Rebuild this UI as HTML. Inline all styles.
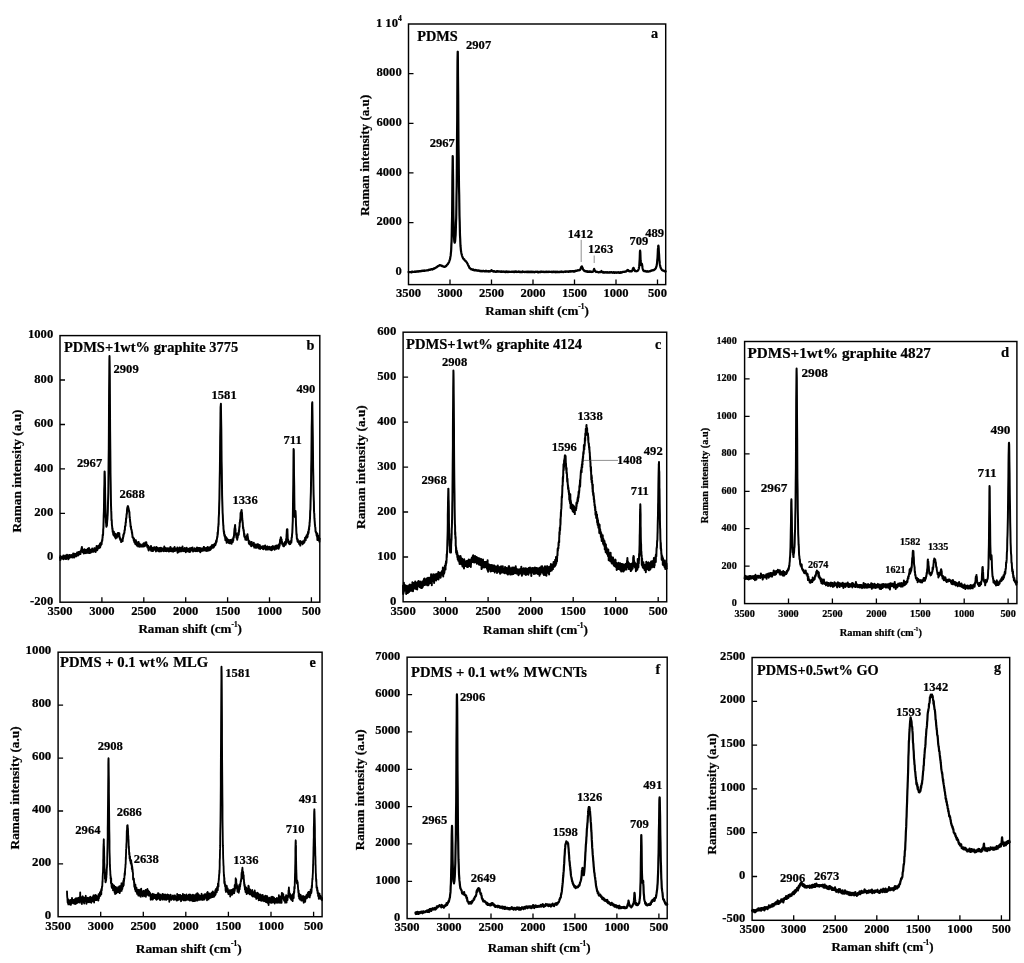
<!DOCTYPE html>
<html lang="en"><head><meta charset="utf-8"><title>Raman spectra of PDMS composites</title>
<style>html,body{margin:0;padding:0;background:#fff}body{width:1024px;height:963px;overflow:hidden}svg{display:block}text{font-family:"Liberation Serif", "DejaVu Serif", serif;font-weight:bold;fill:#000;stroke:#000;stroke-width:0.22;paint-order:stroke}.fr{fill:none;stroke:#000;stroke-width:1.45}.tk{stroke:#000;stroke-width:1.3;fill:none}.cv{fill:none;stroke:#000;stroke-linejoin:round;stroke-linecap:round}.th{stroke:#444;stroke-width:0.6}</style></head><body>
<svg width="1024" height="963" viewBox="0 0 1024 963">
<rect width="1024" height="963" fill="#fff"/>
<g id="panel-a">
<polyline class="cv" stroke-width="2.2" points="408.5,272 408.6,272 408.7,272.1 408.9,272.1 409,272.1 409.1,272 409.2,272 409.4,272.1 409.5,272 409.6,272 409.7,272 409.9,272.1 410,272.1 410.1,272.2 410.2,272.1 410.4,272 410.5,272 410.6,272.1 410.7,272.1 410.9,272.1 411,272.1 411.1,271.9 411.2,271.8 411.4,272 411.5,272.3 411.6,272.4 411.7,272.2 411.9,272 412,271.9 412.1,271.7 412.2,271.8 412.4,271.9 412.5,271.9 412.6,271.7 412.7,271.6 412.9,271.8 413,272 413.1,272 413.2,272 413.4,271.9 413.5,272 413.6,272 413.7,272 413.9,271.9 414,271.9 414.1,271.8 414.2,271.8 414.4,271.8 414.5,271.7 414.6,271.6 414.7,271.7 414.8,271.7 415,271.8 415.1,271.6 415.2,271.7 415.3,271.6 415.5,271.7 415.6,271.7 415.7,271.8 415.8,271.8 416,271.6 416.1,271.7 416.2,271.8 416.3,271.7 416.5,271.7 416.6,271.6 416.7,271.5 416.8,271.6 417,271.6 417.1,271.5 417.2,271.4 417.3,271.5 417.5,271.5 417.6,271.4 417.7,271.3 417.8,271.4 418,271.5 418.1,271.6 418.2,271.6 418.3,271.4 418.5,271.3 418.6,271.4 418.7,271.6 418.8,271.5 419,271.3 419.1,271.2 419.2,271.3 419.3,271.3 419.5,271.2 419.6,271.1 419.7,271.1 419.8,271.1 420,271.2 420.1,271.1 420.2,271.3 420.3,271.3 420.4,271.3 420.6,271.2 420.7,271.2 420.8,271.2 420.9,271 421.1,271 421.2,270.9 421.3,270.9 421.4,270.8 421.6,270.9 421.7,271.2 421.8,271 421.9,270.9 422.1,270.8 422.2,271 422.3,271 422.4,270.8 422.6,270.8 422.7,270.8 422.8,270.9 422.9,270.8 423.1,270.9 423.2,270.8 423.3,270.7 423.4,270.7 423.6,271 423.7,271 423.8,270.6 423.9,270.5 424.1,270.6 424.2,270.8 424.3,270.8 424.4,270.7 424.6,270.8 424.7,270.6 424.8,270.6 424.9,270.5 425.1,270.6 425.2,270.6 425.3,270.6 425.4,270.7 425.6,270.6 425.7,270.6 425.8,270.6 425.9,270.5 426.1,270.4 426.2,270.3 426.3,270.3 426.4,270.3 426.5,270.3 426.7,270.3 426.8,270.3 426.9,270.3 427,270.3 427.2,270.3 427.3,270.3 427.4,270.4 427.5,270.4 427.7,270.1 427.8,270.1 427.9,270.1 428,270.4 428.2,270.2 428.3,270.2 428.4,270 428.5,270 428.7,270 428.8,269.9 428.9,269.8 429,269.6 429.2,269.7 429.3,269.7 429.4,269.9 429.5,269.9 429.7,269.8 429.8,269.8 429.9,269.7 430,269.9 430.2,269.8 430.3,269.8 430.4,269.7 430.5,269.7 430.7,269.5 430.8,269.4 430.9,269.4 431,269.5 431.2,269.3 431.3,269.2 431.4,269.2 431.5,269.5 431.7,269.5 431.8,269.5 431.9,269.4 432,269.4 432.2,269.2 432.3,269.1 432.4,269.2 432.5,269.3 432.6,269.5 432.8,269.1 432.9,269.1 433,268.9 433.1,269 433.3,268.8 433.4,268.7 433.5,268.6 433.6,268.7 433.8,268.9 433.9,268.7 434,268.8 434.1,268.6 434.3,268.6 434.4,268.4 434.5,268.5 434.6,268.4 434.8,268.3 434.9,268.3 435,268.2 435.1,268.2 435.3,268.1 435.4,268 435.5,267.9 435.6,267.8 435.8,267.7 435.9,267.5 436,267.4 436.1,267.3 436.3,267.4 436.4,267.3 436.5,267.3 436.6,267.1 436.8,267.1 436.9,267 437,266.9 437.1,266.7 437.3,266.5 437.4,266.7 437.5,266.6 437.6,266.4 437.8,266.3 437.9,266.2 438,266.2 438.1,266.1 438.2,266.1 438.4,266 438.5,265.8 438.6,265.9 438.7,265.7 438.9,265.7 439,265.6 439.1,265.7 439.2,265.6 439.4,265.4 439.5,265.5 439.6,265.4 439.7,265.4 439.9,265.4 440,265.3 440.1,265.4 440.2,265.4 440.4,265.5 440.5,265.4 440.6,265.4 440.7,265.5 440.9,265.5 441,265.6 441.1,265.7 441.2,265.8 441.4,265.8 441.5,265.7 441.6,265.8 441.7,265.7 441.9,265.8 442,265.9 442.1,266 442.2,266.2 442.4,265.9 442.5,266.1 442.6,266 442.7,266.2 442.9,266.2 443,266.4 443.1,266.4 443.2,266.4 443.4,266.3 443.5,266.5 443.6,266.5 443.7,266.6 443.9,266.6 444,266.6 444.1,266.6 444.2,266.8 444.3,266.9 444.5,266.9 444.6,266.7 444.7,266.6 444.8,266.5 445,266.5 445.1,266.5 445.2,266.6 445.3,266.5 445.5,266.3 445.6,266.1 445.7,266.2 445.8,266.3 446,266.2 446.1,266.1 446.2,266 446.3,265.8 446.5,265.5 446.6,265.4 446.7,265.2 446.8,265.1 447,265 447.1,264.7 447.2,264.7 447.3,264.6 447.5,264.6 447.6,264.4 447.7,264.3 447.8,264.1 448,264 448.1,263.6 448.2,263.4 448.3,263.1 448.5,263.1 448.6,262.9 448.7,262.6 448.8,262.4 449,262.2 449.1,261.9 449.2,261.6 449.3,261.2 449.5,260.7 449.6,260.3 449.7,260 449.8,259.8 450,259.3 450.1,258.8 450.2,258.1 450.3,257.4 450.4,256.8 450.6,256 450.7,255.3 450.8,254 450.9,252.8 451.1,251.2 451.2,249.4 451.3,247 451.4,244.3 451.6,241 451.7,236.9 451.8,231.5 451.9,224.6 452.1,216 452.2,205 452.3,191.7 452.4,176.8 452.6,163.7 452.7,156 452.8,157.5 452.9,166.8 453.1,180.5 453.2,194.1 453.3,206 453.4,215.6 453.6,223.1 453.7,228.8 453.8,232.9 453.9,236 454.1,238.4 454.2,240.2 454.3,241.4 454.4,241.9 454.6,242.5 454.7,242.7 454.8,242.6 454.9,242.1 455.1,241.4 455.2,240.5 455.3,239 455.4,237.4 455.6,235.4 455.7,233.1 455.8,230.1 455.9,226.8 456,222.6 456.2,218 456.3,212.1 456.4,205.1 456.5,196.3 456.7,185.8 456.8,173.3 456.9,158.2 457,140.5 457.2,120.3 457.3,98.9 457.4,78.1 457.5,61.3 457.7,51.8 457.8,51.7 457.9,60.8 458,76.2 458.2,94.6 458.3,113 458.4,130 458.5,144.5 458.7,157.4 458.8,168.4 458.9,178.2 459,186.8 459.2,194.7 459.3,202.3 459.4,209.5 459.5,215.9 459.7,221.7 459.8,226.8 459.9,231.6 460,235.4 460.2,238.7 460.3,241.6 460.4,244 460.5,246 460.7,247.6 460.8,249.1 460.9,250.2 461,251.1 461.2,251.9 461.3,252.7 461.4,253.3 461.5,253.9 461.7,254.4 461.8,254.9 461.9,255.2 462,255.6 462.1,255.9 462.3,256.3 462.4,256.6 462.5,257.1 462.6,257.3 462.8,257.5 462.9,257.8 463,258.2 463.1,258.4 463.3,258.6 463.4,258.6 463.5,258.6 463.6,258.6 463.8,258.9 463.9,259.2 464,259.4 464.1,259.5 464.3,259.4 464.4,259.5 464.5,259.8 464.6,260.1 464.8,260.3 464.9,260.5 465,260.7 465.1,260.8 465.3,260.7 465.4,260.8 465.5,260.8 465.6,261 465.8,261.1 465.9,261.2 466,261.4 466.1,261.6 466.3,261.8 466.4,262 466.5,262.1 466.6,262.3 466.8,262.4 466.9,262.5 467,262.8 467.1,263 467.3,263.4 467.4,263.5 467.5,263.7 467.6,263.8 467.8,264.1 467.9,264.4 468,264.8 468.1,265.1 468.2,265.4 468.4,265.5 468.5,265.8 468.6,265.9 468.7,266.2 468.9,266.4 469,266.8 469.1,267 469.2,267.4 469.4,267.8 469.5,268 469.6,268 469.7,268 469.9,268.1 470,268.3 470.1,268.3 470.2,268.6 470.4,268.6 470.5,268.8 470.6,268.8 470.7,268.7 470.9,268.9 471,268.9 471.1,269.3 471.2,269.1 471.4,269.2 471.5,269.1 471.6,269.2 471.7,269.1 471.9,269.4 472,269.5 472.1,269.4 472.2,269.5 472.4,269.6 472.5,269.8 472.6,269.6 472.7,269.6 472.9,269.5 473,269.8 473.1,269.7 473.2,269.8 473.4,269.9 473.5,269.9 473.6,269.7 473.7,269.7 473.8,269.9 474,270 474.1,270.1 474.2,270.3 474.3,270.5 474.5,270.5 474.6,270.4 474.7,270.2 474.8,270.2 475,270.2 475.1,270.3 475.2,270.1 475.3,270 475.5,269.9 475.6,270.1 475.7,270.1 475.8,270.3 476,270.3 476.1,270.4 476.2,270.2 476.3,270.3 476.5,270.4 476.6,270.5 476.7,270.4 476.8,270.4 477,270.5 477.1,270.7 477.2,270.8 477.3,270.6 477.5,270.5 477.6,270.3 477.7,270.4 477.8,270.5 478,270.6 478.1,270.7 478.2,270.6 478.3,270.5 478.5,270.4 478.6,270.5 478.7,270.6 478.8,270.8 479,270.6 479.1,270.6 479.2,270.7 479.3,270.9 479.5,270.7 479.6,270.5 479.7,270.5 479.8,270.7 479.9,270.9 480.1,271.1 480.2,271.3 480.3,271.1 480.4,270.9 480.6,270.8 480.7,270.8 480.8,270.8 480.9,270.9 481.1,270.9 481.2,270.9 481.3,271 481.4,271.2 481.6,271.3 481.7,271.3 481.8,271.3 481.9,271.3 482.1,271.3 482.2,271.2 482.3,271.3 482.4,271.3 482.6,271.2 482.7,271 482.8,270.9 482.9,271 483.1,271.2 483.2,271.2 483.3,270.9 483.4,270.8 483.6,270.9 483.7,270.9 483.8,270.9 483.9,271 484.1,271.3 484.2,271.3 484.3,271.1 484.4,271.1 484.6,271.1 484.7,271.4 484.8,271.3 484.9,271.2 485.1,271.1 485.2,271 485.3,271.1 485.4,271 485.6,270.9 485.7,270.9 485.8,271 485.9,271.2 486,271.4 486.2,271.3 486.3,271.3 486.4,271 486.5,270.9 486.7,270.9 486.8,271.1 486.9,271.1 487,271.3 487.2,271.3 487.3,271.4 487.4,271.3 487.5,271.3 487.7,271.4 487.8,271.3 487.9,271.2 488,271.2 488.2,271.2 488.3,271.2 488.4,271.1 488.5,271.2 488.7,271.4 488.8,271.6 488.9,271.7 489,271.6 489.2,271.4 489.3,271.2 489.4,271.2 489.5,271.4 489.7,271.5 489.8,271.5 489.9,271.4 490,271.5 490.2,271.4 490.3,271.2 490.4,271.2 490.5,271 490.7,271.2 490.8,270.9 490.9,270.8 491,270.7 491.2,270.7 491.3,270.4 491.4,270.1 491.5,270.1 491.6,270.2 491.8,270.5 491.9,270.6 492,270.7 492.1,270.8 492.3,270.9 492.4,270.9 492.5,270.9 492.6,271 492.8,271.2 492.9,271.2 493,271.4 493.1,271.3 493.3,271.5 493.4,271.3 493.5,271.3 493.6,271.1 493.8,271.3 493.9,271.3 494,271.4 494.1,271.6 494.3,271.6 494.4,271.6 494.5,271.3 494.6,271.2 494.8,271.3 494.9,271.3 495,271.4 495.1,271.5 495.3,271.7 495.4,271.7 495.5,271.7 495.6,271.6 495.8,271.8 495.9,272 496,272 496.1,271.6 496.3,271.5 496.4,271.5 496.5,271.8 496.6,271.6 496.8,271.6 496.9,271.2 497,271.3 497.1,271.2 497.3,271.4 497.4,271.5 497.5,271.6 497.6,271.6 497.7,271.6 497.9,271.4 498,271.4 498.1,271.2 498.2,271.3 498.4,271.3 498.5,271.5 498.6,271.6 498.7,271.7 498.9,271.7 499,271.6 499.1,271.5 499.2,271.3 499.4,271.4 499.5,271.4 499.6,271.6 499.7,271.7 499.9,271.7 500,271.6 500.1,271.6 500.2,271.6 500.4,271.8 500.5,271.7 500.6,271.8 500.7,271.7 500.9,271.8 501,271.6 501.1,271.6 501.2,271.4 501.4,271.4 501.5,271.6 501.6,271.7 501.7,271.9 501.9,271.7 502,271.6 502.1,271.4 502.2,271.5 502.4,271.7 502.5,271.7 502.6,271.8 502.7,271.7 502.9,271.7 503,271.7 503.1,271.7 503.2,271.7 503.4,271.7 503.5,271.8 503.6,271.7 503.7,271.6 503.8,271.4 504,271.6 504.1,271.8 504.2,271.8 504.3,271.7 504.5,271.6 504.6,271.8 504.7,271.9 504.8,272 505,271.9 505.1,272.1 505.2,271.9 505.3,272.1 505.5,271.9 505.6,271.8 505.7,271.6 505.8,271.5 506,271.7 506.1,271.8 506.2,272 506.3,271.8 506.5,271.8 506.6,271.5 506.7,271.7 506.8,271.7 507,271.8 507.1,271.6 507.2,271.5 507.3,271.5 507.5,271.7 507.6,272 507.7,271.9 507.8,271.8 508,271.7 508.1,271.8 508.2,272 508.3,272.1 508.5,272 508.6,271.8 508.7,271.6 508.8,271.8 509,271.8 509.1,271.7 509.2,271.7 509.3,271.7 509.4,271.9 509.6,271.8 509.7,271.8 509.8,271.8 509.9,271.9 510.1,271.9 510.2,271.9 510.3,271.9 510.4,271.9 510.6,271.8 510.7,271.8 510.8,271.8 510.9,271.8 511.1,271.8 511.2,271.8 511.3,271.8 511.4,271.7 511.6,271.7 511.7,271.8 511.8,271.9 511.9,271.9 512.1,271.8 512.2,271.6 512.3,271.8 512.4,271.9 512.6,272 512.7,271.9 512.8,271.9 512.9,271.9 513.1,271.8 513.2,271.8 513.3,271.6 513.4,271.7 513.6,271.6 513.7,271.6 513.8,271.7 513.9,271.9 514.1,272.1 514.2,272.1 514.3,272 514.4,271.7 514.6,271.6 514.7,271.7 514.8,271.7 514.9,271.8 515.1,271.7 515.2,271.6 515.3,271.6 515.4,271.4 515.5,271.6 515.7,271.6 515.8,271.8 515.9,271.8 516,271.7 516.2,271.8 516.3,271.7 516.4,271.8 516.5,271.6 516.7,271.6 516.8,271.7 516.9,271.9 517,272.1 517.2,272 517.3,271.9 517.4,271.8 517.5,271.9 517.7,271.9 517.8,271.8 517.9,271.8 518,271.9 518.2,272 518.3,271.9 518.4,271.9 518.5,271.7 518.7,271.6 518.8,271.5 518.9,271.8 519,271.7 519.2,271.7 519.3,271.7 519.4,271.9 519.5,272 519.7,271.8 519.8,271.7 519.9,271.7 520,272 520.2,272 520.3,272.1 520.4,272 520.5,272 520.7,272 520.8,271.8 520.9,271.8 521,271.9 521.2,272 521.3,272.2 521.4,272 521.5,271.9 521.6,271.9 521.8,271.8 521.9,271.9 522,271.9 522.1,272 522.3,271.9 522.4,272 522.5,271.9 522.6,272.1 522.8,271.9 522.9,271.9 523,271.8 523.1,271.8 523.3,272 523.4,272 523.5,271.9 523.6,271.8 523.8,271.6 523.9,271.8 524,271.8 524.1,272 524.3,272 524.4,271.9 524.5,272 524.6,272.1 524.8,272.2 524.9,272.1 525,272 525.1,271.8 525.3,272 525.4,271.9 525.5,272 525.6,272 525.8,272 525.9,271.9 526,271.8 526.1,271.7 526.3,271.7 526.4,271.7 526.5,271.8 526.6,272 526.8,272.2 526.9,272.1 527,272 527.1,271.9 527.2,271.8 527.4,271.8 527.5,271.7 527.6,271.8 527.7,271.8 527.9,272 528,271.9 528.1,272 528.2,272 528.4,271.8 528.5,272 528.6,271.9 528.7,272.1 528.9,272 529,272 529.1,272.1 529.2,272 529.4,272.1 529.5,272 529.6,272 529.7,271.8 529.9,271.7 530,271.7 530.1,271.6 530.2,271.8 530.4,271.9 530.5,272.2 530.6,272 530.7,271.9 530.9,271.7 531,271.7 531.1,271.8 531.2,271.9 531.4,272.1 531.5,271.9 531.6,271.7 531.7,271.6 531.9,271.8 532,271.9 532.1,272 532.2,272 532.4,272.2 532.5,272.2 532.6,272.2 532.7,271.9 532.9,271.9 533,271.8 533.1,271.8 533.2,271.8 533.3,272.1 533.5,272.2 533.6,272.1 533.7,272 533.8,271.9 534,272 534.1,272 534.2,271.9 534.3,272.1 534.5,272.1 534.6,272.3 534.7,272.3 534.8,272.2 535,272.1 535.1,271.9 535.2,272 535.3,271.8 535.5,271.8 535.6,271.7 535.7,271.9 535.8,271.9 536,272 536.1,272 536.2,271.9 536.3,271.8 536.5,271.7 536.6,271.8 536.7,271.9 536.8,271.9 537,271.8 537.1,271.7 537.2,271.8 537.3,271.7 537.5,271.8 537.6,272 537.7,272.1 537.8,272 538,272.2 538.1,272.2 538.2,272.4 538.3,272.1 538.5,272.1 538.6,271.8 538.7,271.9 538.8,271.9 539,272 539.1,272 539.2,272.2 539.3,272.2 539.4,272.1 539.6,271.9 539.7,272 539.8,272.1 539.9,272.1 540.1,271.9 540.2,271.8 540.3,272 540.4,271.9 540.6,272.1 540.7,271.9 540.8,271.9 540.9,271.6 541.1,271.6 541.2,271.6 541.3,271.8 541.4,271.9 541.6,271.9 541.7,271.9 541.8,271.8 541.9,272 542.1,272 542.2,272 542.3,271.9 542.4,272 542.6,271.9 542.7,271.8 542.8,271.8 542.9,272 543.1,272.1 543.2,272.1 543.3,271.9 543.4,271.9 543.6,271.7 543.7,271.9 543.8,271.9 543.9,272 544.1,271.9 544.2,271.9 544.3,272 544.4,272 544.6,272 544.7,272 544.8,272.1 544.9,272 545,271.9 545.2,271.9 545.3,271.9 545.4,272 545.5,271.9 545.7,271.9 545.8,271.7 545.9,271.9 546,271.8 546.2,272 546.3,271.9 546.4,272 546.5,271.7 546.7,271.6 546.8,271.7 546.9,271.8 547,271.9 547.2,271.9 547.3,272 547.4,271.9 547.5,271.8 547.7,271.9 547.8,271.8 547.9,271.9 548,271.8 548.2,271.8 548.3,272 548.4,271.9 548.5,271.9 548.7,271.8 548.8,271.9 548.9,271.9 549,272 549.2,272 549.3,271.9 549.4,271.8 549.5,271.8 549.7,271.8 549.8,271.7 549.9,271.8 550,272 550.2,272 550.3,272 550.4,272 550.5,272 550.7,271.9 550.8,271.8 550.9,271.9 551,271.9 551.1,271.9 551.3,271.7 551.4,271.8 551.5,271.8 551.6,271.9 551.8,272 551.9,272.2 552,272 552.1,272 552.3,271.8 552.4,272.1 552.5,272 552.6,272.2 552.8,272.2 552.9,272.1 553,272 553.1,271.9 553.3,272 553.4,271.7 553.5,271.8 553.6,271.7 553.8,271.8 553.9,271.8 554,272 554.1,272 554.3,272 554.4,271.9 554.5,272 554.6,271.8 554.8,271.8 554.9,271.9 555,272 555.1,271.8 555.3,271.6 555.4,271.8 555.5,271.8 555.6,272.2 555.8,272.1 555.9,272.3 556,271.8 556.1,271.8 556.3,271.8 556.4,272 556.5,272.1 556.6,272 556.8,272 556.9,271.9 557,271.7 557.1,271.7 557.2,271.8 557.4,272.1 557.5,272.2 557.6,272 557.7,271.9 557.9,271.9 558,272 558.1,272.1 558.2,272.1 558.4,272.1 558.5,272 558.6,271.9 558.7,271.9 558.9,272 559,272 559.1,272.1 559.2,272 559.4,271.9 559.5,272 559.6,272 559.7,272 559.9,271.7 560,271.8 560.1,271.8 560.2,272 560.4,271.8 560.5,271.8 560.6,271.7 560.7,271.7 560.9,271.8 561,271.9 561.1,271.9 561.2,271.9 561.4,271.6 561.5,271.5 561.6,271.6 561.7,271.8 561.9,272.1 562,272.1 562.1,272.1 562.2,271.9 562.4,271.8 562.5,271.8 562.6,271.9 562.7,271.9 562.9,272 563,271.9 563.1,271.8 563.2,271.8 563.3,271.8 563.5,271.8 563.6,271.8 563.7,272 563.8,272.1 564,272 564.1,271.9 564.2,271.8 564.3,271.7 564.5,271.7 564.6,271.7 564.7,271.6 564.8,271.5 565,271.4 565.1,271.4 565.2,271.4 565.3,271.6 565.5,271.8 565.6,271.9 565.7,271.9 565.8,271.8 566,271.7 566.1,271.6 566.2,271.7 566.3,271.6 566.5,271.7 566.6,271.6 566.7,271.7 566.8,271.7 567,271.5 567.1,271.6 567.2,271.6 567.3,271.7 567.5,271.5 567.6,271.5 567.7,271.5 567.8,271.6 568,271.7 568.1,271.8 568.2,271.8 568.3,271.9 568.5,271.9 568.6,271.7 568.7,271.4 568.8,271.5 568.9,271.6 569.1,271.7 569.2,271.5 569.3,271.4 569.4,271.3 569.6,271.6 569.7,271.6 569.8,271.5 569.9,271.2 570.1,271.2 570.2,271.4 570.3,271.5 570.4,271.5 570.6,271.4 570.7,271.4 570.8,271.5 570.9,271.3 571.1,271.5 571.2,271.4 571.3,271.6 571.4,271.4 571.6,271.3 571.7,271.1 571.8,271.1 571.9,271.4 572.1,271.3 572.2,271.3 572.3,271.2 572.4,271.3 572.6,271.4 572.7,271.3 572.8,271.3 572.9,271.3 573.1,271.6 573.2,271.6 573.3,271.5 573.4,271.2 573.6,271.2 573.7,271.2 573.8,271.1 573.9,271.2 574.1,271.1 574.2,271.3 574.3,271.4 574.4,271.6 574.6,271.6 574.7,271.6 574.8,271.4 574.9,271 575,270.9 575.2,270.8 575.3,270.9 575.4,270.9 575.5,271 575.7,271 575.8,270.9 575.9,271 576,270.9 576.2,270.9 576.3,270.7 576.4,270.9 576.5,270.8 576.7,270.9 576.8,270.6 576.9,270.7 577,270.5 577.2,270.5 577.3,270.4 577.4,270.5 577.5,270.5 577.7,270.3 577.8,270.2 577.9,270.1 578,270.2 578.2,270.4 578.3,270.4 578.4,270.3 578.5,270.4 578.7,270.4 578.8,270.4 578.9,270.1 579,270.2 579.2,270.1 579.3,270.3 579.4,270 579.5,269.9 579.7,269.8 579.8,269.8 579.9,269.9 580,270 580.2,269.7 580.3,269.4 580.4,269.1 580.5,269 580.7,268.9 580.8,268.5 580.9,268.1 581,267.5 581.1,267.3 581.3,266.9 581.4,266.7 581.5,266.5 581.6,266.5 581.8,266.5 581.9,266.4 582,266.6 582.1,267 582.3,267.4 582.4,267.5 582.5,267.8 582.6,268.2 582.8,268.7 582.9,268.7 583,269.2 583.1,269.3 583.3,269.9 583.4,269.9 583.5,270.2 583.6,270 583.8,270.1 583.9,270.4 584,270.6 584.1,270.7 584.3,270.7 584.4,270.9 584.5,270.8 584.6,270.9 584.8,270.9 584.9,270.9 585,270.9 585.1,271 585.3,271.2 585.4,271.4 585.5,271.3 585.6,271.3 585.8,271.2 585.9,271.2 586,271.1 586.1,271.1 586.3,271.1 586.4,271.4 586.5,271.5 586.6,271.6 586.7,271.7 586.9,271.5 587,271.6 587.1,271.5 587.2,271.8 587.4,271.8 587.5,271.9 587.6,271.7 587.7,271.8 587.9,271.7 588,271.6 588.1,271.4 588.2,271.5 588.4,271.7 588.5,271.8 588.6,271.7 588.7,271.6 588.9,271.5 589,271.7 589.1,271.8 589.2,271.7 589.4,271.8 589.5,271.8 589.6,271.7 589.7,271.4 589.9,271.4 590,271.6 590.1,271.5 590.2,271.7 590.4,271.8 590.5,271.9 590.6,271.8 590.7,271.7 590.9,271.9 591,271.8 591.1,271.8 591.2,271.6 591.4,271.7 591.5,271.6 591.6,271.7 591.7,271.8 591.9,272 592,271.9 592.1,271.9 592.2,271.8 592.4,271.8 592.5,271.8 592.6,271.9 592.7,271.7 592.8,271.5 593,271.4 593.1,271.4 593.2,271.2 593.3,271 593.5,270.7 593.6,270.4 593.7,270.1 593.8,269.8 594,269.4 594.1,268.9 594.2,268.9 594.3,269.4 594.5,270.1 594.6,270.6 594.7,270.8 594.8,271.1 595,271.2 595.1,271.3 595.2,271.3 595.3,271.2 595.5,271.1 595.6,271.2 595.7,271.5 595.8,271.8 596,272 596.1,271.7 596.2,271.6 596.3,271.6 596.5,271.8 596.6,271.8 596.7,271.9 596.8,271.9 597,271.9 597.1,271.9 597.2,271.9 597.3,271.9 597.5,271.8 597.6,271.8 597.7,271.9 597.8,272.1 598,272.2 598.1,272.2 598.2,272.2 598.3,272.2 598.5,272.2 598.6,272.4 598.7,272.4 598.8,272.3 598.9,272.3 599.1,272.3 599.2,272.2 599.3,272 599.4,272 599.6,272.1 599.7,272.2 599.8,272 599.9,272.1 600.1,272.1 600.2,272.1 600.3,272.1 600.4,272 600.6,272.2 600.7,272 600.8,272.1 600.9,272 601.1,271.9 601.2,271.6 601.3,271.3 601.4,271 601.6,271.2 601.7,271.4 601.8,271.6 601.9,271.9 602.1,272 602.2,272 602.3,272 602.4,272.1 602.6,272.1 602.7,272.1 602.8,272.3 602.9,272.5 603.1,272.2 603.2,272 603.3,272.1 603.4,272.4 603.6,272.5 603.7,272.4 603.8,272.4 603.9,272.6 604.1,272.5 604.2,272.4 604.3,272.2 604.4,272.3 604.5,272.3 604.7,272.4 604.8,272.5 604.9,272.7 605,272.6 605.2,272.4 605.3,272.3 605.4,272.3 605.5,272.2 605.7,272.2 605.8,272.3 605.9,272.4 606,272.3 606.2,272.4 606.3,272.4 606.4,272.5 606.5,272.4 606.7,272.5 606.8,272.6 606.9,272.4 607,272.2 607.2,272.1 607.3,272.4 607.4,272.4 607.5,272.4 607.7,272.3 607.8,272.4 607.9,272.4 608,272.5 608.2,272.5 608.3,272.7 608.4,272.7 608.5,272.6 608.7,272.3 608.8,272.4 608.9,272.4 609,272.5 609.2,272.5 609.3,272.7 609.4,272.7 609.5,272.7 609.7,272.4 609.8,272.2 609.9,272.2 610,272.4 610.2,272.5 610.3,272.4 610.4,272.5 610.5,272.4 610.6,272.3 610.8,272.2 610.9,272.3 611,272.4 611.1,272.3 611.3,272.4 611.4,272.3 611.5,272.4 611.6,272.3 611.8,272.5 611.9,272.4 612,272.4 612.1,272.4 612.3,272.6 612.4,272.7 612.5,272.8 612.6,272.7 612.8,272.6 612.9,272.5 613,272.4 613.1,272.4 613.3,272.4 613.4,272.6 613.5,272.4 613.6,272.2 613.8,272.1 613.9,272.1 614,272.3 614.1,272.5 614.3,272.8 614.4,272.9 614.5,272.8 614.6,272.7 614.8,272.5 614.9,272.3 615,272.3 615.1,272.4 615.3,272.5 615.4,272.6 615.5,272.5 615.6,272.4 615.8,272.4 615.9,272.4 616,272.6 616.1,272.8 616.3,272.8 616.4,272.5 616.5,272.4 616.6,272.3 616.7,272.3 616.9,272.3 617,272.4 617.1,272.5 617.2,272.6 617.4,272.6 617.5,272.5 617.6,272.3 617.7,272.3 617.9,272.3 618,272.2 618.1,272.3 618.2,272.4 618.4,272.5 618.5,272.3 618.6,272.5 618.7,272.6 618.9,272.8 619,272.6 619.1,272.5 619.2,272.5 619.4,272.4 619.5,272.6 619.6,272.8 619.7,272.8 619.9,272.6 620,272.6 620.1,272.7 620.2,272.9 620.4,272.8 620.5,272.5 620.6,272.1 620.7,272.1 620.9,272.2 621,272.2 621.1,272.1 621.2,272.1 621.4,272.4 621.5,272.5 621.6,272.6 621.7,272.5 621.9,272.3 622,272.3 622.1,272.3 622.2,272.3 622.3,272 622.5,271.9 622.6,271.8 622.7,272 622.8,272.1 623,272 623.1,272 623.2,271.9 623.3,271.9 623.5,271.8 623.6,271.9 623.7,272 623.8,272 624,271.9 624.1,271.7 624.2,271.6 624.3,271.7 624.5,271.8 624.6,271.9 624.7,271.9 624.8,271.8 625,271.8 625.1,271.6 625.2,271.7 625.3,271.7 625.5,271.6 625.6,271.6 625.7,271.5 625.8,271.7 626,271.6 626.1,271.5 626.2,271.4 626.3,271.3 626.5,271.2 626.6,271.1 626.7,270.8 626.8,270.6 627,270.6 627.1,270.5 627.2,270.4 627.3,270.2 627.5,270.3 627.6,270.2 627.7,270.2 627.8,270 628,270.1 628.1,270.3 628.2,270.7 628.3,270.8 628.4,270.9 628.6,270.8 628.7,271 628.8,270.9 628.9,271 629.1,270.9 629.2,271 629.3,271.1 629.4,271.3 629.6,271.3 629.7,271.3 629.8,271.3 629.9,271.4 630.1,271.2 630.2,271.1 630.3,271.1 630.4,271.3 630.6,271.2 630.7,271.3 630.8,271.2 630.9,271.2 631.1,271.2 631.2,271.2 631.3,271.3 631.4,271.3 631.6,271.4 631.7,271.3 631.8,271.2 631.9,270.9 632.1,270.8 632.2,270.5 632.3,270.4 632.4,270.2 632.6,270 632.7,269.5 632.8,269.2 632.9,268.8 633.1,268.5 633.2,268.1 633.3,267.9 633.4,267.9 633.6,267.9 633.7,268.2 633.8,268.5 633.9,268.9 634.1,269.1 634.2,269.6 634.3,270 634.4,270.3 634.5,270.3 634.7,270.7 634.8,270.8 634.9,271 635,270.8 635.2,270.9 635.3,270.6 635.4,270.8 635.5,271 635.7,271.2 635.8,271.1 635.9,271 636,271 636.2,271 636.3,271.1 636.4,271.2 636.5,271.3 636.7,271.2 636.8,271.1 636.9,271.1 637,271 637.2,271 637.3,270.9 637.4,270.8 637.5,270.8 637.7,270.7 637.8,270.8 637.9,270.6 638,270.5 638.2,270.2 638.3,270.1 638.4,269.7 638.5,269.4 638.7,269.1 638.8,268.7 638.9,268.2 639,267.3 639.2,266.4 639.3,265.2 639.4,263.8 639.5,261.9 639.7,259.2 639.8,256.2 639.9,253.1 640,251.1 640.1,250.6 640.3,252 640.4,254.6 640.5,257.6 640.6,260.2 640.8,262.2 640.9,263.5 641,264.5 641.1,264.9 641.3,265 641.4,264.8 641.5,264.3 641.6,263.9 641.8,263.6 641.9,263.9 642,264.3 642.1,265.1 642.3,265.9 642.4,266.8 642.5,267.7 642.6,268.3 642.8,269 642.9,269.6 643,269.9 643.1,270.2 643.3,270.3 643.4,270.4 643.5,270.5 643.6,270.8 643.8,270.9 643.9,271.1 644,271 644.1,271.2 644.3,271.1 644.4,270.9 644.5,271 644.6,271.1 644.8,271.2 644.9,271.2 645,271.3 645.1,271.3 645.3,271.1 645.4,271 645.5,271.2 645.6,271.4 645.8,271.5 645.9,271.4 646,271.3 646.1,271.4 646.2,271.5 646.4,271.6 646.5,271.5 646.6,271.7 646.7,271.5 646.9,271.6 647,271.5 647.1,271.6 647.2,271.7 647.4,271.5 647.5,271.6 647.6,271.4 647.7,271.4 647.9,271.2 648,271.3 648.1,271.4 648.2,271.5 648.4,271.6 648.5,271.5 648.6,271.5 648.7,271.5 648.9,271.4 649,271.3 649.1,271.3 649.2,271.4 649.4,271.4 649.5,271.2 649.6,271.3 649.7,271.5 649.9,271.5 650,271.4 650.1,271.3 650.2,271.2 650.4,271.1 650.5,271.1 650.6,271.1 650.7,270.8 650.9,270.7 651,270.6 651.1,270.8 651.2,270.7 651.4,270.8 651.5,270.7 651.6,270.7 651.7,270.5 651.9,270.3 652,270.3 652.1,270.2 652.2,270.5 652.3,270.4 652.5,270.3 652.6,270.2 652.7,270.3 652.8,270.4 653,270.3 653.1,270.3 653.2,270.3 653.3,270.1 653.5,270.1 653.6,270 653.7,270.2 653.8,270 654,269.9 654.1,269.7 654.2,269.7 654.3,269.6 654.5,269.8 654.6,269.6 654.7,269.5 654.8,269.2 655,269.2 655.1,269.2 655.2,269.2 655.3,268.9 655.5,268.7 655.6,268.4 655.7,268.4 655.8,268.1 656,267.8 656.1,267.3 656.2,266.9 656.3,266.6 656.5,266.3 656.6,265.9 656.7,265.3 656.8,264.4 657,263.5 657.1,262.3 657.2,261.1 657.3,259.7 657.5,258.1 657.6,256.3 657.7,254.2 657.8,252 657.9,249.6 658.1,247.7 658.2,246.3 658.3,245.7 658.4,245.6 658.6,246.7 658.7,248.3 658.8,250.5 658.9,252.5 659.1,254.6 659.2,256.8 659.3,258.7 659.4,260.1 659.6,261.4 659.7,262.6 659.8,263.9 659.9,264.7 660.1,265.4 660.2,265.9 660.3,266.5 660.4,267.1 660.6,267.6 660.7,267.9 660.8,268 660.9,268.2 661.1,268.5 661.2,268.8 661.3,268.9 661.4,269 661.6,269.3 661.7,269.5 661.8,269.6 661.9,269.9 662.1,270 662.2,270.1 662.3,270.1 662.4,270.3 662.6,270.3 662.7,270.4 662.8,270.6 662.9,270.6 663.1,270.6 663.2,270.5 663.3,270.6 663.4,270.5 663.6,270.5 663.7,270.5 663.8,270.6 663.9,270.9 664,271 664.2,271.1 664.3,271 664.4,271.1 664.5,271.3 664.7,271.2 664.8,271.2 664.9,271.2 665,271.3 665.2,271.4 665.3,271.4 665.4,271.4 665.5,271.4 665.7,271.4"/>
<rect class="fr" x="408.5" y="24" width="257.2" height="260.6"/>
<path class="tk" d="M450 284.6v-5M491.5 284.6v-5M533 284.6v-5M574.5 284.6v-5M616 284.6v-5M657.5 284.6v-5M408.5 272.2h5M408.5 222.6h5M408.5 172.9h5M408.5 123.3h5M408.5 73.6h5"/>
<text x="408.5" y="297.1" font-size="12.6" text-anchor="middle">3500</text>
<text x="450" y="297.1" font-size="12.6" text-anchor="middle">3000</text>
<text x="491.5" y="297.1" font-size="12.6" text-anchor="middle">2500</text>
<text x="533" y="297.1" font-size="12.6" text-anchor="middle">2000</text>
<text x="574.5" y="297.1" font-size="12.6" text-anchor="middle">1500</text>
<text x="616" y="297.1" font-size="12.6" text-anchor="middle">1000</text>
<text x="657.5" y="297.1" font-size="12.6" text-anchor="middle">500</text>
<text x="401.7" y="274.9" font-size="12.6" text-anchor="end">0</text>
<text x="401.7" y="225.3" font-size="12.6" text-anchor="end">2000</text>
<text x="401.7" y="175.6" font-size="12.6" text-anchor="end">4000</text>
<text x="401.7" y="126" font-size="12.6" text-anchor="end">6000</text>
<text x="401.7" y="76.3" font-size="12.6" text-anchor="end">8000</text>
<text x="401.7" y="26.7" font-size="12.6" text-anchor="end">1 10<tspan font-size="7.5" dy="-5.5">4</tspan></text>
<text x="537" y="315.4" font-size="13.1" text-anchor="middle">Raman shift (cm<tspan font-size="7.3" dy="-6.5">-1</tspan><tspan dy="6.5">)</tspan></text>
<text transform="translate(368.6 155.3) rotate(-90)" font-size="13.1" text-anchor="middle">Raman intensity (a.u)</text>
</g>
<g id="panel-b">
<polyline class="cv" stroke-width="2.0" points="60,557.5 60.1,558.2 60.3,558.1 60.4,560.1 60.5,555.9 60.6,556.5 60.8,558 60.9,556.9 61,557.4 61.1,558.2 61.3,556.7 61.4,557.9 61.5,558 61.6,558.4 61.8,557.2 61.9,557.7 62,557.1 62.1,558.2 62.3,557.5 62.4,558.5 62.5,556.7 62.6,557.4 62.8,557.2 62.9,557.1 63,558.6 63.1,556.7 63.3,555.5 63.4,559.2 63.5,559.2 63.6,559 63.8,556.6 63.9,557.3 64,556.4 64.1,556.7 64.3,557.2 64.4,557.1 64.5,557.6 64.7,556.5 64.8,558.5 64.9,557.8 65,557.1 65.2,555.5 65.3,558.1 65.4,558.4 65.5,557.9 65.7,556.3 65.8,557.5 65.9,555.9 66,559.1 66.2,556.1 66.3,556.2 66.4,558.6 66.5,557 66.7,555.9 66.8,557.1 66.9,556.1 67,554.7 67.2,556.8 67.3,557.3 67.4,557.8 67.5,556.4 67.7,557.2 67.8,557.2 67.9,557.1 68,556.3 68.2,558 68.3,558.4 68.4,559.3 68.5,555.7 68.7,556.8 68.8,555.3 68.9,556.8 69,557.5 69.2,556.3 69.3,556.8 69.4,557.9 69.6,557.6 69.7,554.9 69.8,556.3 69.9,556.2 70.1,556.8 70.2,557.2 70.3,555.6 70.4,556.6 70.6,557.2 70.7,556.6 70.8,557.3 70.9,556.2 71.1,555.2 71.2,557.2 71.3,554.9 71.4,556.9 71.6,556.1 71.7,557.1 71.8,556.4 71.9,556.1 72.1,556.6 72.2,556.8 72.3,556.7 72.4,556.9 72.6,557.6 72.7,556.2 72.8,555.5 72.9,555 73.1,555.2 73.2,553.4 73.3,555.5 73.4,556.2 73.6,553.9 73.7,556.8 73.8,554.7 74,556.6 74.1,555.3 74.2,557.5 74.3,554.6 74.5,555.7 74.6,556.4 74.7,553.8 74.8,554.6 75,555.3 75.1,556.1 75.2,555.3 75.3,555.4 75.5,554.5 75.6,554.4 75.7,555.8 75.8,555.7 76,555.6 76.1,556.4 76.2,555.6 76.3,555 76.5,554.2 76.6,553.6 76.7,555.6 76.8,554.2 77,555.2 77.1,552.6 77.2,554.7 77.3,554 77.5,555.4 77.6,555.2 77.7,554.1 77.8,554.6 78,553.7 78.1,555.5 78.2,553.2 78.4,554.6 78.5,551.9 78.6,553.8 78.7,552.3 78.9,554.6 79,552.7 79.1,553.9 79.2,553.4 79.4,552.7 79.5,553 79.6,552.3 79.7,551.7 79.9,551.7 80,552.3 80.1,553.5 80.2,552.8 80.4,552.1 80.5,553.9 80.6,550.9 80.7,551.8 80.9,551.7 81,550.3 81.1,550.4 81.2,550.5 81.4,551.2 81.5,549.2 81.6,548.2 81.7,548.7 81.9,546.9 82,548.3 82.1,551.6 82.2,550.1 82.4,551.9 82.5,549.7 82.6,550.2 82.7,552.2 82.9,552.1 83,551.1 83.1,551.5 83.3,549.8 83.4,550.6 83.5,551.6 83.6,550.7 83.8,553.4 83.9,551 84,550.5 84.1,551.5 84.3,552 84.4,550.7 84.5,549.3 84.6,551.1 84.8,552.4 84.9,549.8 85,553.1 85.1,550.7 85.3,551.8 85.4,550.3 85.5,552.1 85.6,549.9 85.8,550.9 85.9,552.9 86,553.1 86.1,551.5 86.3,549.9 86.4,551 86.5,551.1 86.6,551.4 86.8,550.4 86.9,550.7 87,550.8 87.1,552.1 87.3,549.9 87.4,549.7 87.5,552.3 87.7,548.7 87.8,550.3 87.9,551.5 88,552.9 88.2,550.3 88.3,550.4 88.4,551.6 88.5,552.7 88.7,549.8 88.8,551.5 88.9,551.4 89,548 89.2,548.8 89.3,549.9 89.4,551.3 89.5,550.2 89.7,553.1 89.8,550.7 89.9,551.5 90,552.1 90.2,552.3 90.3,550.2 90.4,550.6 90.5,550.5 90.7,549.8 90.8,551.5 90.9,551.9 91,552.4 91.2,550.9 91.3,549.8 91.4,550.7 91.5,549.9 91.7,551.7 91.8,551 91.9,551.2 92,551.7 92.2,548.6 92.3,549.6 92.4,551.1 92.6,551.1 92.7,550.4 92.8,551.7 92.9,549.8 93.1,551.5 93.2,550.6 93.3,551.2 93.4,550.6 93.6,551.4 93.7,551.6 93.8,551 93.9,550.7 94.1,550.2 94.2,549.8 94.3,548.3 94.4,549 94.6,550 94.7,549 94.8,550.4 94.9,548.2 95.1,549 95.2,550.9 95.3,548.7 95.4,548.6 95.6,552 95.7,550 95.8,549.7 95.9,551.1 96.1,550.1 96.2,549.9 96.3,548.4 96.4,548.5 96.6,546.1 96.7,549.1 96.8,547.5 97,548.4 97.1,548.2 97.2,549.5 97.3,550.2 97.5,549 97.6,547.3 97.7,546.4 97.8,547.3 98,547.3 98.1,548.5 98.2,546.1 98.3,546.2 98.5,547.9 98.6,547.3 98.7,548.2 98.8,545.6 99,546.5 99.1,546.9 99.2,546.3 99.3,546.1 99.5,546.8 99.6,547.5 99.7,547.4 99.8,547.7 100,545.3 100.1,543.4 100.2,547.2 100.3,545.1 100.5,544.7 100.6,545.9 100.7,544.4 100.8,545.5 101,543 101.1,544.5 101.2,543.5 101.4,542.6 101.5,543.4 101.6,544.3 101.7,542.7 101.9,540.9 102,541.3 102.1,540.4 102.2,541.1 102.4,539.2 102.5,537.8 102.6,537.6 102.7,534.7 102.9,535.6 103,535 103.1,533.9 103.2,529.2 103.4,528.1 103.5,524.2 103.6,521.3 103.7,515.9 103.9,511.2 104,506.6 104.1,498.8 104.2,489.9 104.4,484.2 104.5,474.9 104.6,471.4 104.7,472 104.9,477.5 105,483.7 105.1,492.6 105.2,498.6 105.4,505.5 105.5,510 105.6,514.6 105.7,517.1 105.9,518.7 106,523 106.1,522.1 106.3,526 106.4,526.7 106.5,525 106.6,524.8 106.8,524.1 106.9,525.7 107,523.3 107.1,522.1 107.3,519.6 107.4,519.3 107.5,516.6 107.6,515.6 107.8,511.8 107.9,508.4 108,502.9 108.1,499.2 108.3,492.6 108.4,483.3 108.5,472.4 108.6,462 108.8,447.9 108.9,431.8 109,411.4 109.1,391.9 109.3,372.1 109.4,359.9 109.5,356.1 109.6,360.8 109.8,374.8 109.9,393.7 110,411.2 110.1,430.6 110.3,449.5 110.4,460.7 110.5,474 110.7,484.9 110.8,491.5 110.9,498.5 111,504.7 111.2,510.4 111.3,512.1 111.4,515.1 111.5,520.6 111.7,519.8 111.8,521.7 111.9,524.5 112,525.3 112.2,527 112.3,528.7 112.4,529.2 112.5,528.4 112.7,531.9 112.8,530.9 112.9,531.6 113,533 113.2,533.2 113.3,534.6 113.4,534.5 113.5,534 113.7,534 113.8,535.5 113.9,531.8 114,535.6 114.2,535.1 114.3,535.7 114.4,536 114.5,534.5 114.7,536.4 114.8,534.7 114.9,535 115.1,537.3 115.2,535.3 115.3,537 115.4,533.7 115.6,536.9 115.7,537.4 115.8,538.4 115.9,537.8 116.1,537 116.2,537.4 116.3,537.6 116.4,537 116.6,536.4 116.7,534.6 116.8,537.6 116.9,536.2 117.1,536.4 117.2,536.7 117.3,536.2 117.4,535.5 117.6,533.6 117.7,534.2 117.8,534.2 117.9,532.9 118.1,533 118.2,533.5 118.3,532.9 118.4,534.3 118.6,533.1 118.7,533.6 118.8,534.8 118.9,536.1 119.1,533.8 119.2,535.7 119.3,533.3 119.4,537.5 119.6,536.4 119.7,538.2 119.8,537.9 120,537.8 120.1,539.8 120.2,539.5 120.3,539.5 120.5,539.9 120.6,539.7 120.7,539.5 120.8,539.9 121,540.6 121.1,541.3 121.2,542.1 121.3,541.7 121.5,541.4 121.6,540.1 121.7,540.9 121.8,541.6 122,539.5 122.1,540.7 122.2,540.4 122.3,539.6 122.5,538.6 122.6,541.1 122.7,539.5 122.8,537.8 123,538 123.1,538 123.2,537.3 123.3,534.9 123.5,536.2 123.6,534.6 123.7,534 123.8,534.7 124,533.2 124.1,533.5 124.2,533 124.4,532.9 124.5,530.2 124.6,530.7 124.7,530.2 124.9,529.9 125,526.2 125.1,526.4 125.2,526.4 125.4,526 125.5,525.9 125.6,523.1 125.7,522 125.9,522.6 126,519 126.1,518.2 126.2,518.9 126.4,517.3 126.5,516 126.6,514.3 126.7,513.5 126.9,514 127,509.8 127.1,510 127.2,508.2 127.4,507.4 127.5,508.2 127.6,507.1 127.7,506.3 127.9,506 128,506.8 128.1,507.3 128.2,506.8 128.4,508 128.5,508.2 128.6,510.3 128.7,508.9 128.9,510.8 129,511.2 129.1,511.7 129.3,512.4 129.4,511.9 129.5,514.7 129.6,517.5 129.8,517.1 129.9,518.9 130,519.1 130.1,521.3 130.3,522.4 130.4,523.3 130.5,524.4 130.6,526.6 130.8,526.4 130.9,526.7 131,526.4 131.1,528.7 131.3,529.6 131.4,529.4 131.5,530.2 131.6,529.9 131.8,531.5 131.9,532.8 132,532 132.1,532.4 132.3,535 132.4,534.9 132.5,537.2 132.6,536.4 132.8,537.3 132.9,537.1 133,537.8 133.1,537.8 133.3,538.1 133.4,537.9 133.5,538.5 133.7,539.6 133.8,540.6 133.9,538.4 134,538.5 134.2,540.6 134.3,539.9 134.4,542.2 134.5,542.5 134.7,541.4 134.8,539.9 134.9,542.6 135,542.6 135.2,540.3 135.3,544 135.4,541.6 135.5,541.9 135.7,542.8 135.8,542.5 135.9,540.2 136,544.1 136.2,543.4 136.3,543.5 136.4,544.1 136.5,544.8 136.7,542 136.8,543.5 136.9,545.6 137,544.6 137.2,543.6 137.3,543.7 137.4,545.6 137.5,544.4 137.7,544.1 137.8,544 137.9,544.1 138.1,546.4 138.2,542.8 138.3,544.5 138.4,543 138.6,542 138.7,545.1 138.8,546.2 138.9,544.2 139.1,545.3 139.2,545.6 139.3,546.2 139.4,543.5 139.6,545.7 139.7,546.7 139.8,545.8 139.9,546.6 140.1,545.3 140.2,545.9 140.3,546.6 140.4,545 140.6,546.2 140.7,544.9 140.8,544.4 140.9,546.1 141.1,546.4 141.2,545.5 141.3,544.9 141.4,545.8 141.6,545.7 141.7,545.9 141.8,545.6 141.9,545.3 142.1,546.6 142.2,546.4 142.3,545.9 142.4,546.6 142.6,545.7 142.7,545.3 142.8,545.8 143,546.3 143.1,546.4 143.2,543.7 143.3,544.5 143.5,546.4 143.6,546 143.7,543.2 143.8,543.5 144,544.7 144.1,543.6 144.2,546.1 144.3,544.5 144.5,543.7 144.6,546.2 144.7,545.1 144.8,543.4 145,543 145.1,544.7 145.2,543.8 145.3,542.5 145.5,544.5 145.6,545.4 145.7,544.2 145.8,544.6 146,543 146.1,544.2 146.2,545.3 146.3,542.2 146.5,545.3 146.6,544.4 146.7,544.4 146.8,544.5 147,545.2 147.1,545 147.2,545.8 147.4,547.4 147.5,546.4 147.6,546.5 147.7,546.7 147.9,546.6 148,547.5 148.1,545.8 148.2,545.7 148.4,549.6 148.5,547.6 148.6,548.5 148.7,550.5 148.9,547.6 149,548.7 149.1,548.6 149.2,549 149.4,547.3 149.5,547.2 149.6,548.2 149.7,547.8 149.9,548.6 150,548.4 150.1,549.3 150.2,548.5 150.4,549.3 150.5,548.2 150.6,547.8 150.7,548.3 150.9,547.4 151,545.9 151.1,550.7 151.2,548.6 151.4,549.2 151.5,549.1 151.6,550 151.8,548.7 151.9,549 152,549.4 152.1,549 152.3,549.3 152.4,551.1 152.5,547.7 152.6,549.1 152.8,549.7 152.9,548.5 153,549.5 153.1,551 153.3,548 153.4,550.5 153.5,549.1 153.6,548.8 153.8,547.5 153.9,547.7 154,548.7 154.1,549.7 154.3,549.3 154.4,547.8 154.5,547.2 154.6,548.4 154.8,549.6 154.9,547.9 155,549.4 155.1,549.4 155.3,549.3 155.4,548.4 155.5,548.7 155.6,548 155.8,547.7 155.9,548.5 156,551.4 156.1,550.8 156.3,548.9 156.4,549.1 156.5,546.9 156.7,549.1 156.8,549.3 156.9,548.2 157,548.1 157.2,549.4 157.3,548.7 157.4,550.3 157.5,550.1 157.7,547.9 157.8,550.6 157.9,548.2 158,548.5 158.2,548.4 158.3,548.3 158.4,548.6 158.5,551.3 158.7,550.2 158.8,549.8 158.9,548.3 159,550.4 159.2,549.9 159.3,549.6 159.4,547.9 159.5,550.7 159.7,550.6 159.8,548.6 159.9,551.4 160,549 160.2,549.7 160.3,550.9 160.4,549.7 160.5,550.3 160.7,549.1 160.8,549 160.9,547.8 161.1,549.3 161.2,549.2 161.3,549.9 161.4,549.4 161.6,548.3 161.7,551.3 161.8,548.7 161.9,549.9 162.1,549.3 162.2,549.1 162.3,548.5 162.4,549.2 162.6,549.8 162.7,549.1 162.8,549.4 162.9,549.6 163.1,549.2 163.2,548.5 163.3,549.3 163.4,549.3 163.6,550.7 163.7,549.6 163.8,551.3 163.9,548.7 164.1,550.4 164.2,548.2 164.3,546.5 164.4,549.9 164.6,548.1 164.7,549.1 164.8,550 164.9,550.3 165.1,548.9 165.2,548.1 165.3,549.1 165.5,551 165.6,550.5 165.7,549.7 165.8,548.2 166,549.2 166.1,549.2 166.2,548.3 166.3,549.7 166.5,549.6 166.6,549.7 166.7,551.3 166.8,549.1 167,549.1 167.1,548.6 167.2,550.7 167.3,550.4 167.5,548.6 167.6,549.2 167.7,548.2 167.8,550.4 168,549.4 168.1,550.2 168.2,549.3 168.3,550.1 168.5,549 168.6,548.5 168.7,548.9 168.8,551.4 169,548.7 169.1,549.2 169.2,550.6 169.3,550.5 169.5,549.6 169.6,549 169.7,550.1 169.8,551.2 170,549.3 170.1,549.4 170.2,547.2 170.4,550.9 170.5,547.1 170.6,547.9 170.7,549.3 170.9,548 171,549.5 171.1,548.7 171.2,550.4 171.4,549.6 171.5,550.7 171.6,551.2 171.7,549.9 171.9,550.3 172,549.1 172.1,548.4 172.2,549.8 172.4,549.6 172.5,549.5 172.6,551.3 172.7,549.4 172.9,549.7 173,549.7 173.1,550.8 173.2,551.7 173.4,549.9 173.5,549.4 173.6,548.3 173.7,548.5 173.9,548.2 174,549.3 174.1,548.5 174.2,549.9 174.4,549.1 174.5,548.8 174.6,547 174.8,549.4 174.9,551 175,548.3 175.1,550.5 175.3,549.8 175.4,550 175.5,550.6 175.6,548.4 175.8,549.1 175.9,550.3 176,549.6 176.1,550.1 176.3,549.1 176.4,550.1 176.5,550.5 176.6,550.4 176.8,550.1 176.9,549.4 177,550.6 177.1,549.8 177.3,549.3 177.4,547.4 177.5,548.9 177.6,552.7 177.8,550.2 177.9,550.1 178,549.4 178.1,548.2 178.3,549 178.4,552 178.5,549.4 178.6,549.6 178.8,549.3 178.9,548.4 179,550.8 179.1,548.6 179.3,551.4 179.4,549.7 179.5,549.3 179.7,547.4 179.8,550.4 179.9,551.4 180,549 180.2,550.4 180.3,548.2 180.4,550.4 180.5,550.6 180.7,548.5 180.8,549.6 180.9,548.7 181,551.2 181.2,548.1 181.3,550.3 181.4,548.9 181.5,550.7 181.7,551.3 181.8,550 181.9,549.6 182,548.2 182.2,549.4 182.3,549 182.4,549.1 182.5,546.6 182.7,550.6 182.8,548.5 182.9,549.9 183,549.5 183.2,550.3 183.3,548.6 183.4,551 183.5,551.1 183.7,549.9 183.8,550.9 183.9,549 184.1,548.8 184.2,550.5 184.3,548.9 184.4,550.4 184.6,549.8 184.7,549.7 184.8,547.9 184.9,549.7 185.1,550.6 185.2,550.6 185.3,548.5 185.4,551.4 185.6,550.2 185.7,550.1 185.8,552.2 185.9,550.2 186.1,548.7 186.2,549.5 186.3,550.6 186.4,549 186.6,549.2 186.7,547.7 186.8,550.5 186.9,550.1 187.1,549.7 187.2,549.9 187.3,549.6 187.4,549.8 187.6,550.4 187.7,551.3 187.8,550.3 187.9,551.1 188.1,550.8 188.2,550.3 188.3,549.2 188.5,548.9 188.6,550.7 188.7,549.4 188.8,548.9 189,549.8 189.1,551.3 189.2,551.9 189.3,548.9 189.5,548.8 189.6,549.4 189.7,550.8 189.8,548.3 190,548.5 190.1,549.7 190.2,549.9 190.3,551.7 190.5,548.9 190.6,551.3 190.7,549 190.8,549 191,549.6 191.1,548.1 191.2,550 191.3,549.1 191.5,548.9 191.6,549.4 191.7,550.1 191.8,548.4 192,549.2 192.1,549.9 192.2,549.8 192.3,549.5 192.5,547.4 192.6,549.5 192.7,549.9 192.8,550.7 193,550.9 193.1,551.5 193.2,549.4 193.4,549.6 193.5,550.6 193.6,551.1 193.7,549.9 193.9,550.1 194,550.9 194.1,549.3 194.2,549.5 194.4,549.6 194.5,548.8 194.6,550.2 194.7,548.2 194.9,550.6 195,549.1 195.1,548.9 195.2,549.8 195.4,549.2 195.5,550.8 195.6,551.1 195.7,549.7 195.9,550.3 196,548.9 196.1,549.5 196.2,548.9 196.4,549.2 196.5,549.3 196.6,549.4 196.7,549.9 196.9,550 197,547.5 197.1,551.2 197.2,549.7 197.4,548.5 197.5,549 197.6,548.1 197.8,548.9 197.9,550.7 198,549.8 198.1,550.8 198.3,548.4 198.4,548 198.5,549.9 198.6,548.9 198.8,549.8 198.9,550.8 199,549.8 199.1,551 199.3,549.9 199.4,549.2 199.5,548.6 199.6,548.1 199.8,549.7 199.9,549.1 200,548.9 200.1,548.8 200.3,552.2 200.4,550.1 200.5,548.5 200.6,550.4 200.8,549 200.9,548.4 201,551.2 201.1,549.5 201.3,549 201.4,549.2 201.5,550.8 201.6,548.9 201.8,549.8 201.9,548.4 202,548.8 202.2,549.7 202.3,549 202.4,549.9 202.5,549.9 202.7,550.7 202.8,549.4 202.9,548.3 203,549 203.2,549.1 203.3,549.7 203.4,549.6 203.5,548.4 203.7,550.6 203.8,547 203.9,549.1 204,546.9 204.2,547.9 204.3,549.4 204.4,548.3 204.5,548.7 204.7,548.5 204.8,548.2 204.9,549.5 205,549.6 205.2,549.4 205.3,550.3 205.4,549.2 205.5,548.7 205.7,548.6 205.8,548.7 205.9,549.3 206,548.1 206.2,550.9 206.3,549.2 206.4,549.1 206.5,547.9 206.7,548.1 206.8,547.9 206.9,548.7 207.1,547.8 207.2,549.7 207.3,548.6 207.4,550.8 207.6,546.9 207.7,547 207.8,549.2 207.9,549.4 208.1,550.7 208.2,550.1 208.3,548.4 208.4,548.6 208.6,549.9 208.7,548.9 208.8,549.1 208.9,547.9 209.1,547.6 209.2,548.5 209.3,548.2 209.4,548.3 209.6,550.3 209.7,548 209.8,548.2 209.9,547.4 210.1,549.9 210.2,547.3 210.3,548.6 210.4,547.7 210.6,546.7 210.7,549.4 210.8,549.2 210.9,546.8 211.1,548.9 211.2,548.7 211.3,547 211.5,547.8 211.6,546.8 211.7,547.2 211.8,547.4 212,546.3 212.1,545.1 212.2,547.3 212.3,545.6 212.5,545.9 212.6,546.8 212.7,546.4 212.8,547.7 213,547.3 213.1,546.3 213.2,546.5 213.3,545 213.5,547.5 213.6,546.4 213.7,546.6 213.8,546 214,544.5 214.1,546.8 214.2,544.5 214.3,545.8 214.5,545.4 214.6,543.9 214.7,545 214.8,543.8 215,544.2 215.1,544.2 215.2,544.2 215.3,545.3 215.5,544.1 215.6,542.9 215.7,542.6 215.8,544 216,541.1 216.1,541.2 216.2,542.7 216.4,542 216.5,540 216.6,541.8 216.7,540.3 216.9,539.1 217,538.6 217.1,537.8 217.2,536.7 217.4,537.1 217.5,536 217.6,532.5 217.7,534.9 217.9,532.8 218,531 218.1,530.3 218.2,526.9 218.4,526.3 218.5,523.6 218.6,524.7 218.7,518.3 218.9,515.3 219,513.8 219.1,507.9 219.2,504.4 219.4,498.5 219.5,491.5 219.6,486.3 219.7,479.3 219.9,469.2 220,460.3 220.1,448.7 220.2,437.1 220.4,425.8 220.5,414 220.6,407 220.8,405.1 220.9,403.7 221,411.4 221.1,418.6 221.3,428.5 221.4,438.6 221.5,450.4 221.6,461.4 221.8,470.3 221.9,479.5 222,486.4 222.1,495.2 222.3,501.7 222.4,505.3 222.5,508.3 222.6,512.5 222.8,515 222.9,517.9 223,520.5 223.1,522.3 223.3,525.7 223.4,525.5 223.5,529 223.6,529.4 223.8,531.8 223.9,530.9 224,533.9 224.1,531.7 224.3,535.2 224.4,534.3 224.5,535.3 224.6,536.5 224.8,534.9 224.9,537 225,535.5 225.2,538.4 225.3,538.5 225.4,540.1 225.5,537.8 225.7,537.7 225.8,538.6 225.9,539.3 226,540.2 226.2,537.2 226.3,538.9 226.4,541.7 226.5,540.3 226.7,542.8 226.8,538.7 226.9,538.5 227,539.1 227.2,540.7 227.3,541.4 227.4,542.3 227.5,540.5 227.7,541.8 227.8,541.5 227.9,541.9 228,541.6 228.2,540.5 228.3,539.8 228.4,541.4 228.5,541.5 228.7,542.7 228.8,542.9 228.9,542.8 229,540.8 229.2,541.5 229.3,540.8 229.4,541.4 229.5,542.2 229.7,543.1 229.8,542.2 229.9,543.3 230.1,539.9 230.2,541.6 230.3,542.2 230.4,539.9 230.6,542.2 230.7,541.3 230.8,542 230.9,541.4 231.1,542.1 231.2,541.2 231.3,540.2 231.4,542.9 231.6,543.8 231.7,540.1 231.8,541.3 231.9,540.5 232.1,541.5 232.2,539.6 232.3,539.2 232.4,542 232.6,540 232.7,541.1 232.8,541.9 232.9,540.3 233.1,539.2 233.2,540.8 233.3,540.3 233.4,537.3 233.6,538 233.7,537 233.8,537.7 233.9,536.3 234.1,534.5 234.2,533.2 234.3,531.8 234.5,528.8 234.6,528.7 234.7,529 234.8,527.3 235,526.1 235.1,525 235.2,527.8 235.3,528.8 235.5,529.8 235.6,531.9 235.7,533.2 235.8,533.7 236,533.3 236.1,534.6 236.2,535.9 236.3,535.7 236.5,537.7 236.6,535.6 236.7,536.1 236.8,536.6 237,538.6 237.1,534.8 237.2,539.8 237.3,537.7 237.5,537.5 237.6,535.6 237.7,537.6 237.8,535.5 238,535.6 238.1,535.3 238.2,533.8 238.3,532.7 238.5,533.2 238.6,533.3 238.7,534.7 238.9,530.2 239,531.2 239.1,531.9 239.2,529 239.4,526.7 239.5,527.2 239.6,527.1 239.7,522.5 239.9,522.8 240,521.8 240.1,519.7 240.2,521.5 240.4,518 240.5,516.7 240.6,512.9 240.7,514.6 240.9,513.5 241,513.5 241.1,512.3 241.2,511.4 241.4,510.9 241.5,511.6 241.6,509.9 241.7,512.2 241.9,513.1 242,513.5 242.1,515.6 242.2,518.2 242.4,520.6 242.5,520.2 242.6,522.8 242.7,522 242.9,525.5 243,528.2 243.1,527.1 243.2,527.2 243.4,529.5 243.5,530.1 243.6,531 243.8,530.3 243.9,532.5 244,533.6 244.1,534.8 244.3,536.5 244.4,533.9 244.5,534.7 244.6,537.3 244.8,536.1 244.9,536.8 245,537.9 245.1,538.1 245.3,537.3 245.4,539.6 245.5,539.1 245.6,538.8 245.8,538.9 245.9,539.2 246,538.8 246.1,538.5 246.3,539.9 246.4,538.8 246.5,539.2 246.6,536.8 246.8,539.2 246.9,537.4 247,535.6 247.1,535.8 247.3,535.1 247.4,534.9 247.5,534.3 247.6,536.5 247.8,536.5 247.9,537.6 248,540 248.2,539.1 248.3,540.5 248.4,540.3 248.5,540.2 248.7,541.1 248.8,542.9 248.9,541.7 249,543.8 249.2,543.2 249.3,540.9 249.4,542.7 249.5,541.3 249.7,543.2 249.8,543.1 249.9,544.4 250,542.4 250.2,543.6 250.3,542.9 250.4,543.1 250.5,543.1 250.7,543.4 250.8,543.8 250.9,543.9 251,544.6 251.2,546.2 251.3,543.6 251.4,542 251.5,543.1 251.7,541.9 251.8,543.8 251.9,545.3 252,545.4 252.2,543.7 252.3,544.1 252.4,544.7 252.6,543.8 252.7,545.5 252.8,544.2 252.9,545 253.1,544.6 253.2,543.6 253.3,545 253.4,543.5 253.6,543.6 253.7,545.8 253.8,542.7 253.9,546.4 254.1,545.3 254.2,544.5 254.3,547.6 254.4,544.2 254.6,544.2 254.7,545.5 254.8,545.1 254.9,545.2 255.1,545.7 255.2,544.5 255.3,546 255.4,545.7 255.6,545.3 255.7,544.8 255.8,544.6 255.9,547.3 256.1,547.9 256.2,546 256.3,546 256.4,547 256.6,545.7 256.7,545.4 256.8,545.7 256.9,544.4 257.1,547.2 257.2,546.1 257.3,544.2 257.5,545.6 257.6,547.4 257.7,546.1 257.8,545.1 258,544.3 258.1,545.7 258.2,545.3 258.3,547.6 258.5,546.8 258.6,545.3 258.7,547.5 258.8,546.7 259,548.5 259.1,545.2 259.2,546.8 259.3,546.1 259.5,548.3 259.6,548.1 259.7,545 259.8,547.2 260,547.4 260.1,546.3 260.2,546.3 260.3,548.9 260.5,547.9 260.6,546.9 260.7,547 260.8,546.6 261,547.4 261.1,547.3 261.2,546.8 261.3,547.8 261.5,547.9 261.6,547.6 261.7,547.1 261.9,547.3 262,547.6 262.1,547.4 262.2,547.2 262.4,546.9 262.5,546.8 262.6,548.5 262.7,546.3 262.9,548.9 263,546.7 263.1,548 263.2,546.7 263.4,546.2 263.5,549.2 263.6,546.7 263.7,547.1 263.9,547.9 264,547 264.1,547.9 264.2,547.3 264.4,548.5 264.5,546.7 264.6,546.9 264.7,546.7 264.9,548.2 265,545.7 265.1,545.5 265.2,547.6 265.4,548 265.5,548 265.6,546.9 265.7,546.6 265.9,548.4 266,549.7 266.1,547.2 266.2,547.7 266.4,547.5 266.5,547.1 266.6,548.8 266.8,547.6 266.9,548 267,547.3 267.1,546.5 267.3,547.7 267.4,548.6 267.5,546.5 267.6,547.1 267.8,548 267.9,549.6 268,548.7 268.1,547.7 268.3,547.3 268.4,548.4 268.5,547.4 268.6,548.5 268.8,548.3 268.9,547.4 269,548.2 269.1,547.8 269.3,547 269.4,546.8 269.5,548.5 269.6,548.2 269.8,549.3 269.9,549.3 270,547.7 270.1,548.5 270.3,549.8 270.4,547.4 270.5,548.8 270.6,548.3 270.8,547.6 270.9,547.6 271,548.1 271.2,550 271.3,547.4 271.4,548.6 271.5,549.4 271.7,550.2 271.8,546.7 271.9,547.9 272,547.9 272.2,547.4 272.3,548.1 272.4,549.5 272.5,547.3 272.7,547 272.8,547.5 272.9,546.5 273,546.1 273.2,548.8 273.3,548.4 273.4,547.1 273.5,547.8 273.7,547.8 273.8,547 273.9,547.2 274,548.4 274.2,547.8 274.3,548.6 274.4,548.1 274.5,549 274.7,549.8 274.8,548.3 274.9,548.4 275,546.8 275.2,546.1 275.3,547.6 275.4,547.1 275.6,548.2 275.7,548.4 275.8,547.8 275.9,547.7 276.1,547.1 276.2,547.2 276.3,545.6 276.4,547.4 276.6,548.8 276.7,547 276.8,547.7 276.9,546.8 277.1,545.8 277.2,547.5 277.3,546.9 277.4,546.2 277.6,547.6 277.7,546.4 277.8,546 277.9,545.7 278.1,545.3 278.2,545.8 278.3,545.9 278.4,547.5 278.6,548.7 278.7,546.9 278.8,544.4 278.9,545.5 279.1,547.8 279.2,545.7 279.3,544.7 279.4,546.7 279.6,544 279.7,545.4 279.8,542.8 279.9,543.4 280.1,539.7 280.2,543.5 280.3,541.2 280.5,542.1 280.6,538.6 280.7,538.7 280.8,537.2 281,537.6 281.1,538.8 281.2,538.5 281.3,539.7 281.5,540.3 281.6,539.9 281.7,539.8 281.8,540.7 282,541.7 282.1,543.3 282.2,542.7 282.3,544.4 282.5,543.6 282.6,543.2 282.7,544.4 282.8,544.9 283,545 283.1,544 283.2,545 283.3,546.2 283.5,545.2 283.6,545.9 283.7,543.4 283.8,544.8 284,546.3 284.1,544.6 284.2,544.1 284.3,544.4 284.5,545 284.6,544.4 284.7,544.2 284.9,543.4 285,543.9 285.1,541.8 285.2,544.1 285.4,542.1 285.5,543.3 285.6,544.7 285.7,543.7 285.9,543.8 286,543.1 286.1,539.3 286.2,540.2 286.4,537.6 286.5,537.4 286.6,534.6 286.7,533.5 286.9,529.5 287,529.2 287.1,529.2 287.2,529.9 287.4,529.4 287.5,533.2 287.6,534.8 287.7,538.6 287.9,539.3 288,539.4 288.1,542.4 288.2,539.9 288.4,541.4 288.5,542.1 288.6,542.6 288.7,542.8 288.9,543.3 289,541.5 289.1,542.3 289.3,541.8 289.4,543.4 289.5,544 289.6,541.7 289.8,544.2 289.9,543.5 290,542.1 290.1,541.7 290.3,543.9 290.4,542.7 290.5,542.2 290.6,542.2 290.8,542.7 290.9,540.9 291,541.7 291.1,541.1 291.3,542.6 291.4,540 291.5,541.2 291.6,537.9 291.8,537.3 291.9,537.4 292,535.5 292.1,534.2 292.3,532.7 292.4,530.1 292.5,527.9 292.6,524.8 292.8,520.7 292.9,512.5 293,506.5 293.1,496.9 293.3,484 293.4,471.2 293.5,458 293.6,449.1 293.8,450 293.9,459.7 294,474.9 294.2,486.1 294.3,496.5 294.4,503.8 294.5,510.6 294.7,514.4 294.8,515.5 294.9,516.9 295,516.7 295.2,514.6 295.3,512.1 295.4,511.9 295.5,511 295.7,514.8 295.8,516.1 295.9,520.4 296,524.9 296.2,527.6 296.3,530.7 296.4,532.3 296.5,534.6 296.7,534.1 296.8,536.9 296.9,538.9 297,538.5 297.2,538.6 297.3,539.9 297.4,539.2 297.5,541.3 297.7,541.6 297.8,539.5 297.9,541.3 298,541 298.2,541.3 298.3,541.4 298.4,542 298.6,542.4 298.7,541.3 298.8,542.9 298.9,542.4 299.1,541.9 299.2,543 299.3,544.2 299.4,542.3 299.6,541.7 299.7,542.6 299.8,544.5 299.9,542.2 300.1,541 300.2,544.4 300.3,545.6 300.4,543.1 300.6,542.8 300.7,542.1 300.8,542.1 300.9,542.8 301.1,542.3 301.2,542.5 301.3,542.7 301.4,542.8 301.6,542.9 301.7,542 301.8,542.3 301.9,543.1 302.1,541.5 302.2,543.3 302.3,542.8 302.4,542.3 302.6,544.3 302.7,542.7 302.8,541.5 303,541.5 303.1,543.4 303.2,542.9 303.3,543 303.5,542.1 303.6,541.8 303.7,543.1 303.8,541 304,541.1 304.1,541 304.2,541.4 304.3,540.7 304.5,542 304.6,539.8 304.7,539.6 304.8,539.6 305,540.4 305.1,537.8 305.2,537.7 305.3,540.3 305.5,537.9 305.6,537.9 305.7,540.3 305.8,537.1 306,536.8 306.1,536.5 306.2,536.9 306.3,537.5 306.5,537.2 306.6,536 306.7,535.2 306.8,536.6 307,536.2 307.1,535 307.2,537.6 307.3,534.8 307.5,535.2 307.6,536.8 307.7,533.5 307.9,534.8 308,532.8 308.1,531.8 308.2,533.9 308.4,533.3 308.5,531.6 308.6,532.7 308.7,529.6 308.9,529.4 309,527.8 309.1,529.7 309.2,526.7 309.4,525.3 309.5,526.2 309.6,522.2 309.7,522.8 309.9,519.5 310,518.9 310.1,514.6 310.2,511 310.4,509.5 310.5,506 310.6,500.7 310.7,497.7 310.9,491.7 311,484.6 311.1,477.7 311.2,468.2 311.4,459.1 311.5,448.1 311.6,439 311.7,426.9 311.9,418.8 312,409.1 312.1,403.5 312.3,402.3 312.4,409.2 312.5,415.2 312.6,423.8 312.8,436.2 312.9,445.9 313,456.5 313.1,467.2 313.3,476 313.4,484.1 313.5,489.5 313.6,494.4 313.8,500.3 313.9,502.2 314,510.1 314.1,512.4 314.3,514 314.4,518.2 314.5,518.9 314.6,520.4 314.8,522.7 314.9,524.5 315,524.7 315.1,526.4 315.3,527.2 315.4,528.3 315.5,530.4 315.6,531.6 315.8,531.6 315.9,531.7 316,532.6 316.1,532 316.3,533.2 316.4,533 316.5,534.2 316.6,535.5 316.8,534.3 316.9,535 317,536.6 317.2,536.5 317.3,533.6 317.4,539.9 317.5,535.8 317.7,537 317.8,537.4 317.9,537.8 318,538.2 318.2,535.6 318.3,538.5 318.4,538.6 318.5,537.6 318.7,538.2 318.8,538.9 318.9,539.2 319,540.3 319.2,538.1 319.3,540.3 319.4,541.8 319.5,538.5 319.7,538.9"/>
<rect class="fr" x="60" y="335.6" width="259.8" height="266.6"/>
<path class="tk" d="M101.9 602.2v-5M143.8 602.2v-5M185.7 602.2v-5M227.6 602.2v-5M269.5 602.2v-5M311.4 602.2v-5M60 557.8h5M60 513.4h5M60 468.9h5M60 424.5h5M60 380h5"/>
<text x="60" y="614.7" font-size="12.6" text-anchor="middle">3500</text>
<text x="101.9" y="614.7" font-size="12.6" text-anchor="middle">3000</text>
<text x="143.8" y="614.7" font-size="12.6" text-anchor="middle">2500</text>
<text x="185.7" y="614.7" font-size="12.6" text-anchor="middle">2000</text>
<text x="227.6" y="614.7" font-size="12.6" text-anchor="middle">1500</text>
<text x="269.5" y="614.7" font-size="12.6" text-anchor="middle">1000</text>
<text x="311.4" y="614.7" font-size="12.6" text-anchor="middle">500</text>
<text x="53.2" y="560.4" font-size="12.6" text-anchor="end">0</text>
<text x="53.2" y="516" font-size="12.6" text-anchor="end">200</text>
<text x="53.2" y="471.5" font-size="12.6" text-anchor="end">400</text>
<text x="53.2" y="427.1" font-size="12.6" text-anchor="end">600</text>
<text x="53.2" y="382.6" font-size="12.6" text-anchor="end">800</text>
<text x="53.2" y="604.9" font-size="12.6" text-anchor="end">-200</text>
<text x="53.2" y="338.2" font-size="12.6" text-anchor="end">1000</text>
<text x="190.2" y="633.4" font-size="13.1" text-anchor="middle">Raman shift (cm<tspan font-size="7.3" dy="-6.5">-1</tspan><tspan dy="6.5">)</tspan></text>
<text transform="translate(21.1 471) rotate(-90)" font-size="13.3" text-anchor="middle">Raman intensity (a.u)</text>
</g>
<g id="panel-c">
<polyline class="cv" stroke-width="2.0" points="403.1,585.4 403.2,594.1 403.3,588.4 403.4,590.3 403.4,590 403.5,589.6 403.6,593 403.7,589.6 403.8,590.8 403.9,582.8 404,588.7 404,589.7 404.1,589.6 404.2,590.3 404.3,591 404.4,589.8 404.5,588.1 404.5,589.4 404.6,587.2 404.7,589.3 404.8,588.9 404.9,586 405,587.9 405.1,589.8 405.1,589.2 405.2,587.8 405.3,585.2 405.4,589.3 405.5,589.3 405.6,586.9 405.7,590.4 405.7,589.3 405.8,587.1 405.9,587.6 406,588.5 406.1,587.4 406.2,594 406.2,586.7 406.3,590.4 406.4,591.8 406.5,588.1 406.6,587.2 406.7,589.4 406.8,590.6 406.8,588.5 406.9,588.6 407,585.8 407.1,587 407.2,588.1 407.3,586.3 407.4,588.8 407.4,590.1 407.5,587.3 407.6,587.2 407.7,588.7 407.8,589.8 407.9,587.8 407.9,593 408,586.9 408.1,587.3 408.2,591.3 408.3,588.1 408.4,590 408.5,586.7 408.5,592 408.6,589.8 408.7,586.7 408.8,585.9 408.9,592.1 409,588.9 409.1,587.4 409.1,589.1 409.2,584.9 409.3,590.2 409.4,587.2 409.5,589.9 409.6,585.2 409.6,587.9 409.7,588.5 409.8,591 409.9,584.6 410,586.3 410.1,586.3 410.2,585.6 410.2,587 410.3,588.9 410.4,589.1 410.5,589.1 410.6,585 410.7,590.3 410.8,588.7 410.8,588.1 410.9,587.1 411,586.4 411.1,589.8 411.2,590.7 411.3,587.4 411.3,585.1 411.4,585.9 411.5,586.9 411.6,587.9 411.7,586.7 411.8,587.7 411.9,585.7 411.9,588.7 412,586.9 412.1,587.4 412.2,586.1 412.3,586.7 412.4,582.3 412.5,584.3 412.5,584.2 412.6,590.9 412.7,587.7 412.8,588.1 412.9,586 413,591.2 413.1,584.7 413.1,584.9 413.2,589.3 413.3,588.7 413.4,588.3 413.5,586.7 413.6,585.6 413.6,582.9 413.7,587.1 413.8,585.2 413.9,586.4 414,583.3 414.1,585.2 414.2,584 414.2,588.6 414.3,586.9 414.4,588 414.5,583.6 414.6,585.2 414.7,587 414.8,587.3 414.8,585.5 414.9,587.7 415,588.1 415.1,585.4 415.2,581.6 415.3,586.7 415.3,587.3 415.4,588.4 415.5,588.7 415.6,585.2 415.7,584.5 415.8,586.1 415.9,585.4 415.9,585.8 416,585.8 416.1,588.9 416.2,586.8 416.3,585.7 416.4,587.4 416.5,586.8 416.5,587.4 416.6,586.5 416.7,584.2 416.8,586.5 416.9,586 417,584.2 417,584.5 417.1,582.5 417.2,589.6 417.3,584 417.4,586.5 417.5,585.3 417.6,583.9 417.6,583.5 417.7,583.5 417.8,585.1 417.9,582.4 418,585.9 418.1,585.6 418.2,583.8 418.2,586.3 418.3,581.2 418.4,583.3 418.5,581.1 418.6,585.2 418.7,585.9 418.7,584.8 418.8,583.7 418.9,586.2 419,584.3 419.1,585.1 419.2,581.9 419.3,586.2 419.3,583 419.4,586.1 419.5,586.7 419.6,586.2 419.7,587.1 419.8,584.5 419.9,582.8 419.9,584.4 420,583.5 420.1,581.6 420.2,584.1 420.3,584.2 420.4,585.1 420.4,587.6 420.5,583.1 420.6,587.8 420.7,583.2 420.8,584.5 420.9,582.3 421,584.5 421,585.9 421.1,583.6 421.2,585.3 421.3,584.6 421.4,584.1 421.5,584.4 421.6,584.5 421.6,585.7 421.7,584.4 421.8,588.1 421.9,584.3 422,586.2 422.1,581.8 422.2,581.5 422.2,587.6 422.3,583.6 422.4,584.1 422.5,585.8 422.6,582.7 422.7,584.6 422.7,587 422.8,584.2 422.9,583.9 423,583.4 423.1,585.9 423.2,582.3 423.3,582.1 423.3,585.6 423.4,584.6 423.5,583.5 423.6,584.4 423.7,580 423.8,582.9 423.9,585.1 423.9,584.7 424,583.3 424.1,578.8 424.2,583.4 424.3,582.8 424.4,582 424.4,583 424.5,578.6 424.6,583.9 424.7,581.4 424.8,582.5 424.9,581.6 425,585 425,579.4 425.1,582.9 425.2,582.6 425.3,584.3 425.4,583.9 425.5,581.4 425.6,580.6 425.6,581 425.7,580.1 425.8,581 425.9,582.3 426,580.7 426.1,581.1 426.1,582.4 426.2,580.8 426.3,579.7 426.4,581.6 426.5,582.7 426.6,580.6 426.7,578.4 426.7,582.3 426.8,582 426.9,582.1 427,579.5 427.1,585.2 427.2,581 427.3,579.4 427.3,583.2 427.4,578.8 427.5,580.5 427.6,582.5 427.7,581.1 427.8,584.3 427.8,582.4 427.9,577.9 428,583 428.1,577.8 428.2,581.4 428.3,579.3 428.4,581 428.4,585.3 428.5,582.1 428.6,580.6 428.7,583.1 428.8,583.5 428.9,580.2 429,582.1 429,584 429.1,582 429.2,579.1 429.3,581.5 429.4,578.8 429.5,577.7 429.6,580.5 429.6,582.6 429.7,582.9 429.8,580.4 429.9,578.7 430,579.8 430.1,579.2 430.1,581.1 430.2,579.6 430.3,581 430.4,580.7 430.5,582.5 430.6,583 430.7,580.9 430.7,582 430.8,581.7 430.9,578.6 431,580 431.1,574.2 431.2,577.9 431.3,580.8 431.3,578.1 431.4,578.9 431.5,580.8 431.6,577.4 431.7,580.9 431.8,585.2 431.8,577.8 431.9,580.5 432,576.4 432.1,580.4 432.2,581.4 432.3,576.2 432.4,581.1 432.4,578.6 432.5,576.2 432.6,578.7 432.7,579 432.8,578.6 432.9,577.2 433,580.3 433,577.5 433.1,577.6 433.2,574.2 433.3,579.2 433.4,580.2 433.5,577.1 433.5,579.2 433.6,577.8 433.7,578.1 433.8,576.1 433.9,579.5 434,578.4 434.1,583 434.1,579.8 434.2,575.2 434.3,579.3 434.4,579.3 434.5,580.2 434.6,576.8 434.7,577.5 434.7,580 434.8,576.5 434.9,577.2 435,576.2 435.1,578.8 435.2,574.3 435.2,576.7 435.3,577.7 435.4,578.4 435.5,577.8 435.6,575.7 435.7,577.8 435.8,575.2 435.8,576.1 435.9,574.6 436,575.6 436.1,577.2 436.2,580.6 436.3,576.4 436.4,575.4 436.4,576.5 436.5,575.8 436.6,577.6 436.7,577.4 436.8,578.4 436.9,574 436.9,576.3 437,577.4 437.1,579 437.2,576.7 437.3,573.7 437.4,575.5 437.5,577.6 437.5,573.5 437.6,573.5 437.7,574.3 437.8,574.6 437.9,573.9 438,575 438.1,574.5 438.1,577.4 438.2,573 438.3,575.4 438.4,571.9 438.5,579.6 438.6,574.3 438.7,573.7 438.7,576.2 438.8,574.6 438.9,574 439,574.3 439.1,576.4 439.2,575.6 439.2,573.3 439.3,572.8 439.4,574.9 439.5,574.9 439.6,574.7 439.7,573 439.8,576.9 439.8,577.4 439.9,574.6 440,576.8 440.1,575.8 440.2,574.5 440.3,573.7 440.4,576.6 440.4,573 440.5,577.8 440.6,573.3 440.7,577.3 440.8,576.6 440.9,573 440.9,574.9 441,575.5 441.1,574.8 441.2,573 441.3,574 441.4,573.8 441.5,571.7 441.5,575 441.6,574.5 441.7,574.5 441.8,571.2 441.9,571.5 442,570.9 442.1,573.3 442.1,573.4 442.2,571.4 442.3,573.7 442.4,571.3 442.5,571.4 442.6,574 442.6,572.8 442.7,572.8 442.8,569.2 442.9,567.5 443,572.5 443.1,572.1 443.2,576.4 443.2,571.6 443.3,571.9 443.4,573.8 443.5,570.1 443.6,574.5 443.7,571.8 443.8,571 443.8,573.5 443.9,569.4 444,568.9 444.1,573.3 444.2,573.2 444.3,569.3 444.3,570.3 444.4,572.4 444.5,570.5 444.6,570 444.7,569.8 444.8,567.8 444.9,568.4 444.9,565.6 445,566.1 445.1,567.2 445.2,566.2 445.3,565.4 445.4,566.3 445.5,569.6 445.5,565.4 445.6,566.5 445.7,563.2 445.8,565.6 445.9,564.4 446,564.3 446,561.2 446.1,563.5 446.2,563.7 446.3,561.9 446.4,562.6 446.5,560.7 446.6,560.1 446.6,558.6 446.7,554.3 446.8,557.5 446.9,555.2 447,554 447.1,550.6 447.2,552 447.2,548.7 447.3,544.7 447.4,540.5 447.5,538 447.6,534.7 447.7,530.6 447.8,522.6 447.8,514.9 447.9,510.7 448,504.4 448.1,497.7 448.2,495.1 448.3,490.3 448.3,488.8 448.4,488.7 448.5,492.5 448.6,499.5 448.7,500.9 448.8,505.9 448.9,515.5 448.9,519.7 449,524.8 449.1,528.2 449.2,536.1 449.3,533.4 449.4,540 449.5,538.9 449.5,543 449.6,545.5 449.7,546.3 449.8,545.3 449.9,549.5 450,549.2 450,549.9 450.1,552.5 450.2,547 450.3,548.5 450.4,549.6 450.5,547.2 450.6,550.9 450.6,548.9 450.7,545.1 450.8,545.9 450.9,551.3 451,552.6 451.1,547.3 451.2,542.3 451.2,544 451.3,542.2 451.4,539.1 451.5,540.2 451.6,536.2 451.7,532.9 451.7,531 451.8,528.3 451.9,527 452,521.3 452.1,519 452.2,511.1 452.3,503.4 452.3,503.6 452.4,499.4 452.5,488.2 452.6,477.7 452.7,466.3 452.8,455 452.9,446.1 452.9,432.8 453,415.1 453.1,405.9 453.2,389.2 453.3,381.5 453.4,372.9 453.4,370.6 453.5,372.8 453.6,379.4 453.7,393 453.8,403 453.9,417.2 454,430.4 454,441.9 454.1,457.1 454.2,469.2 454.3,479.3 454.4,487.4 454.5,493.2 454.6,503.1 454.6,505.4 454.7,512.3 454.8,518 454.9,524.1 455,524.8 455.1,527.1 455.1,534.6 455.2,531.5 455.3,532.9 455.4,537.3 455.5,538.8 455.6,536.8 455.7,540.5 455.7,545.8 455.8,545.4 455.9,546.7 456,547.7 456.1,552.8 456.2,547.7 456.3,551.1 456.3,550.3 456.4,551.5 456.5,550.2 456.6,552.9 456.7,554.4 456.8,552.3 456.9,551.1 456.9,554.8 457,552 457.1,554.4 457.2,556.2 457.3,552.7 457.4,557.4 457.4,554.2 457.5,557.3 457.6,555.8 457.7,559.2 457.8,558.7 457.9,555.3 458,557.1 458,557.6 458.1,558.7 458.2,557.2 458.3,560.8 458.4,560.5 458.5,558.8 458.6,560.2 458.6,560.1 458.7,559.1 458.8,559.3 458.9,559.6 459,556.2 459.1,557.5 459.1,557.2 459.2,559.7 459.3,560.7 459.4,562.6 459.5,560.6 459.6,564 459.7,561.3 459.7,558.8 459.8,557.3 459.9,558.6 460,562.1 460.1,559.7 460.2,562.2 460.3,559.2 460.3,561 460.4,559.3 460.5,556.1 460.6,559.3 460.7,556.7 460.8,560.9 460.8,561.9 460.9,558.8 461,558.1 461.1,562.5 461.2,561.4 461.3,564.3 461.4,562 461.4,560 461.5,561.9 461.6,562.9 461.7,564.5 461.8,561.2 461.9,560.5 462,560.9 462,561.6 462.1,564.5 462.2,558.8 462.3,562.3 462.4,562.5 462.5,560.9 462.5,566.5 462.6,562.5 462.7,562.7 462.8,561.8 462.9,560 463,561.7 463.1,566.1 463.1,563.3 463.2,562.3 463.3,562.5 463.4,565.2 463.5,566 463.6,561.9 463.7,562.3 463.7,563 463.8,566.3 463.9,559.7 464,568.6 464.1,563.8 464.2,559.2 464.2,563.5 464.3,562.8 464.4,565.5 464.5,560.7 464.6,565.8 464.7,562.9 464.8,563.1 464.8,565.4 464.9,561.8 465,566.1 465.1,564.8 465.2,563.6 465.3,564.3 465.4,562.7 465.4,561.8 465.5,564.2 465.6,564.7 465.7,564.6 465.8,564.4 465.9,562.2 466,564.1 466,563 466.1,563.9 466.2,565.4 466.3,562.2 466.4,565.8 466.5,563.8 466.5,561 466.6,565.9 466.7,564 466.8,566.8 466.9,564.8 467,566.7 467.1,564.6 467.1,564.9 467.2,563.6 467.3,560.9 467.4,563.3 467.5,562.6 467.6,563.9 467.7,564.3 467.7,565.3 467.8,567.1 467.9,563.6 468,560.6 468.1,562.7 468.2,564.6 468.2,560.4 468.3,564.3 468.4,564.6 468.5,565.7 468.6,565.2 468.7,563.7 468.8,559.4 468.8,563.5 468.9,565 469,564.2 469.1,563.4 469.2,566.1 469.3,562.6 469.4,561.4 469.4,562.1 469.5,561.5 469.6,565 469.7,565.7 469.8,559.9 469.9,560.2 469.9,565.1 470,561.7 470.1,562 470.2,560.9 470.3,561.5 470.4,562.7 470.5,561.3 470.5,561.3 470.6,561.6 470.7,564.9 470.8,567 470.9,562.8 471,564.3 471.1,560.6 471.1,559.7 471.2,560.4 471.3,561.6 471.4,560.6 471.5,558.5 471.6,562 471.6,558.8 471.7,559.1 471.8,559.9 471.9,557.5 472,561.6 472.1,558.4 472.2,561.8 472.2,561.4 472.3,561.9 472.4,559 472.5,561.5 472.6,559.6 472.7,561.8 472.8,557.6 472.8,556.1 472.9,559 473,556.3 473.1,558.3 473.2,555.2 473.3,559.1 473.3,562.2 473.4,556.4 473.5,559.4 473.6,561 473.7,560.3 473.8,562.1 473.9,559.3 473.9,561 474,556.1 474.1,557.7 474.2,562.1 474.3,561.8 474.4,560 474.5,562.5 474.5,559.1 474.6,559 474.7,560.4 474.8,559.9 474.9,558 475,556.3 475.1,556.1 475.1,558.9 475.2,557.4 475.3,560.4 475.4,558.3 475.5,560.9 475.6,557.7 475.6,561.4 475.7,561 475.8,559.2 475.9,558.1 476,562 476.1,560.3 476.2,559.1 476.2,558.9 476.3,561 476.4,559.3 476.5,560 476.6,556.9 476.7,558.5 476.8,562.1 476.8,563.8 476.9,559.5 477,557.5 477.1,559.5 477.2,558.2 477.3,560.9 477.3,562.6 477.4,558.6 477.5,559.9 477.6,558.9 477.7,562.8 477.8,560 477.9,561.5 477.9,558.9 478,561.6 478.1,561.7 478.2,561.7 478.3,558.3 478.4,560.7 478.5,562.3 478.5,562.8 478.6,562.9 478.7,558.3 478.8,564.5 478.9,562.8 479,560 479,559.1 479.1,561.7 479.2,560 479.3,560.1 479.4,559.8 479.5,561.6 479.6,558.6 479.6,561.4 479.7,559 479.8,564 479.9,560.2 480,564.5 480.1,565 480.2,561.3 480.2,563.9 480.3,561.5 480.4,564.5 480.5,559.5 480.6,562.6 480.7,564.8 480.7,562.4 480.8,561.1 480.9,564.3 481,561.9 481.1,559.1 481.2,561.4 481.3,563.1 481.3,564.3 481.4,562.2 481.5,566.2 481.6,569.1 481.7,564.7 481.8,565.6 481.9,560.3 481.9,563.4 482,565.6 482.1,566 482.2,562.9 482.3,565.4 482.4,565 482.5,564.2 482.5,563.9 482.6,563.9 482.7,563.9 482.8,561.7 482.9,561 483,567.4 483,559.5 483.1,564.2 483.2,562.1 483.3,565.9 483.4,563.9 483.5,564.2 483.6,564.4 483.6,563 483.7,563.5 483.8,566.6 483.9,565 484,563.4 484.1,563.5 484.2,565.5 484.2,565.4 484.3,565.2 484.4,567 484.5,567.4 484.6,562.1 484.7,565.8 484.7,564.9 484.8,566.5 484.9,562.7 485,561.9 485.1,565.6 485.2,564.3 485.3,566.7 485.3,562 485.4,563.6 485.5,567 485.6,563 485.7,564.8 485.8,564.7 485.9,564.8 485.9,566.8 486,566.6 486.1,564.4 486.2,565.7 486.3,567.4 486.4,561.9 486.4,566.1 486.5,566.8 486.6,567.1 486.7,564.5 486.8,564 486.9,565.4 487,564.3 487,568.8 487.1,566.7 487.2,566.9 487.3,566 487.4,565.1 487.5,569.9 487.6,560.2 487.6,567.8 487.7,565.5 487.8,564.7 487.9,564.7 488,565.8 488.1,571.8 488.1,568.4 488.2,565 488.3,568.2 488.4,568.4 488.5,570.9 488.6,564.2 488.7,565.6 488.7,568.3 488.8,566.9 488.9,566.8 489,568.8 489.1,567.2 489.2,566.3 489.3,565.7 489.3,564.4 489.4,566.8 489.5,567.7 489.6,566.1 489.7,568.1 489.8,569.3 489.8,564.8 489.9,567.7 490,566.8 490.1,565.9 490.2,569.2 490.3,565.9 490.4,566.3 490.4,567.4 490.5,566.5 490.6,568.7 490.7,571.4 490.8,567.8 490.9,569 491,565.7 491,566.9 491.1,568.4 491.2,567.3 491.3,564.9 491.4,565.3 491.5,566.8 491.6,566.7 491.6,568.1 491.7,567.8 491.8,566.5 491.9,567.9 492,567.1 492.1,569.8 492.1,570.9 492.2,571 492.3,568.6 492.4,565.3 492.5,565.6 492.6,569.7 492.7,570.8 492.7,566.4 492.8,567 492.9,570.5 493,566 493.1,567.7 493.2,565.5 493.3,567.4 493.3,566.4 493.4,567.5 493.5,569.9 493.6,568.6 493.7,569.4 493.8,566.6 493.8,570.1 493.9,571.1 494,567 494.1,566.1 494.2,565.6 494.3,566.3 494.4,571.2 494.4,569.7 494.5,569.4 494.6,568.5 494.7,572.5 494.8,568.5 494.9,568 495,570.3 495,568.3 495.1,566.3 495.2,568.5 495.3,566.6 495.4,566.7 495.5,567.9 495.5,567.9 495.6,569.4 495.7,566.4 495.8,569.6 495.9,570.1 496,567.4 496.1,570.2 496.1,568 496.2,566.8 496.3,568.7 496.4,568.7 496.5,567.2 496.6,567.5 496.7,571.8 496.7,571.4 496.8,566.5 496.9,568.2 497,572.9 497.1,571.6 497.2,569 497.2,570.9 497.3,568.2 497.4,568.9 497.5,568.2 497.6,571.3 497.7,568 497.8,565.5 497.8,570.7 497.9,566.7 498,567.4 498.1,568 498.2,569.4 498.3,571.5 498.4,570.9 498.4,567.9 498.5,567.5 498.6,567 498.7,567.5 498.8,567.7 498.9,570.2 498.9,571.7 499,569 499.1,568.5 499.2,569.3 499.3,572.3 499.4,570.5 499.5,572.3 499.5,569.2 499.6,571.5 499.7,569.9 499.8,569 499.9,569.3 500,567 500.1,571.7 500.1,573.8 500.2,567.9 500.3,567 500.4,567 500.5,569.2 500.6,568.7 500.7,569.5 500.7,572.2 500.8,570.8 500.9,568.8 501,570.9 501.1,566.2 501.2,572.7 501.2,570.6 501.3,567.7 501.4,571 501.5,572 501.6,572.4 501.7,571.3 501.8,567 501.8,569.1 501.9,568.9 502,570.9 502.1,568.4 502.2,569.8 502.3,571.7 502.4,570.8 502.4,569.6 502.5,567.8 502.6,570.1 502.7,569.1 502.8,566.2 502.9,571.6 502.9,572.4 503,568.2 503.1,569.3 503.2,570.3 503.3,569.6 503.4,570.7 503.5,569.2 503.5,570.8 503.6,568.6 503.7,572.4 503.8,571.7 503.9,570 504,571.1 504.1,568.9 504.1,570.3 504.2,571.2 504.3,569.8 504.4,571.2 504.5,573.2 504.6,572.4 504.6,571.8 504.7,571.2 504.8,570.1 504.9,568.6 505,569.2 505.1,566.9 505.2,567.9 505.2,570.7 505.3,567.2 505.4,568.1 505.5,571.2 505.6,569.8 505.7,568.3 505.8,569.9 505.8,568.4 505.9,569.6 506,569 506.1,571 506.2,569.7 506.3,571.1 506.3,569.1 506.4,573.6 506.5,569.8 506.6,568.1 506.7,569.3 506.8,570.5 506.9,569.4 506.9,572.1 507,572 507.1,571.2 507.2,570.8 507.3,568.7 507.4,572.2 507.5,568.6 507.5,573.5 507.6,572 507.7,570.6 507.8,568.4 507.9,571.7 508,574.6 508,569.8 508.1,570.6 508.2,572.6 508.3,572.6 508.4,571.9 508.5,570.4 508.6,569.4 508.6,573.4 508.7,566.3 508.8,570.7 508.9,571.3 509,569.4 509.1,570.5 509.2,566.3 509.2,568.6 509.3,571.4 509.4,571.4 509.5,571.6 509.6,571.3 509.7,569.4 509.8,571.9 509.8,567.7 509.9,570.9 510,571 510.1,569 510.2,574.5 510.3,572.5 510.3,569.6 510.4,570.8 510.5,570.8 510.6,570 510.7,571.9 510.8,571.1 510.9,573.4 510.9,574.4 511,568.4 511.1,572.6 511.2,572.2 511.3,568.2 511.4,568.9 511.5,571.9 511.5,571.9 511.6,571 511.7,572.7 511.8,569.9 511.9,570.6 512,570.7 512,569.5 512.1,569.6 512.2,567.4 512.3,568.1 512.4,574.2 512.5,569.2 512.6,573.1 512.6,573.6 512.7,569.6 512.8,572.3 512.9,571.6 513,569 513.1,572.2 513.2,572.7 513.2,570.4 513.3,568.7 513.4,570 513.5,573.9 513.6,572.2 513.7,571.3 513.7,567.4 513.8,569.3 513.9,569.4 514,568.8 514.1,571.6 514.2,570.1 514.3,570.1 514.3,572.9 514.4,571.1 514.5,570 514.6,573.1 514.7,569.5 514.8,569.6 514.9,569.1 514.9,572.5 515,570.9 515.1,568.4 515.2,569.6 515.3,572.6 515.4,570.7 515.4,568.4 515.5,571.3 515.6,570.4 515.7,566.3 515.8,571.2 515.9,571.3 516,573 516,572.4 516.1,568.3 516.2,571.4 516.3,573.4 516.4,572.9 516.5,571.2 516.6,569.7 516.6,572.6 516.7,569.8 516.8,572.1 516.9,570.5 517,570.2 517.1,570.1 517.1,572 517.2,571.5 517.3,570.3 517.4,573.7 517.5,570.9 517.6,570.3 517.7,569.3 517.7,571.3 517.8,571.6 517.9,571 518,572.6 518.1,571.7 518.2,570.5 518.3,570.7 518.3,573.2 518.4,571.9 518.5,575.3 518.6,569.8 518.7,572.3 518.8,570.8 518.9,573.4 518.9,571.5 519,570.5 519.1,569.5 519.2,573.9 519.3,569.7 519.4,571.6 519.4,572.8 519.5,570.4 519.6,571.9 519.7,571.9 519.8,572.7 519.9,570.9 520,571.3 520,571.7 520.1,573.1 520.2,572.3 520.3,570.6 520.4,568.9 520.5,571.4 520.6,568.7 520.6,571.4 520.7,573.4 520.8,570.1 520.9,573.2 521,570.6 521.1,569.3 521.1,571.9 521.2,571.5 521.3,566.7 521.4,570.9 521.5,570.8 521.6,569.9 521.7,571.5 521.7,571.5 521.8,570.6 521.9,575.8 522,568.7 522.1,573.3 522.2,573.4 522.3,570.3 522.3,571.3 522.4,573.7 522.5,570.9 522.6,573.5 522.7,572.6 522.8,574.2 522.8,572.9 522.9,570.6 523,571.1 523.1,570.7 523.2,569.6 523.3,571.4 523.4,572.6 523.4,571.9 523.5,568.2 523.6,571.3 523.7,570.7 523.8,571.5 523.9,570.9 524,570.5 524,571.3 524.1,571.6 524.2,572.8 524.3,572.9 524.4,570.6 524.5,569.9 524.5,569.6 524.6,571.2 524.7,572.9 524.8,570.1 524.9,570.2 525,574.2 525.1,569.8 525.1,570.2 525.2,568.2 525.3,573.4 525.4,573.7 525.5,569.8 525.6,574.7 525.7,572.7 525.7,573.4 525.8,573.2 525.9,574.9 526,571.8 526.1,569.5 526.2,570.5 526.3,570.5 526.3,572 526.4,568.6 526.5,570.3 526.6,569.3 526.7,574.2 526.8,570.6 526.8,573.4 526.9,570.6 527,570.9 527.1,573.4 527.2,570.9 527.3,569.1 527.4,570.3 527.4,570.2 527.5,572.9 527.6,572.5 527.7,573.4 527.8,571 527.9,569 528,570.4 528,571.3 528.1,573.4 528.2,570.4 528.3,571.7 528.4,574.8 528.5,574.5 528.5,571.9 528.6,572.9 528.7,568.1 528.8,571.2 528.9,573.2 529,572.2 529.1,568.2 529.1,573 529.2,569.8 529.3,570.4 529.4,568.5 529.5,570.2 529.6,572 529.7,570.2 529.7,571.1 529.8,569.4 529.9,571.3 530,567.5 530.1,571.4 530.2,570.4 530.2,572.4 530.3,571 530.4,571.2 530.5,570.9 530.6,569.5 530.7,572.2 530.8,572.8 530.8,569.1 530.9,571.7 531,572.4 531.1,569 531.2,569.7 531.3,576.1 531.4,571.9 531.4,569.7 531.5,569.6 531.6,572.1 531.7,568.2 531.8,572.6 531.9,571.6 531.9,570.9 532,571.2 532.1,569.6 532.2,569.2 532.3,571.2 532.4,568.5 532.5,572.4 532.5,571.5 532.6,567.9 532.7,570.9 532.8,569.1 532.9,571.9 533,571.6 533.1,571.3 533.1,570.8 533.2,571.7 533.3,571.1 533.4,569.8 533.5,568.8 533.6,570.9 533.6,569.9 533.7,569.4 533.8,573.1 533.9,574 534,568 534.1,568.6 534.2,571 534.2,570.4 534.3,572.8 534.4,573.7 534.5,570.5 534.6,573.8 534.7,569.3 534.8,572.3 534.8,570.5 534.9,567.4 535,567.5 535.1,571.6 535.2,569 535.3,573 535.4,572.1 535.4,570.3 535.5,568.4 535.6,572.1 535.7,570 535.8,570.8 535.9,573.4 535.9,571.3 536,568.2 536.1,571.2 536.2,570.1 536.3,569.5 536.4,572.4 536.5,568.7 536.5,568.2 536.6,568 536.7,568.5 536.8,571.9 536.9,572.1 537,572.5 537.1,572.7 537.1,572.5 537.2,569.1 537.3,568.2 537.4,572.2 537.5,569.4 537.6,573.4 537.6,571.6 537.7,572.8 537.8,574 537.9,570.9 538,570.8 538.1,571.7 538.2,571.9 538.2,572.8 538.3,571.2 538.4,572.1 538.5,570.5 538.6,573.2 538.7,570.5 538.8,570 538.8,568.6 538.9,569 539,570.6 539.1,572.2 539.2,574.4 539.3,570.9 539.3,568.3 539.4,567.8 539.5,575.7 539.6,572.3 539.7,571.6 539.8,572.9 539.9,570.5 539.9,570.8 540,571.9 540.1,571 540.2,573.9 540.3,572.7 540.4,572.6 540.5,569.2 540.5,573.9 540.6,571.3 540.7,569.4 540.8,571 540.9,569.3 541,572.1 541,570 541.1,569.1 541.2,566.6 541.3,569.5 541.4,568.1 541.5,570.8 541.6,570.6 541.6,567.8 541.7,569.7 541.8,568.1 541.9,569.4 542,566.8 542.1,566.3 542.2,572.3 542.2,567.3 542.3,569.9 542.4,569.8 542.5,571 542.6,569.4 542.7,572.8 542.7,572.1 542.8,572.2 542.9,570.2 543,569 543.1,569.3 543.2,570 543.3,571.8 543.3,574 543.4,569.9 543.5,570.4 543.6,570 543.7,568 543.8,571 543.9,571 543.9,575 544,569.6 544.1,570.7 544.2,572 544.3,569.9 544.4,572.6 544.5,571.6 544.5,566.9 544.6,569.2 544.7,568.8 544.8,569.2 544.9,569.4 545,570.2 545,566.2 545.1,570.7 545.2,569.2 545.3,571 545.4,571.2 545.5,575.1 545.6,574.2 545.6,567.6 545.7,567.7 545.8,571.3 545.9,570.6 546,569.3 546.1,572.4 546.2,567.2 546.2,572.5 546.3,571.8 546.4,575.7 546.5,567.6 546.6,570.4 546.7,567.4 546.7,572.3 546.8,569.8 546.9,570.3 547,570.1 547.1,566.5 547.2,566.1 547.3,567.8 547.3,571.2 547.4,568.7 547.5,567.9 547.6,569.3 547.7,569.3 547.8,569.5 547.9,572.1 547.9,569.9 548,567.3 548.1,572.2 548.2,570.1 548.3,568.7 548.4,572.8 548.4,570.5 548.5,573.4 548.6,571.3 548.7,572.7 548.8,571.7 548.9,570.9 549,570.5 549,570.3 549.1,574.4 549.2,566.8 549.3,570.2 549.4,571.7 549.5,570.8 549.6,569 549.6,571.4 549.7,570.2 549.8,570.2 549.9,568.3 550,570.6 550.1,568.3 550.1,568.4 550.2,569.3 550.3,566.6 550.4,568.8 550.5,571 550.6,568.1 550.7,568.4 550.7,568.6 550.8,568 550.9,564 551,567.9 551.1,567.4 551.2,568.6 551.3,565.6 551.3,568.1 551.4,569.5 551.5,570.2 551.6,566.8 551.7,566.3 551.8,570.6 551.8,568.9 551.9,566.3 552,565.4 552.1,569.8 552.2,568 552.3,565.6 552.4,568 552.4,567.8 552.5,567.9 552.6,569.2 552.7,566.6 552.8,566 552.9,569.1 553,566.2 553,564.2 553.1,565.8 553.2,564.3 553.3,567 553.4,563.3 553.5,567.2 553.6,562.1 553.6,566.4 553.7,566.8 553.8,567 553.9,565.9 554,566 554.1,566.2 554.1,565.4 554.2,563.4 554.3,562.8 554.4,565 554.5,561.9 554.6,565.9 554.7,565.9 554.7,565.9 554.8,562.5 554.9,566.4 555,565.9 555.1,560.7 555.2,559.7 555.3,560.2 555.3,565.4 555.4,562.4 555.5,560.6 555.6,561.8 555.7,564.9 555.8,562.3 555.8,564.6 555.9,563.5 556,556.9 556.1,559.5 556.2,563.3 556.3,563.2 556.4,559.2 556.4,561 556.5,558.5 556.6,560.5 556.7,559.3 556.8,558 556.9,560 557,561.3 557,559.4 557.1,558 557.2,556.5 557.3,555.7 557.4,555.1 557.5,553.4 557.5,555.4 557.6,550.5 557.7,548.6 557.8,551 557.9,550.7 558,547.9 558.1,548.3 558.1,548.4 558.2,548.3 558.3,548.6 558.4,548.6 558.5,544.3 558.6,542.5 558.7,545.8 558.7,543.1 558.8,541.7 558.9,542 559,541.8 559.1,540.2 559.2,542.3 559.2,537.8 559.3,537.3 559.4,531.9 559.5,533.2 559.6,534.7 559.7,533 559.8,528.7 559.8,527.8 559.9,529.4 560,528.8 560.1,530.1 560.2,526.7 560.3,525.2 560.4,524.9 560.4,518.9 560.5,524.4 560.6,519.7 560.7,517.3 560.8,515.8 560.9,512.1 560.9,516.5 561,513.8 561.1,510.8 561.2,509.3 561.3,508.9 561.4,508.2 561.5,503.3 561.5,505.9 561.6,503.6 561.7,498.3 561.8,496.3 561.9,496.3 562,498 562.1,496.3 562.1,494.7 562.2,493.5 562.3,490.5 562.4,485.6 562.5,485.9 562.6,486.1 562.7,484.5 562.7,483.6 562.8,477.5 562.9,482.1 563,476.3 563.1,478.1 563.2,476 563.2,475.5 563.3,469.7 563.4,470.5 563.5,464.2 563.6,470.4 563.7,469.6 563.8,465.6 563.8,464.8 563.9,465.5 564,467.9 564.1,460.5 564.2,461.4 564.3,460.9 564.4,462 564.4,459 564.5,460.6 564.6,458.9 564.7,458.9 564.8,455.7 564.9,458.6 564.9,458.1 565,455.2 565.1,456.8 565.2,457.4 565.3,458 565.4,456.2 565.5,459.8 565.5,458.3 565.6,456.1 565.7,460.1 565.8,463.2 565.9,465 566,463.5 566.1,467.2 566.1,469 566.2,468.5 566.3,470.3 566.4,467.6 566.5,473 566.6,468.3 566.6,473.6 566.7,472.8 566.8,472.5 566.9,474.2 567,474.1 567.1,478.1 567.2,481.4 567.2,478.3 567.3,481.9 567.4,480.7 567.5,478.7 567.6,481.7 567.7,483.3 567.8,485.1 567.8,484.4 567.9,485 568,488.5 568.1,485.8 568.2,489.2 568.3,487.6 568.3,489.7 568.4,487.7 568.5,488.8 568.6,491.1 568.7,492.1 568.8,491.8 568.9,490.7 568.9,492 569,494.4 569.1,494.8 569.2,493 569.3,499.7 569.4,496.1 569.5,499.4 569.5,495.6 569.6,499.6 569.7,499.3 569.8,501.6 569.9,499.9 570,498.8 570,497.5 570.1,503.4 570.2,502.2 570.3,494.3 570.4,500.3 570.5,502.4 570.6,501.7 570.6,508.1 570.7,500.3 570.8,503.3 570.9,506.7 571,502 571.1,505.7 571.2,506.8 571.2,504.1 571.3,504.6 571.4,506.5 571.5,506 571.6,508.7 571.7,509.1 571.8,504.9 571.8,504.3 571.9,506.2 572,506.5 572.1,508.2 572.2,507.9 572.3,509.6 572.3,504.7 572.4,509.2 572.5,507.5 572.6,508.4 572.7,511.2 572.8,505 572.9,509.5 572.9,510.3 573,508.7 573.1,510.7 573.2,509 573.3,511 573.4,508.2 573.5,509.2 573.5,512 573.6,507.5 573.7,509.2 573.8,511.7 573.9,509 574,508.9 574,506.3 574.1,511.5 574.2,508.3 574.3,510.1 574.4,508.8 574.5,510.5 574.6,510.2 574.6,509.2 574.7,512.4 574.8,514.1 574.9,510.2 575,511 575.1,510 575.2,508.9 575.2,510.5 575.3,507.8 575.4,510 575.5,509.6 575.6,508.1 575.7,508.4 575.7,509.4 575.8,508.8 575.9,510.2 576,509.7 576.1,508.1 576.2,506.4 576.3,508.5 576.3,505.7 576.4,503.3 576.5,502.5 576.6,506.1 576.7,503.8 576.8,504.2 576.9,503.5 576.9,502.9 577,503.1 577.1,502.1 577.2,502.8 577.3,503.2 577.4,501.8 577.4,500.9 577.5,499 577.6,500.1 577.7,499 577.8,497.2 577.9,501.2 578,499.4 578,497.4 578.1,497.9 578.2,499.4 578.3,495.1 578.4,496.6 578.5,497.8 578.6,491.8 578.6,497.2 578.7,494.2 578.8,494.8 578.9,492.6 579,491 579.1,492.9 579.2,490.8 579.2,490.1 579.3,491 579.4,486.1 579.5,487.2 579.6,487.3 579.7,487.2 579.7,485.7 579.8,484 579.9,484.3 580,480.2 580.1,486.5 580.2,484.9 580.3,480.5 580.3,482.7 580.4,478.5 580.5,478.8 580.6,475.6 580.7,475.1 580.8,472.6 580.9,472.5 580.9,471.1 581,471.7 581.1,470 581.2,470.3 581.3,471.7 581.4,472.2 581.4,471.5 581.5,467.6 581.6,472.3 581.7,466.8 581.8,467.9 581.9,464.4 582,464.8 582,465.9 582.1,463.8 582.2,467.5 582.3,462 582.4,461 582.5,464.7 582.6,459 582.6,460.2 582.7,459 582.8,461.3 582.9,456.9 583,456.3 583.1,456.8 583.1,458 583.2,454 583.3,452.5 583.4,453.4 583.5,451.6 583.6,454 583.7,451.9 583.7,450.9 583.8,450.7 583.9,444.9 584,448.8 584.1,450 584.2,446.7 584.3,449.6 584.3,446.2 584.4,444.8 584.5,446.4 584.6,445.3 584.7,445.7 584.8,442.8 584.8,443.4 584.9,437.9 585,439.1 585.1,439.8 585.2,441.1 585.3,433.6 585.4,434 585.4,434.7 585.5,434.3 585.6,433.5 585.7,433.9 585.8,428.8 585.9,431.2 586,433.7 586,431.7 586.1,434.9 586.2,428.4 586.3,427.9 586.4,425.8 586.5,425.1 586.5,430.6 586.6,428.4 586.7,427.5 586.8,428.1 586.9,430.8 587,428.6 587.1,429.6 587.1,428.3 587.2,431.4 587.3,432.3 587.4,433.3 587.5,433.6 587.6,434.9 587.7,434.7 587.7,433.7 587.8,434.4 587.9,433.4 588,434.5 588.1,436.1 588.2,440.1 588.3,437.5 588.3,437.1 588.4,442.4 588.5,442.7 588.6,443.1 588.7,443.9 588.8,443.2 588.8,445.2 588.9,443.5 589,447.4 589.1,446.3 589.2,447.9 589.3,449.8 589.4,447 589.4,449.9 589.5,450 589.6,452.8 589.7,451.9 589.8,453.2 589.9,455.8 590,460 590,456.3 590.1,457.7 590.2,459.8 590.3,460.9 590.4,462.3 590.5,463.3 590.5,466.8 590.6,466.2 590.7,466.6 590.8,469.5 590.9,471.3 591,467.1 591.1,470.6 591.1,473.4 591.2,474.8 591.3,479.8 591.4,478.5 591.5,477.3 591.6,475.3 591.7,482.5 591.7,480.8 591.8,476.7 591.9,479.9 592,481.3 592.1,480.6 592.2,484 592.2,484.9 592.3,484.1 592.4,484.6 592.5,489.1 592.6,485 592.7,492 592.8,490.8 592.8,484.5 592.9,492 593,490.6 593.1,494.5 593.2,494 593.3,495.5 593.4,495.7 593.4,494.4 593.5,493.1 593.6,495.5 593.7,494.9 593.8,499.5 593.9,496.4 593.9,498.8 594,498 594.1,502 594.2,502.3 594.3,499.9 594.4,502 594.5,503.5 594.5,505.6 594.6,505.1 594.7,504.6 594.8,504.7 594.9,507.6 595,507.8 595.1,506.8 595.1,510.3 595.2,506.9 595.3,509.2 595.4,510 595.5,514.8 595.6,513.7 595.6,513.2 595.7,512.8 595.8,514.3 595.9,512 596,512.9 596.1,514.1 596.2,517.9 596.2,511.8 596.3,515.4 596.4,514.2 596.5,517.1 596.6,516.2 596.7,515.3 596.8,516.6 596.8,515.7 596.9,518.2 597,514.5 597.1,522.3 597.2,520.1 597.3,517.6 597.4,520.4 597.4,521.1 597.5,524 597.6,518.8 597.7,525 597.8,520.8 597.9,521.8 597.9,520.9 598,520.2 598.1,524.6 598.2,525.2 598.3,524.6 598.4,527.6 598.5,523.2 598.5,525.8 598.6,525.1 598.7,527.9 598.8,526.1 598.9,527.7 599,527 599.1,529.3 599.1,525.6 599.2,529.1 599.3,533 599.4,527.3 599.5,529.5 599.6,530.9 599.6,524.8 599.7,530 599.8,532.7 599.9,531.7 600,530.1 600.1,531.6 600.2,529.2 600.2,529.8 600.3,533.6 600.4,532.4 600.5,531.5 600.6,533.8 600.7,534.2 600.8,532 600.8,533.1 600.9,536.9 601,535.6 601.1,535.6 601.2,535.4 601.3,536.8 601.3,533.2 601.4,537.8 601.5,538.3 601.6,536.2 601.7,541.1 601.8,539.1 601.9,536.2 601.9,540.2 602,539.5 602.1,536.1 602.2,537.6 602.3,538.6 602.4,538.5 602.5,540.5 602.5,538.9 602.6,540.1 602.7,535.3 602.8,539.2 602.9,541.1 603,540.8 603,540.9 603.1,543.8 603.2,543 603.3,538.8 603.4,544.6 603.5,543.3 603.6,540.5 603.6,539.8 603.7,544.8 603.8,540.4 603.9,544.1 604,540.5 604.1,542.9 604.2,544.6 604.2,542.9 604.3,543.5 604.4,546.2 604.5,540.9 604.6,545.9 604.7,543.3 604.7,546.6 604.8,549.4 604.9,548.3 605,546.6 605.1,545.3 605.2,543.5 605.3,546.9 605.3,547.8 605.4,549.8 605.5,547.8 605.6,547.4 605.7,552.3 605.8,545.9 605.9,546.4 605.9,544.5 606,550.7 606.1,549.1 606.2,549.4 606.3,552.1 606.4,551.5 606.5,551.9 606.5,549.3 606.6,549.6 606.7,548.1 606.8,551.6 606.9,553.7 607,550.4 607,550.8 607.1,550.4 607.2,549.5 607.3,553.1 607.4,550.7 607.5,554.3 607.6,552.3 607.6,551.5 607.7,553.2 607.8,552.7 607.9,555.9 608,554.7 608.1,553.4 608.2,556.1 608.2,555.6 608.3,549.6 608.4,553.9 608.5,556.1 608.6,556.6 608.7,552.2 608.7,560.3 608.8,555.9 608.9,554.2 609,556.6 609.1,554.7 609.2,557.9 609.3,556.1 609.3,556.1 609.4,556.3 609.5,556.2 609.6,556.5 609.7,554.6 609.8,557.4 609.9,558.2 609.9,557.7 610,557.9 610.1,560.3 610.2,561.2 610.3,560.3 610.4,557.3 610.4,559.3 610.5,558.9 610.6,552.8 610.7,556.3 610.8,558.9 610.9,559.8 611,556.2 611,560.4 611.1,556.7 611.2,558 611.3,556.6 611.4,560.8 611.5,557.8 611.6,563.1 611.6,560.1 611.7,557.8 611.8,558.7 611.9,563.6 612,558.9 612.1,559.5 612.1,560.6 612.2,561.9 612.3,561.2 612.4,561.9 612.5,559.1 612.6,560.1 612.7,559.1 612.7,559.9 612.8,563.8 612.9,561.2 613,557.5 613.1,563.7 613.2,561.2 613.3,563.3 613.3,563.6 613.4,561.6 613.5,560.4 613.6,560.8 613.7,561.5 613.8,560.6 613.8,565.6 613.9,561.1 614,561.9 614.1,563.1 614.2,562.9 614.3,564.6 614.4,560.9 614.4,564.6 614.5,566 614.6,563.3 614.7,564.5 614.8,563.6 614.9,560.7 615,563.9 615,563.5 615.1,559.5 615.2,566.5 615.3,563.2 615.4,561.8 615.5,561.2 615.6,559.9 615.6,565.5 615.7,563.1 615.8,564.5 615.9,565.3 616,565.9 616.1,567.3 616.1,564 616.2,563.2 616.3,566.8 616.4,563.4 616.5,565.9 616.6,566.9 616.7,570 616.7,563 616.8,563.8 616.9,565.8 617,566 617.1,567.8 617.2,564.4 617.3,565.6 617.3,564.5 617.4,565.2 617.5,568.3 617.6,568.6 617.7,564.9 617.8,569 617.8,565.3 617.9,564.2 618,568.4 618.1,564.7 618.2,566 618.3,565.1 618.4,567.4 618.4,566.2 618.5,565.4 618.6,562.8 618.7,565 618.8,565.4 618.9,568.9 619,565.9 619,567.8 619.1,566.7 619.2,566.1 619.3,564.8 619.4,565.6 619.5,566.4 619.5,566.9 619.6,564.2 619.7,568.5 619.8,566.8 619.9,564.3 620,567.3 620.1,565.4 620.1,565.4 620.2,563.3 620.3,565 620.4,570.3 620.5,567.2 620.6,566.7 620.7,565.7 620.7,566.6 620.8,563.7 620.9,565.3 621,569.6 621.1,568.6 621.2,571.4 621.2,564.2 621.3,567.8 621.4,567.8 621.5,570.6 621.6,568.5 621.7,566.8 621.8,568.5 621.8,568.5 621.9,568.9 622,564 622.1,568.8 622.2,570.6 622.3,568.8 622.4,568.5 622.4,568 622.5,568.3 622.6,570 622.7,568.3 622.8,567.2 622.9,570.6 623,564.2 623,564.7 623.1,571.4 623.2,568.7 623.3,566.1 623.4,565.4 623.5,564.6 623.5,571.5 623.6,570.1 623.7,569 623.8,566.9 623.9,570 624,567.2 624.1,567.1 624.1,566.6 624.2,570.4 624.3,567.6 624.4,567.8 624.5,568.7 624.6,565.4 624.7,568.4 624.7,565.1 624.8,569 624.9,564.5 625,564.6 625.1,569.3 625.2,567 625.2,567 625.3,569.5 625.4,566 625.5,566.3 625.6,569.1 625.7,567.2 625.8,565.6 625.8,567.5 625.9,568.4 626,563.8 626.1,568.7 626.2,566 626.3,564.3 626.4,564.8 626.4,569.6 626.5,566.4 626.6,565.8 626.7,565.6 626.8,563.6 626.9,563.3 626.9,563.7 627,563 627.1,561.1 627.2,560.2 627.3,565.9 627.4,557.9 627.5,563.1 627.5,560.6 627.6,565.4 627.7,563.6 627.8,565.4 627.9,561.4 628,562.2 628.1,564.3 628.1,565.1 628.2,564.4 628.3,567.2 628.4,566.9 628.5,567.4 628.6,564.6 628.6,566.3 628.7,569 628.8,566.1 628.9,565.8 629,564.3 629.1,568.1 629.2,566.4 629.2,563.2 629.3,567.9 629.4,568 629.5,566.4 629.6,568.4 629.7,567.5 629.8,568.5 629.8,569 629.9,565.9 630,568.3 630.1,569.5 630.2,568.1 630.3,567.9 630.3,567 630.4,565.8 630.5,564.2 630.6,569.9 630.7,568.1 630.8,571.1 630.9,567.1 630.9,566.6 631,568.8 631.1,569.3 631.2,569.4 631.3,570.3 631.4,566.2 631.5,563.7 631.5,569.5 631.6,564.1 631.7,567.4 631.8,569.7 631.9,565.9 632,565.4 632.1,566 632.1,567.1 632.2,563.3 632.3,566.8 632.4,564.8 632.5,564.5 632.6,567.2 632.6,568.6 632.7,567.9 632.8,564.9 632.9,562.8 633,566.2 633.1,563.3 633.2,558.1 633.2,563.5 633.3,558.2 633.4,557.5 633.5,556.1 633.6,560.2 633.7,556.9 633.8,560.8 633.8,556.5 633.9,561.6 634,560.2 634.1,563.4 634.2,562.4 634.3,566.3 634.3,563.5 634.4,563.3 634.5,564.9 634.6,562.2 634.7,564.9 634.8,564.3 634.9,565.1 634.9,562.6 635,567.6 635.1,567 635.2,567 635.3,565.5 635.4,566.2 635.5,565.2 635.5,566.3 635.6,567.9 635.7,567 635.8,566.1 635.9,571.3 636,564.3 636,568 636.1,567.6 636.2,566.4 636.3,567.4 636.4,569.6 636.5,567.3 636.6,564.1 636.6,564.7 636.7,564.3 636.8,567.7 636.9,567 637,564.5 637.1,563.6 637.2,566.3 637.2,568.1 637.3,569.8 637.4,563.3 637.5,568.8 637.6,564.9 637.7,563.9 637.7,559.1 637.8,564.9 637.9,565.2 638,563.9 638.1,563.6 638.2,561.7 638.3,562.6 638.3,565.1 638.4,567.3 638.5,562.2 638.6,563.5 638.7,558.9 638.8,563.5 638.9,559.8 638.9,560.7 639,560 639.1,553.8 639.2,555.3 639.3,554.3 639.4,550.5 639.4,551.1 639.5,547.4 639.6,544.4 639.7,535.2 639.8,533.6 639.9,527.5 640,520.4 640,516.7 640.1,511 640.2,509.9 640.3,504.3 640.4,506.2 640.5,511.5 640.6,514 640.6,526 640.7,527.8 640.8,536.9 640.9,541.3 641,543.6 641.1,544 641.2,551.8 641.2,553.8 641.3,556.2 641.4,551.6 641.5,556 641.6,557.4 641.7,555.2 641.7,559.6 641.8,565 641.9,562.5 642,564.4 642.1,558.6 642.2,565.8 642.3,562.8 642.3,564.8 642.4,564.9 642.5,564.3 642.6,564.9 642.7,566.1 642.8,567.4 642.9,566.5 642.9,567.4 643,567.3 643.1,565.4 643.2,566.1 643.3,564.9 643.4,566.4 643.4,562.3 643.5,567.6 643.6,568.2 643.7,564.3 643.8,567.7 643.9,566.2 644,564.6 644,566.7 644.1,567.3 644.2,564.7 644.3,566 644.4,567.7 644.5,569.1 644.6,567.5 644.6,570 644.7,568.5 644.8,569 644.9,566.3 645,565.4 645.1,568.2 645.1,567.8 645.2,569.1 645.3,569.6 645.4,567.8 645.5,565.8 645.6,566 645.7,565.8 645.7,567.5 645.8,572.3 645.9,565.2 646,564.4 646.1,565.2 646.2,565.2 646.3,564.8 646.3,561.7 646.4,566.3 646.5,563.9 646.6,565.4 646.7,565.6 646.8,567.2 646.8,567.6 646.9,569.1 647,565.7 647.1,567.5 647.2,569.2 647.3,568.4 647.4,569.2 647.4,563.7 647.5,567.3 647.6,566.6 647.7,569.2 647.8,568.8 647.9,564.7 648,567.2 648,566.3 648.1,563.1 648.2,562.6 648.3,565.3 648.4,565.7 648.5,566.2 648.5,567.2 648.6,562.6 648.7,569 648.8,566.7 648.9,570.3 649,569 649.1,565.7 649.1,565.6 649.2,565.8 649.3,567 649.4,567.7 649.5,567.4 649.6,567 649.7,564 649.7,563.3 649.8,565.2 649.9,567.1 650,567.8 650.1,565.3 650.2,566.3 650.3,569.4 650.3,563 650.4,565.7 650.5,566.2 650.6,567.2 650.7,567.1 650.8,563.6 650.8,567.1 650.9,565 651,563.9 651.1,561.4 651.2,563.8 651.3,565 651.4,565.7 651.4,563 651.5,562.7 651.6,565.4 651.7,563.3 651.8,564.7 651.9,567.5 652,566.2 652,562.6 652.1,561.3 652.2,562.7 652.3,564.3 652.4,565.3 652.5,562.7 652.5,563 652.6,566.8 652.7,562.3 652.8,564.9 652.9,562.1 653,562.3 653.1,561.8 653.1,561.1 653.2,561.7 653.3,565.1 653.4,564.9 653.5,560.8 653.6,561.8 653.7,565.7 653.7,566.5 653.8,560.7 653.9,558 654,560.6 654.1,562.6 654.2,561.4 654.2,567.2 654.3,563.6 654.4,559.6 654.5,559.7 654.6,565.4 654.7,558.7 654.8,559.8 654.8,558.8 654.9,560.8 655,560.2 655.1,562.1 655.2,559.1 655.3,557.7 655.4,561 655.4,558.2 655.5,559.6 655.6,556.2 655.7,555.9 655.8,562.1 655.9,556.1 655.9,554.5 656,557.1 656.1,555.9 656.2,555.2 656.3,556.5 656.4,553.8 656.5,549.8 656.5,551.1 656.6,548.1 656.7,548.2 656.8,546.7 656.9,547.6 657,545.1 657.1,541.2 657.1,540.7 657.2,541.2 657.3,541.2 657.4,539.5 657.5,534.8 657.6,531.8 657.6,533.2 657.7,525.9 657.8,522 657.9,518 658,515.1 658.1,504.6 658.2,502.1 658.2,500.8 658.3,493.5 658.4,484.4 658.5,479 658.6,474.1 658.7,469.5 658.8,466 658.8,464 658.9,464.3 659,462 659.1,471.1 659.2,470.9 659.3,472 659.4,481.7 659.4,488.5 659.5,488.6 659.6,496.3 659.7,504.3 659.8,510.5 659.9,514.8 659.9,519.5 660,523.4 660.1,528.1 660.2,528.9 660.3,534.1 660.4,539.2 660.5,540.7 660.5,540.3 660.6,544.3 660.7,548.9 660.8,542.7 660.9,546.1 661,549.4 661.1,550.7 661.1,549.7 661.2,549.1 661.3,553.9 661.4,552.7 661.5,555.5 661.6,554.3 661.6,557.9 661.7,559.8 661.8,556.6 661.9,557.5 662,556.4 662.1,559.6 662.2,556 662.2,558.9 662.3,556.5 662.4,560.5 662.5,557.2 662.6,560.6 662.7,560.5 662.8,559.1 662.8,564.8 662.9,563.6 663,558.2 663.1,564.9 663.2,563.2 663.3,561.4 663.3,559.8 663.4,563.8 663.5,562.7 663.6,565.3 663.7,564.1 663.8,561.5 663.9,563 663.9,563.8 664,563.1 664.1,563.8 664.2,563.8 664.3,565 664.4,566.3 664.5,563.2 664.5,566.9 664.6,562.8 664.7,560.7 664.8,562 664.9,560.5 665,567.2 665,564.8 665.1,567 665.2,566.9 665.3,568.9 665.4,568 665.5,564 665.6,564.4 665.6,563.5 665.7,563.8 665.8,564.5 665.9,567.7 666,566.4 666.1,564.9 666.2,563.9 666.2,567.2 666.3,567.5 666.4,567.4 666.5,563.6 666.6,565.6 666.7,567.4 666.8,568.4"/>
<rect class="fr" x="403.1" y="332.2" width="263.6" height="269.6"/>
<path class="tk" d="M445.6 601.9v-5M488.1 601.9v-5M530.7 601.9v-5M573.2 601.9v-5M615.7 601.9v-5M658.2 601.9v-5M403.1 557h5M403.1 512h5M403.1 467.1h5M403.1 422.1h5M403.1 377.2h5"/>
<text x="403.1" y="614.5" font-size="12.7" text-anchor="middle">3500</text>
<text x="445.6" y="614.5" font-size="12.7" text-anchor="middle">3000</text>
<text x="488.1" y="614.5" font-size="12.7" text-anchor="middle">2500</text>
<text x="530.7" y="614.5" font-size="12.7" text-anchor="middle">2000</text>
<text x="573.2" y="614.5" font-size="12.7" text-anchor="middle">1500</text>
<text x="615.7" y="614.5" font-size="12.7" text-anchor="middle">1000</text>
<text x="658.2" y="614.5" font-size="12.7" text-anchor="middle">500</text>
<text x="396.3" y="559.6" font-size="12.7" text-anchor="end">100</text>
<text x="396.3" y="514.6" font-size="12.7" text-anchor="end">200</text>
<text x="396.3" y="469.7" font-size="12.7" text-anchor="end">300</text>
<text x="396.3" y="424.8" font-size="12.7" text-anchor="end">400</text>
<text x="396.3" y="379.8" font-size="12.7" text-anchor="end">500</text>
<text x="396.3" y="604.5" font-size="12.7" text-anchor="end">0</text>
<text x="396.3" y="334.9" font-size="12.7" text-anchor="end">600</text>
<text x="535.5" y="634.1" font-size="13.25" text-anchor="middle">Raman shift (cm<tspan font-size="7.4" dy="-6.6">-1</tspan><tspan dy="6.6">)</tspan></text>
<text transform="translate(364.7 467.1) rotate(-90)" font-size="13.4" text-anchor="middle">Raman intensity (a.u)</text>
</g>
<g id="panel-d">
<polyline class="cv" stroke-width="2.0" points="744.6,578.2 744.7,578.3 744.9,576.5 745,575.8 745.1,578.5 745.3,579 745.4,578.2 745.5,578.1 745.7,578.8 745.8,578.8 745.9,577.3 746,576.2 746.2,576.2 746.3,577 746.4,578.4 746.6,577.1 746.7,577.4 746.8,578.3 747,577 747.1,578.6 747.2,578.9 747.4,578.7 747.5,577.9 747.6,577.4 747.8,576.5 747.9,577.9 748,579.1 748.2,578.3 748.3,577.7 748.4,578.7 748.6,579.6 748.7,577.7 748.8,578.6 748.9,578 749.1,576.7 749.2,576.7 749.3,576 749.5,577.6 749.6,579 749.7,578.4 749.9,577.2 750,576.3 750.1,577.5 750.3,578.6 750.4,578.7 750.5,578.7 750.7,578.2 750.8,577.8 750.9,576 751.1,576.3 751.2,578.2 751.3,577.4 751.5,577.9 751.6,578.6 751.7,577.8 751.8,576.9 752,577.9 752.1,577.5 752.2,576.7 752.4,577.6 752.5,576.7 752.6,576.3 752.8,576.1 752.9,576.5 753,577.3 753.2,577.2 753.3,578 753.4,577.3 753.6,577.1 753.7,579 753.8,576.8 754,575.9 754.1,578.4 754.2,576.9 754.4,576.2 754.5,576.8 754.6,577.2 754.7,578.2 754.9,578.9 755,580.2 755.1,579.6 755.3,578.2 755.4,576.8 755.5,574.8 755.7,576.2 755.8,577.3 755.9,577 756.1,577.9 756.2,578.6 756.3,579.6 756.5,579.1 756.6,578.8 756.7,578.2 756.9,577.8 757,576.8 757.1,576.1 757.2,577 757.4,576.2 757.5,575.9 757.6,576.8 757.8,577.3 757.9,577.3 758,576.4 758.2,575.7 758.3,576.2 758.4,576.2 758.6,576.9 758.7,577.1 758.8,577.8 759,577.1 759.1,575.9 759.2,576.9 759.4,576.4 759.5,576.6 759.6,577.3 759.8,576.3 759.9,576 760,577.6 760.1,577.4 760.3,578 760.4,577 760.5,575.8 760.7,577.1 760.8,575.1 760.9,573.4 761.1,575.1 761.2,576.3 761.3,575.5 761.5,574.7 761.6,575.6 761.7,576.9 761.9,575.8 762,575.7 762.1,576 762.3,575.7 762.4,577.2 762.5,578.4 762.7,579.6 762.8,579.1 762.9,575.9 763,576.6 763.2,576.6 763.3,574.9 763.4,575.9 763.6,576.7 763.7,576.6 763.8,577.2 764,577.5 764.1,576.8 764.2,576.1 764.4,575.4 764.5,576.5 764.6,576.4 764.8,576.4 764.9,577.2 765,576.2 765.2,576.1 765.3,576.5 765.4,576.2 765.5,576.5 765.7,577.2 765.8,576.9 765.9,575.6 766.1,575.5 766.2,574.7 766.3,574.4 766.5,578.3 766.6,578.8 766.7,575 766.9,574.6 767,576.3 767.1,576.9 767.3,575.5 767.4,574 767.5,574.5 767.7,574.9 767.8,574.2 767.9,573.9 768.1,576 768.2,576 768.3,574.8 768.4,575.5 768.6,575 768.7,574.8 768.8,577.7 769,576.5 769.1,573.3 769.2,574.6 769.4,575.7 769.5,575.4 769.6,576 769.8,575.9 769.9,575.1 770,575.6 770.2,576.1 770.3,576.3 770.4,574.6 770.6,573 770.7,573.4 770.8,574.5 771,575.6 771.1,574.9 771.2,572.9 771.3,574.7 771.5,575 771.6,575.4 771.7,576.5 771.9,574.5 772,575.2 772.1,576.7 772.3,575.4 772.4,573.4 772.5,573.9 772.7,573.5 772.8,573.6 772.9,573.3 773.1,572.5 773.2,573.6 773.3,573.2 773.5,573 773.6,572 773.7,570.4 773.9,571.4 774,573.2 774.1,574.5 774.2,574.9 774.4,573.9 774.5,573.3 774.6,573.3 774.8,573.1 774.9,572.7 775,573.7 775.2,574.8 775.3,572.8 775.4,571.3 775.6,572.5 775.7,572.1 775.8,572.2 776,573.3 776.1,574.2 776.2,573.3 776.4,571.8 776.5,571.6 776.6,571 776.7,571.7 776.9,572.1 777,571.2 777.1,571.4 777.3,572.4 777.4,572.2 777.5,571.4 777.7,570.7 777.8,569.8 777.9,570.6 778.1,571.1 778.2,571.6 778.3,572.1 778.5,571.5 778.6,570.6 778.7,570.3 778.9,572.1 779,572.1 779.1,571.6 779.3,572.3 779.4,572.9 779.5,573.5 779.6,571.1 779.8,570.3 779.9,571.8 780,573 780.2,574.7 780.3,574 780.4,573.3 780.6,572.6 780.7,573.4 780.8,573.7 781,571.8 781.1,573 781.2,573.6 781.4,573.7 781.5,574.3 781.6,573.3 781.8,572.2 781.9,573.1 782,574.4 782.2,573.1 782.3,574.2 782.4,575.1 782.5,574.9 782.7,575.5 782.8,574.2 782.9,573.1 783.1,571.6 783.2,571.1 783.3,572 783.5,573.2 783.6,574.5 783.7,574.2 783.9,575.7 784,574.4 784.1,573.1 784.3,575.2 784.4,575 784.5,573.4 784.7,572 784.8,572.9 784.9,573.4 785,573.1 785.2,574.2 785.3,573.9 785.4,573 785.6,574.2 785.7,573.3 785.8,573.2 786,573.8 786.1,573.2 786.2,574 786.4,573.6 786.5,572.2 786.6,572.5 786.8,573.1 786.9,570.7 787,571 787.2,572.1 787.3,570.8 787.4,571.1 787.6,571 787.7,570.9 787.8,570.5 787.9,569.7 788.1,570.7 788.2,569.3 788.3,568.3 788.5,569.3 788.6,569.6 788.7,569.3 788.9,568.2 789,567.1 789.1,565.5 789.3,566 789.4,566.3 789.5,563.3 789.7,561.8 789.8,561 789.9,558.2 790.1,556.3 790.2,554.7 790.3,551.9 790.5,547.1 790.6,541.4 790.7,537.3 790.8,530.3 791,522 791.1,512.4 791.2,502.8 791.4,499.3 791.5,500.8 791.6,507.5 791.8,514.8 791.9,522.1 792,530.7 792.2,536.4 792.3,541.7 792.4,546.6 792.6,549.6 792.7,552.4 792.8,551.5 793,551.7 793.1,554.6 793.2,554.2 793.4,556.5 793.5,557.1 793.6,554.2 793.7,554.4 793.9,553.2 794,552.9 794.1,551.9 794.3,547.9 794.4,547.7 794.5,547.1 794.7,542.5 794.8,537.8 794.9,534 795.1,528.6 795.2,521.6 795.3,515.4 795.5,506.4 795.6,495.1 795.7,482.9 795.9,467.4 796,445.7 796.1,422.5 796.2,400 796.4,382.1 796.5,371.8 796.6,368.6 796.8,377.4 796.9,394.5 797,415.7 797.2,438.4 797.3,460.5 797.4,478.2 797.6,489.7 797.7,500.5 797.8,510.8 798,520.1 798.1,528.1 798.2,534 798.4,538.2 798.5,541.4 798.6,544.7 798.8,546.2 798.9,549.6 799,552.5 799.1,554.8 799.3,556.1 799.4,556.7 799.5,558.9 799.7,559.5 799.8,559.1 799.9,560.1 800.1,562.6 800.2,564.2 800.3,564.2 800.5,564.5 800.6,565.6 800.7,565.4 800.9,564.9 801,565.9 801.1,566.2 801.3,564.6 801.4,566.6 801.5,567.2 801.7,564.6 801.8,566.4 801.9,567.8 802,568.6 802.2,569.1 802.3,568.5 802.4,568.7 802.6,569.4 802.7,570.4 802.8,570.3 803,570.4 803.1,570.7 803.2,570.5 803.4,571 803.5,571.2 803.6,570.1 803.8,572 803.9,572.4 804,571.3 804.2,572.5 804.3,573.2 804.4,573.2 804.5,572.9 804.7,572.1 804.8,572.7 804.9,572.3 805.1,572.1 805.2,572.5 805.3,571.2 805.5,572.9 805.6,573 805.7,570.5 805.9,571.8 806,573.2 806.1,573.1 806.3,573.7 806.4,573.9 806.5,574.6 806.7,574.1 806.8,573.3 806.9,574.2 807.1,574 807.2,573.4 807.3,574.4 807.4,576.2 807.6,575.5 807.7,574.3 807.8,577.8 808,580.1 808.1,579.1 808.2,577.8 808.4,576.8 808.5,578.1 808.6,579.2 808.8,578.7 808.9,580.2 809,580.5 809.2,580 809.3,580.5 809.4,580.4 809.6,581.7 809.7,582.5 809.8,581.7 810,580.9 810.1,581.2 810.2,580.6 810.3,580.7 810.5,582.6 810.6,582.7 810.7,581.9 810.9,581.8 811,580.8 811.1,580.3 811.3,580.4 811.4,580.3 811.5,581.3 811.7,581 811.8,581 811.9,581.6 812.1,582.1 812.2,582.1 812.3,581.4 812.5,581.1 812.6,579.3 812.7,577.5 812.9,578 813,579.8 813.1,579.8 813.2,579.4 813.4,580.3 813.5,580.4 813.6,579.9 813.8,580.1 813.9,578.5 814,578.2 814.2,579.5 814.3,578.2 814.4,578 814.6,579.2 814.7,579 814.8,577.3 815,576 815.1,575.8 815.2,576 815.4,576.6 815.5,575.1 815.6,575.1 815.7,575.6 815.9,575 816,574.8 816.1,573.5 816.3,571.8 816.4,573.6 816.5,573.2 816.7,571.4 816.8,572.1 816.9,570.6 817.1,571.4 817.2,572.1 817.3,571.1 817.5,571.3 817.6,572.4 817.7,572.4 817.9,572 818,573.7 818.1,573.1 818.3,572.1 818.4,575.5 818.5,576.7 818.6,573.9 818.8,572.4 818.9,574 819,577 819.2,577.8 819.3,576 819.4,575.9 819.6,577.4 819.7,578.6 819.8,578 820,577.9 820.1,578.6 820.2,578.3 820.4,577.6 820.5,578.1 820.6,579.4 820.8,581.2 820.9,580.7 821,578.8 821.2,579.9 821.3,582.6 821.4,583.2 821.5,581.5 821.7,579.5 821.8,579.2 821.9,580.4 822.1,580.4 822.2,580 822.3,581.7 822.5,583.6 822.6,583.7 822.7,583.4 822.9,582.8 823,582.6 823.1,583.2 823.3,583.3 823.4,583.2 823.5,581.7 823.7,581.5 823.8,581.2 823.9,579.6 824.1,582.6 824.2,583.2 824.3,581.8 824.4,583.8 824.6,583.9 824.7,582.8 824.8,583 825,583.7 825.1,584.1 825.2,583.1 825.4,583.2 825.5,584.1 825.6,584.1 825.8,584.4 825.9,584.1 826,585.3 826.2,584.4 826.3,582.4 826.4,583.2 826.6,582.6 826.7,584 826.8,582.9 826.9,582.8 827.1,584.3 827.2,583.2 827.3,582.5 827.5,582.8 827.6,585 827.7,584.8 827.9,585.6 828,586.1 828.1,584.5 828.3,583.1 828.4,583 828.5,584.6 828.7,585 828.8,585.3 828.9,585.2 829.1,584 829.2,584.7 829.3,585.3 829.5,585.4 829.6,585.4 829.7,584.1 829.8,585 830,585.6 830.1,584.6 830.2,583.5 830.4,582.8 830.5,583.6 830.6,585.1 830.8,586.3 830.9,584.9 831,582.5 831.2,582.9 831.3,582.8 831.4,583.4 831.6,585 831.7,583.4 831.8,583.9 832,584.7 832.1,583.5 832.2,583.9 832.4,582.9 832.5,583.7 832.6,585.4 832.7,586.4 832.9,586.9 833,585.6 833.1,585.1 833.3,584.9 833.4,584.3 833.5,584.7 833.7,586.5 833.8,585.9 833.9,584 834.1,585 834.2,586 834.3,583.7 834.5,582.2 834.6,582.8 834.7,583.1 834.9,583.8 835,584.8 835.1,584.4 835.2,584.2 835.4,585 835.5,584.9 835.6,584.6 835.8,583.9 835.9,584.6 836,583.3 836.2,583.4 836.3,585.7 836.4,584.1 836.6,584.5 836.7,585.6 836.8,584.9 837,586.9 837.1,587.4 837.2,585.8 837.4,585.6 837.5,584.4 837.6,583.7 837.8,582.9 837.9,582.3 838,582.6 838.1,583.8 838.3,583.8 838.4,584.6 838.5,585.5 838.7,583.6 838.8,582.9 838.9,585.1 839.1,586.2 839.2,584.4 839.3,583.4 839.5,583.3 839.6,585.2 839.7,587.1 839.9,585.9 840,585.7 840.1,585.5 840.3,584.7 840.4,584.4 840.5,584.5 840.7,584.4 840.8,583.6 840.9,584 841,585.6 841.2,584.7 841.3,583.5 841.4,584.2 841.6,584.3 841.7,585.9 841.8,585.6 842,584.8 842.1,586.3 842.2,584.7 842.4,584 842.5,584.8 842.6,583.8 842.8,582.8 842.9,585 843,586.8 843.2,584.9 843.3,584.8 843.4,588 843.6,587.3 843.7,584.5 843.8,584 843.9,584 844.1,585 844.2,585 844.3,584.7 844.5,585.3 844.6,585.1 844.7,584.4 844.9,585.4 845,584.9 845.1,583.4 845.3,583.6 845.4,586.5 845.5,587 845.7,584.9 845.8,585.8 845.9,585.3 846.1,585.7 846.2,585.2 846.3,583.7 846.4,585.1 846.6,584.2 846.7,583.5 846.8,584.4 847,585.8 847.1,585.6 847.2,583.5 847.4,583 847.5,585.2 847.6,585 847.8,582.6 847.9,583.1 848,584.7 848.2,586.6 848.3,587 848.4,586.3 848.6,585.3 848.7,584.4 848.8,585.3 849,587 849.1,586.8 849.2,586.5 849.3,585.2 849.5,585.1 849.6,585.8 849.7,584.1 849.9,585.3 850,585.2 850.1,584.5 850.3,586 850.4,586.6 850.5,585.9 850.7,584.3 850.8,585.9 850.9,586.3 851.1,584.9 851.2,586 851.3,586 851.5,585.4 851.6,585.4 851.7,584.7 851.9,585.4 852,584.5 852.1,583 852.2,585.1 852.4,587.4 852.5,586.9 852.6,585.7 852.8,585.1 852.9,584.2 853,583.3 853.2,583.9 853.3,584.8 853.4,585.1 853.6,586 853.7,584.5 853.8,584.3 854,585.6 854.1,585.8 854.2,585.4 854.4,584.7 854.5,585 854.6,586.4 854.7,586.1 854.9,585.8 855,586.4 855.1,585.5 855.3,585.1 855.4,587.1 855.5,585.9 855.7,583.4 855.8,583.3 855.9,581.9 856.1,584.2 856.2,586.7 856.3,585.7 856.5,584.5 856.6,585.2 856.7,586.2 856.9,584.9 857,585.4 857.1,586.1 857.3,584.5 857.4,584.9 857.5,585.2 857.6,585.1 857.8,587 857.9,587.3 858,586.2 858.2,586.1 858.3,585.9 858.4,585.3 858.6,585.1 858.7,585.3 858.8,585.9 859,586.2 859.1,586.2 859.2,586.5 859.4,585.1 859.5,586.2 859.6,587.1 859.8,586.9 859.9,587.6 860,585.7 860.2,585.4 860.3,585 860.4,585.5 860.5,586.9 860.7,586.6 860.8,586.4 860.9,586.2 861.1,586.5 861.2,586.2 861.3,585 861.5,585 861.6,585.8 861.7,586.2 861.9,586.8 862,587.8 862.1,588.1 862.3,586.9 862.4,587.6 862.5,587.1 862.7,585.9 862.8,587.2 862.9,587.3 863.1,586.1 863.2,585.3 863.3,585.7 863.4,584.5 863.6,582.9 863.7,585.3 863.8,586.4 864,586 864.1,587.8 864.2,587.6 864.4,585.7 864.5,585.5 864.6,586.6 864.8,585.3 864.9,584.5 865,585.6 865.2,584.6 865.3,584.1 865.4,586.1 865.6,587.4 865.7,587.1 865.8,586.1 865.9,585 866.1,584.5 866.2,585.1 866.3,586.7 866.5,586.1 866.6,585.1 866.7,586.7 866.9,587.8 867,586.7 867.1,585.5 867.3,585 867.4,586.3 867.5,585.4 867.7,585.9 867.8,587.4 867.9,584.9 868.1,584.1 868.2,585.9 868.3,586.3 868.5,584.5 868.6,584.4 868.7,586.2 868.8,585.5 869,586 869.1,587.3 869.2,586.9 869.4,587.2 869.5,586.7 869.6,585.9 869.8,586.7 869.9,586.9 870,584.9 870.2,585 870.3,585.6 870.4,585.3 870.6,586.4 870.7,587 870.8,586.4 871,585.7 871.1,584.1 871.2,583.2 871.4,585.2 871.5,586.8 871.6,587.3 871.7,588.8 871.9,586.9 872,584.7 872.1,587.3 872.3,587.7 872.4,584.2 872.5,583.9 872.7,585.3 872.8,585.6 872.9,586.6 873.1,587.7 873.2,587.7 873.3,586.7 873.5,586.2 873.6,585.8 873.7,584.2 873.9,584.2 874,585 874.1,585.7 874.2,587.4 874.4,585.4 874.5,583.8 874.6,584.6 874.8,585.5 874.9,587.8 875,586.4 875.2,586.8 875.3,588 875.4,586.7 875.6,586.4 875.7,585.3 875.8,584.8 876,587.1 876.1,587 876.2,586.8 876.4,587.1 876.5,585.9 876.6,587.4 876.8,587.5 876.9,587.6 877,587.2 877.1,585.4 877.3,584.7 877.4,585.4 877.5,585.2 877.7,584.8 877.8,584 877.9,583.9 878.1,586.2 878.2,586.8 878.3,586.9 878.5,586.9 878.6,586.4 878.7,585.7 878.9,584.9 879,585.4 879.1,585.7 879.3,586.3 879.4,587.1 879.5,588.5 879.7,588.7 879.8,587.1 879.9,584.4 880,585.1 880.2,587.1 880.3,586.3 880.4,587.6 880.6,587.1 880.7,585.9 880.8,587.2 881,589.1 881.1,588 881.2,587.3 881.4,586.7 881.5,585.7 881.6,585.8 881.8,585.9 881.9,585 882,584.2 882.2,584.2 882.3,584.7 882.4,586.7 882.6,588 882.7,587.6 882.8,586.2 882.9,586.3 883.1,584.5 883.2,584 883.3,585.7 883.5,585.5 883.6,586.9 883.7,586.1 883.9,584.6 884,584.7 884.1,586 884.3,586.7 884.4,585.9 884.5,585 884.7,586.1 884.8,586.5 884.9,584.3 885.1,585.2 885.2,586.9 885.3,585.5 885.4,584.6 885.6,584.7 885.7,584.3 885.8,584.4 886,585.1 886.1,587.7 886.2,587.1 886.4,585.9 886.5,585.9 886.6,585.7 886.8,584.9 886.9,584.7 887,585.3 887.2,584.2 887.3,584.9 887.4,585.6 887.6,585.5 887.7,586.5 887.8,585.3 888,585.3 888.1,587.8 888.2,587.4 888.3,586.1 888.5,585.6 888.6,586 888.7,586.4 888.9,587.8 889,587 889.1,583.8 889.3,584.9 889.4,587.8 889.5,586.6 889.7,585.2 889.8,589.1 889.9,589.6 890.1,587.5 890.2,587.8 890.3,585 890.5,583.2 890.6,585 890.7,585.8 890.9,584.4 891,585.3 891.1,585.9 891.2,585.5 891.4,585.5 891.5,584.7 891.6,586 891.8,585.3 891.9,584.3 892,583.6 892.2,584.4 892.3,585.8 892.4,586 892.6,585.1 892.7,585.2 892.8,586.2 893,584.5 893.1,584 893.2,584.8 893.4,585 893.5,585 893.6,584.7 893.8,585.2 893.9,587.4 894,586 894.1,585.2 894.3,584.8 894.4,583.7 894.5,582.6 894.7,581.9 894.8,584.1 894.9,584.3 895.1,585.8 895.2,586.4 895.3,585.5 895.5,585.7 895.6,587.1 895.7,588.9 895.9,586.6 896,584.7 896.1,585.7 896.3,585.8 896.4,586 896.5,586.3 896.6,585.2 896.8,585 896.9,584.9 897,585.3 897.2,587.4 897.3,587.3 897.4,586 897.6,586.3 897.7,586.5 897.8,586 898,584.9 898.1,583.8 898.2,583.6 898.4,585 898.5,585.6 898.6,583.9 898.8,584 898.9,585.1 899,585.8 899.2,585.1 899.3,584.3 899.4,584.1 899.5,584.3 899.7,583.4 899.8,583.3 899.9,586 900.1,585.8 900.2,584.3 900.3,583.4 900.5,584.1 900.6,585.6 900.7,585.4 900.9,585.2 901,586.7 901.1,585.8 901.3,582.9 901.4,584.1 901.5,585.9 901.7,585.4 901.8,585.2 901.9,584.3 902.1,584.1 902.2,584.2 902.3,584.7 902.4,586.3 902.6,586.5 902.7,586.5 902.8,584.8 903,582.9 903.1,583 903.2,583.5 903.4,585.4 903.5,584.6 903.6,583.7 903.8,583.5 903.9,580.5 904,581.4 904.2,582.9 904.3,582.3 904.4,583.9 904.6,585.3 904.7,584.7 904.8,583.6 904.9,582.3 905.1,582.2 905.2,582 905.3,582.4 905.5,584.4 905.6,583.9 905.7,582.7 905.9,583.9 906,582.9 906.1,582.4 906.3,583.8 906.4,582.7 906.5,582.9 906.7,582.5 906.8,581.1 906.9,581.1 907.1,581.2 907.2,581.8 907.3,582.2 907.5,581.2 907.6,579.1 907.7,578.4 907.8,578.8 908,578.1 908.1,576.8 908.2,578.1 908.4,578.6 908.5,576 908.6,575.8 908.8,576.6 908.9,574.9 909,574.2 909.2,573.1 909.3,572.7 909.4,572.8 909.6,570.1 909.7,569.3 909.8,572.2 910,573.8 910.1,573.4 910.2,572.4 910.4,572.7 910.5,572 910.6,569.3 910.7,568.3 910.9,570.1 911,571.2 911.1,570.4 911.3,570.2 911.4,567.9 911.5,566.8 911.7,568 911.8,565.9 911.9,563.3 912.1,560.7 912.2,558.1 912.3,557.7 912.5,558.9 912.6,556.6 912.7,552.8 912.9,550.8 913,552.2 913.1,554.5 913.3,552.4 913.4,551.1 913.5,552.7 913.6,555.6 913.8,557.4 913.9,559.7 914,563.7 914.2,565.1 914.3,565.6 914.4,566.5 914.6,567.1 914.7,570.5 914.8,572.3 915,571.5 915.1,573.7 915.2,575.1 915.4,574.8 915.5,574.9 915.6,576.2 915.8,577.6 915.9,578.3 916,577.9 916.1,577.7 916.3,578.8 916.4,578.3 916.5,578.3 916.7,580 916.8,579.2 916.9,577.7 917.1,578.4 917.2,580.2 917.3,579.8 917.5,579.6 917.6,582.2 917.7,581.9 917.9,579.1 918,579.4 918.1,580.5 918.3,579.1 918.4,579.5 918.5,580.9 918.7,581.1 918.8,580.5 918.9,580.9 919,581.2 919.2,580.4 919.3,581 919.4,580.9 919.6,580.2 919.7,581 919.8,581.6 920,581.3 920.1,581.3 920.2,581.6 920.4,582.3 920.5,582 920.6,580.6 920.8,580.1 920.9,581.4 921,581.4 921.2,580.2 921.3,581.3 921.4,581.3 921.6,580.7 921.7,581.3 921.8,580.9 921.9,580.7 922.1,582.6 922.2,582.2 922.3,581.2 922.5,581.4 922.6,579.9 922.7,579.9 922.9,580.7 923,580.3 923.1,579.5 923.3,580.1 923.4,580.9 923.5,579.8 923.7,577.9 923.8,578.2 923.9,578.7 924.1,579.2 924.2,579.7 924.3,579 924.4,579.9 924.6,579.9 924.7,578.9 924.8,580.8 925,580.6 925.1,578.2 925.2,577.8 925.4,577.6 925.5,578.5 925.6,579.1 925.8,578.1 925.9,577.9 926,577.8 926.2,575.8 926.3,575.6 926.4,576.3 926.6,573.6 926.7,572.7 926.8,574 927,572.7 927.1,570.5 927.2,569.2 927.3,569 927.5,567.2 927.6,563.8 927.7,560.8 927.9,559.4 928,560.9 928.1,561.5 928.3,561.6 928.4,563.4 928.5,565.6 928.7,566 928.8,567.1 928.9,569 929.1,571.2 929.2,572.2 929.3,573.6 929.5,573.6 929.6,572.9 929.7,573.7 929.9,572.5 930,574.1 930.1,574.4 930.2,573.5 930.4,573.5 930.5,574 930.6,575.4 930.8,574 930.9,573.1 931,573.9 931.2,575 931.3,573.8 931.4,572.9 931.6,573.9 931.7,573.9 931.8,573.4 932,572 932.1,571.7 932.2,571.7 932.4,571.6 932.5,569.9 932.6,567.6 932.8,568.4 932.9,569.7 933,568.5 933.1,568.3 933.3,567.6 933.4,565.2 933.5,564.4 933.7,562.5 933.8,560.3 933.9,560.4 934.1,561.3 934.2,560.1 934.3,558.4 934.5,559.6 934.6,560.8 934.7,559.9 934.9,560.6 935,561.5 935.1,559.3 935.3,560 935.4,561.3 935.5,561.7 935.6,562.4 935.8,562.3 935.9,563.3 936,565.5 936.2,566.9 936.3,567.1 936.4,567.5 936.6,567.3 936.7,568.4 936.8,569.8 937,570.5 937.1,570.8 937.2,571.7 937.4,572.8 937.5,573.3 937.6,574.2 937.8,573.3 937.9,573.8 938,574 938.2,572.7 938.3,575.3 938.4,577.5 938.5,576.3 938.7,575.9 938.8,576 938.9,574.5 939.1,574.5 939.2,575.4 939.3,575.9 939.5,574.6 939.6,574.7 939.7,574.4 939.9,572.4 940,573.8 940.1,574.8 940.3,572.7 940.4,572.9 940.5,573.1 940.7,570.8 940.8,570.9 940.9,570.6 941.1,569.2 941.2,570.1 941.3,569.7 941.4,570.5 941.6,571.1 941.7,571.4 941.8,574.6 942,575.7 942.1,576.3 942.2,576.3 942.4,575.6 942.5,577.5 942.6,578.6 942.8,577.5 942.9,577.3 943,578.6 943.2,577.9 943.3,576.2 943.4,578.4 943.6,578.4 943.7,578.9 943.8,580.3 943.9,579.3 944.1,579.7 944.2,579.1 944.3,579.7 944.5,580 944.6,577.8 944.7,577.4 944.9,577.7 945,577.4 945.1,579.9 945.3,579.2 945.4,577.4 945.5,578.3 945.7,579.3 945.8,580.3 945.9,580.9 946.1,580.6 946.2,579.8 946.3,579.8 946.5,580.1 946.6,581.5 946.7,582.1 946.8,581.2 947,580.5 947.1,580.3 947.2,580.9 947.4,580.5 947.5,580.6 947.6,581 947.8,579.8 947.9,579.8 948,581.4 948.2,580.8 948.3,579.6 948.4,579.6 948.6,581.3 948.7,581.1 948.8,580.1 949,580.8 949.1,580.8 949.2,580.6 949.4,580.4 949.5,579.6 949.6,579.9 949.7,581.1 949.9,580.9 950,581 950.1,580.7 950.3,580.5 950.4,580.9 950.5,581.4 950.7,581.3 950.8,580.5 950.9,581.9 951.1,582.8 951.2,582.1 951.3,582.9 951.5,583.8 951.6,582.5 951.7,581.3 951.9,580.7 952,582.2 952.1,583.5 952.3,584.2 952.4,582.6 952.5,582.1 952.6,583.7 952.8,581.3 952.9,580 953,582.2 953.2,581.6 953.3,580.7 953.4,583.3 953.6,583.5 953.7,582.2 953.8,582 954,584.2 954.1,583.3 954.2,582.9 954.4,584.6 954.5,582.3 954.6,581.9 954.8,583 954.9,583.8 955,583.4 955.1,581.9 955.3,582.8 955.4,583.6 955.5,583.5 955.7,584.2 955.8,585.5 955.9,585.1 956.1,582.8 956.2,583.1 956.3,583.1 956.5,582.9 956.6,582.8 956.7,582.8 956.9,584.1 957,584.6 957.1,584.3 957.3,583.8 957.4,584.5 957.5,584.9 957.7,585.4 957.8,586.3 957.9,584.8 958,583.6 958.2,583.4 958.3,583.7 958.4,584.2 958.6,582.9 958.7,583.8 958.8,585.1 959,583.3 959.1,582 959.2,582.8 959.4,584.5 959.5,585.8 959.6,585.9 959.8,585 959.9,584.9 960,584.7 960.2,584.3 960.3,585.1 960.4,586.3 960.6,586.2 960.7,585.3 960.8,583.8 960.9,585.5 961.1,586 961.2,585 961.3,585 961.5,583.4 961.6,583.9 961.7,586.3 961.9,587 962,585.9 962.1,585.9 962.3,586.3 962.4,586.7 962.5,586.8 962.7,586.8 962.8,586 962.9,585.3 963.1,585.5 963.2,587 963.3,587.9 963.5,587.3 963.6,587.3 963.7,587.4 963.8,587.7 964,585.9 964.1,585.6 964.2,587.8 964.4,587.8 964.5,585.2 964.6,584.5 964.8,586.9 964.9,587.7 965,587.1 965.2,586.9 965.3,588.3 965.4,589 965.6,587.8 965.7,588.4 965.8,588.4 966,587.1 966.1,586.4 966.2,585.7 966.3,586.4 966.5,587.1 966.6,586.4 966.7,585.9 966.9,586.3 967,587.7 967.1,587.3 967.3,586.1 967.4,586.4 967.5,586.7 967.7,585.6 967.8,586.4 967.9,588.1 968.1,588.6 968.2,587.8 968.3,586.2 968.5,586.9 968.6,586.2 968.7,586.3 968.9,587.4 969,587.1 969.1,586.2 969.2,586.6 969.4,586.3 969.5,586 969.6,588.2 969.8,588.5 969.9,587.5 970,585.8 970.2,586 970.3,587.2 970.4,585.2 970.6,585.1 970.7,587.1 970.8,587.7 971,588.4 971.1,587.5 971.2,585.3 971.4,585.8 971.5,587.5 971.6,587 971.8,586.1 971.9,586.4 972,586 972.1,585.8 972.3,586.4 972.4,585.6 972.5,586.7 972.7,588.3 972.8,587 972.9,587.1 973.1,585.7 973.2,586.3 973.3,586.9 973.5,584.7 973.6,584.9 973.7,584.9 973.9,585.5 974,586.3 974.1,584.7 974.3,584.1 974.4,586.2 974.5,586.8 974.6,586.7 974.8,585.3 974.9,582.9 975,583 975.2,583.3 975.3,582.9 975.4,581.7 975.6,579.8 975.7,578.7 975.8,576.8 976,577.2 976.1,576.8 976.2,576.2 976.4,576.1 976.5,574.9 976.6,575.9 976.8,577.1 976.9,578.9 977,581 977.2,581.2 977.3,581.9 977.4,582.5 977.5,583.1 977.7,583.7 977.8,583.1 977.9,584.2 978.1,584.8 978.2,583.6 978.3,583.4 978.5,583.8 978.6,584.3 978.7,584.7 978.9,585.4 979,586.1 979.1,584 979.3,583 979.4,583.9 979.5,584.2 979.7,585.2 979.8,584.9 979.9,584.8 980.1,585.6 980.2,584 980.3,583.9 980.4,584.7 980.6,584 980.7,583.4 980.8,582 981,583.1 981.1,584.1 981.2,581.9 981.4,581.5 981.5,581.5 981.6,580.9 981.8,579.7 981.9,577.2 982,574.2 982.2,572.2 982.3,569.5 982.4,567.2 982.6,567.7 982.7,566.9 982.8,568.5 983,571.4 983.1,572.4 983.2,575.5 983.3,577.6 983.5,578.6 983.6,579.5 983.7,580.2 983.9,580.5 984,581.1 984.1,581.5 984.3,581.5 984.4,582 984.5,582.1 984.7,582.8 984.8,582.1 984.9,581.4 985.1,584 985.2,585.3 985.3,582.3 985.5,581.6 985.6,580.7 985.7,580 985.8,581.7 986,582.2 986.1,582.6 986.2,581.9 986.4,580.9 986.5,580.7 986.6,581.1 986.8,581.6 986.9,581.6 987,580.7 987.2,580 987.3,579.6 987.4,579.6 987.6,578.5 987.7,578.6 987.8,578.3 988,575.6 988.1,572.5 988.2,570.2 988.4,568.6 988.5,564.1 988.6,558.8 988.7,552.4 988.9,544.8 989,536.3 989.1,523.9 989.3,507.7 989.4,492.8 989.5,485.9 989.7,487.7 989.8,498.7 989.9,512.1 990.1,524.1 990.2,536 990.3,544.5 990.5,550.2 990.6,554.6 990.7,557.6 990.9,559.4 991,558.2 991.1,557.5 991.3,558 991.4,556 991.5,555.3 991.6,556.6 991.8,560.5 991.9,565 992,567.6 992.2,571.3 992.3,572.9 992.4,574.6 992.6,576.9 992.7,576.2 992.8,576.5 993,578.4 993.1,579 993.2,578.5 993.4,580.9 993.5,582.4 993.6,581 993.8,580.8 993.9,581.7 994,582.3 994.1,580.6 994.3,581 994.4,582.1 994.5,582.8 994.7,583.3 994.8,581.8 994.9,582.6 995.1,583.9 995.2,582.2 995.3,582 995.5,582.6 995.6,583.6 995.7,583.1 995.9,583.5 996,585.5 996.1,584.5 996.3,583.8 996.4,583.2 996.5,582 996.7,580.6 996.8,580.4 996.9,581.3 997,582.5 997.2,584.7 997.3,584.9 997.4,583.7 997.6,583.2 997.7,583.5 997.8,584.6 998,584.3 998.1,583.2 998.2,582.5 998.4,583.7 998.5,585.1 998.6,584.7 998.8,583.9 998.9,583.8 999,583.2 999.2,582.2 999.3,581.6 999.4,582.6 999.6,583.7 999.7,582 999.8,581.5 999.9,581.9 1000.1,581.4 1000.2,581.5 1000.3,580.3 1000.5,580.5 1000.6,580.7 1000.7,579.9 1000.9,580.6 1001,581.2 1001.1,581.2 1001.3,579.8 1001.4,578.4 1001.5,579.7 1001.7,579.9 1001.8,580.4 1001.9,580.4 1002.1,577.3 1002.2,578 1002.3,579.1 1002.5,578.5 1002.6,578.5 1002.7,578.6 1002.8,578.4 1003,579.2 1003.1,579.3 1003.2,577.6 1003.4,577.3 1003.5,575.3 1003.6,575.9 1003.8,577.7 1003.9,577.6 1004,576.4 1004.2,575 1004.3,576 1004.4,574.9 1004.6,573.4 1004.7,572.6 1004.8,571.8 1005,572.3 1005.1,572.8 1005.2,573.9 1005.3,573.1 1005.5,569.9 1005.6,568.8 1005.7,569.3 1005.9,567.9 1006,565.6 1006.1,562.4 1006.3,562.2 1006.4,563 1006.5,561.2 1006.7,559.4 1006.8,555.5 1006.9,552.2 1007.1,550.9 1007.2,546.1 1007.3,539.5 1007.5,535 1007.6,531.4 1007.7,526.3 1007.9,517 1008,508.3 1008.1,500 1008.2,489.7 1008.4,476.5 1008.5,464.5 1008.6,455.7 1008.8,447.6 1008.9,443.1 1009,442.7 1009.2,444.9 1009.3,451.8 1009.4,461.4 1009.6,473.1 1009.7,485.3 1009.8,494.6 1010,505.9 1010.1,515.5 1010.2,523 1010.4,531 1010.5,536.9 1010.6,542.7 1010.8,547 1010.9,550.7 1011,553.3 1011.1,553.9 1011.3,555.9 1011.4,559.9 1011.5,563 1011.7,562.7 1011.8,563.2 1011.9,565.6 1012.1,569.5 1012.2,571.3 1012.3,569 1012.5,569.3 1012.6,572.2 1012.7,573.3 1012.9,571.8 1013,571.5 1013.1,574.9 1013.3,577.4 1013.4,576.9 1013.5,575.5 1013.6,576.5 1013.8,578.4 1013.9,580.2 1014,580.6 1014.2,578.5 1014.3,577.9 1014.4,579.8 1014.6,580 1014.7,579.8 1014.8,581.8 1015,581.1 1015.1,581.5 1015.2,582.5 1015.4,582.2 1015.5,582.2 1015.6,581.6 1015.8,582 1015.9,583.1 1016,583.3 1016.2,584.7 1016.3,584.6 1016.4,581.4 1016.5,581.2 1016.7,582 1016.8,582.5"/>
<rect class="fr" x="744.6" y="341.5" width="272.3" height="262.1"/>
<path class="tk" d="M788.5 603.6v-5M832.4 603.6v-5M876.4 603.6v-5M920.3 603.6v-5M964.2 603.6v-5M1008.1 603.6v-5M744.6 566.2h5M744.6 528.7h5M744.6 491.3h5M744.6 453.8h5M744.6 416.4h5M744.6 378.9h5"/>
<text x="744.6" y="616.5" font-size="10.2" text-anchor="middle">3500</text>
<text x="788.5" y="616.5" font-size="10.2" text-anchor="middle">3000</text>
<text x="832.4" y="616.5" font-size="10.2" text-anchor="middle">2500</text>
<text x="876.4" y="616.5" font-size="10.2" text-anchor="middle">2000</text>
<text x="920.3" y="616.5" font-size="10.2" text-anchor="middle">1500</text>
<text x="964.2" y="616.5" font-size="10.2" text-anchor="middle">1000</text>
<text x="1008.1" y="616.5" font-size="10.2" text-anchor="middle">500</text>
<text x="736.8" y="568.6" font-size="10.2" text-anchor="end">200</text>
<text x="736.8" y="531.2" font-size="10.2" text-anchor="end">400</text>
<text x="736.8" y="493.7" font-size="10.2" text-anchor="end">600</text>
<text x="736.8" y="456.3" font-size="10.2" text-anchor="end">800</text>
<text x="736.8" y="418.8" font-size="10.2" text-anchor="end">1000</text>
<text x="736.8" y="381.4" font-size="10.2" text-anchor="end">1200</text>
<text x="736.8" y="606.1" font-size="10.2" text-anchor="end">0</text>
<text x="736.8" y="344" font-size="10.2" text-anchor="end">1400</text>
<text x="880.9" y="636.2" font-size="10.4" text-anchor="middle">Raman shift (cm<tspan font-size="5.8" dy="-5.2">-1</tspan><tspan dy="5.2">)</tspan></text>
<text transform="translate(708.2 475.5) rotate(-90)" font-size="10.3" text-anchor="middle">Raman intensity (a.u)</text>
</g>
<g id="panel-e">
<polyline class="cv" stroke-width="1.85" points="67,891.4 67.1,894.6 67.2,896.5 67.3,897.8 67.4,897.9 67.5,900.2 67.6,901.7 67.6,902.3 67.7,900.2 67.8,898.9 67.9,901.1 68,903.5 68.1,903.1 68.1,899.3 68.2,901.4 68.3,904.4 68.4,901.9 68.5,903.6 68.6,902.8 68.7,902.6 68.7,902.9 68.8,901 68.9,901.9 69,902.7 69.1,901.2 69.2,900.5 69.3,904.3 69.3,902.2 69.4,903.3 69.5,902.1 69.6,903.8 69.7,901.8 69.8,901.8 69.9,902.2 69.9,903.4 70,902.4 70.1,903.4 70.2,903.8 70.3,901.4 70.4,903.4 70.4,899.9 70.5,900.6 70.6,904.8 70.7,901.3 70.8,903.4 70.9,901.6 71,901.6 71,904.7 71.1,902 71.2,902.1 71.3,900.2 71.4,903.5 71.5,900.5 71.6,903.3 71.6,902.1 71.7,902.9 71.8,899.4 71.9,900.7 72,897.9 72.1,900.6 72.2,900.3 72.2,900.3 72.3,902.5 72.4,901.7 72.5,899.5 72.6,902.1 72.7,901.2 72.7,901.5 72.8,900.6 72.9,902.1 73,901.7 73.1,901.1 73.2,901.3 73.3,902.8 73.3,900.1 73.4,903.4 73.5,903.3 73.6,903.4 73.7,899.9 73.8,902 73.9,902.9 73.9,903.1 74,900.7 74.1,903 74.2,903.3 74.3,900.4 74.4,903.2 74.5,901.8 74.5,901.3 74.6,902 74.7,901.4 74.8,899.2 74.9,902.1 75,903.2 75,904.1 75.1,901.6 75.2,901.8 75.3,900.8 75.4,901.9 75.5,902 75.6,902.3 75.6,902 75.7,900.9 75.8,901.8 75.9,901 76,898.2 76.1,900.4 76.2,903.6 76.2,898.5 76.3,900.6 76.4,902.6 76.5,899.7 76.6,901.1 76.7,902 76.8,902 76.8,902.6 76.9,901 77,899.4 77.1,901.5 77.2,900.4 77.3,898.1 77.3,902.9 77.4,900.6 77.5,901.4 77.6,902.6 77.7,902.5 77.8,901 77.9,900.3 77.9,901.7 78,900.8 78.1,899.8 78.2,900.4 78.3,899.5 78.4,900.1 78.5,900.1 78.5,898 78.6,899.8 78.7,900.5 78.8,899.6 78.9,902.1 79,901.1 79,899.4 79.1,899.6 79.2,898.1 79.3,900.4 79.4,902.5 79.5,897.2 79.6,898.3 79.6,901.4 79.7,897.4 79.8,899 79.9,901.2 80,898.1 80.1,897 80.2,892.4 80.2,895.3 80.3,895.2 80.4,896.6 80.5,898 80.6,899.7 80.7,898.6 80.8,897.7 80.8,898.7 80.9,901.3 81,901.8 81.1,899.9 81.2,901.3 81.3,901.2 81.3,902.9 81.4,897.3 81.5,898.9 81.6,901.9 81.7,899 81.8,898.3 81.9,904.1 81.9,901.3 82,901 82.1,899.4 82.2,900.6 82.3,900.8 82.4,900.5 82.5,897.6 82.5,897.1 82.6,901.2 82.7,901.8 82.8,896.3 82.9,901.9 83,901.3 83.1,900.3 83.1,899.6 83.2,898.8 83.3,899.8 83.4,901.7 83.5,899.6 83.6,900 83.6,897.5 83.7,900.3 83.8,902.4 83.9,901.9 84,898.1 84.1,901.1 84.2,903.5 84.2,901.2 84.3,900.3 84.4,898.4 84.5,901.8 84.6,899.2 84.7,899 84.8,901.3 84.8,900.5 84.9,897.5 85,897.5 85.1,898.9 85.2,899.7 85.3,898.4 85.4,900.4 85.4,900.3 85.5,901.4 85.6,900.1 85.7,900.2 85.8,895.8 85.9,900.4 85.9,898.1 86,898 86.1,900.3 86.2,898.2 86.3,903.4 86.4,899.9 86.5,898.7 86.5,903.7 86.6,901.8 86.7,898.3 86.8,900.3 86.9,901.6 87,900.5 87.1,900.7 87.1,898.8 87.2,899.2 87.3,900.3 87.4,900.9 87.5,899.9 87.6,897.8 87.7,899.3 87.7,898.8 87.8,900 87.9,901.8 88,900.9 88.1,898.8 88.2,899.6 88.2,901.1 88.3,902.2 88.4,899.5 88.5,900.2 88.6,900.2 88.7,900.2 88.8,899.2 88.8,899.2 88.9,898.1 89,898.2 89.1,897.6 89.2,898.3 89.3,900.1 89.4,899.6 89.4,898.8 89.5,900 89.6,898.7 89.7,897.7 89.8,900.7 89.9,902.2 90,897.6 90,899.4 90.1,898.3 90.2,901.4 90.3,896.7 90.4,898.2 90.5,899.5 90.5,899.9 90.6,899.1 90.7,899.6 90.8,899.7 90.9,901 91,897.3 91.1,899.3 91.1,899.1 91.2,899.1 91.3,902.8 91.4,898.4 91.5,899.6 91.6,899.6 91.7,899 91.7,900.6 91.8,897.8 91.9,900.1 92,900.4 92.1,900.3 92.2,898.8 92.2,897.8 92.3,899.9 92.4,901.3 92.5,897.3 92.6,900.5 92.7,897 92.8,898.9 92.8,899.9 92.9,899.8 93,898.1 93.1,897.4 93.2,899 93.3,897.3 93.4,895.5 93.4,899 93.5,900.4 93.6,900.2 93.7,900.7 93.8,899.5 93.9,899.7 94,900.5 94,897.7 94.1,902.5 94.2,900.5 94.3,895.3 94.4,896.8 94.5,897.5 94.5,897.6 94.6,895.6 94.7,897.4 94.8,898.1 94.9,900.1 95,898.3 95.1,899.3 95.1,899.2 95.2,899.2 95.3,898.1 95.4,898.5 95.5,896.6 95.6,900 95.7,898.2 95.7,895 95.8,897.8 95.9,896 96,896 96.1,895.7 96.2,896.6 96.3,899.8 96.3,898 96.4,898.2 96.5,899.9 96.6,898.2 96.7,899.4 96.8,900 96.8,897 96.9,897.4 97,898.3 97.1,898.7 97.2,898 97.3,897.7 97.4,897.7 97.4,897.1 97.5,897.7 97.6,896.4 97.7,896.1 97.8,896.3 97.9,897.8 98,897.7 98,896 98.1,896.9 98.2,896.6 98.3,900.3 98.4,900.6 98.5,895.9 98.6,895.8 98.6,894.1 98.7,895.1 98.8,895.8 98.9,896 99,898.1 99.1,894.5 99.1,896.7 99.2,894.9 99.3,895.3 99.4,895.1 99.5,894.1 99.6,896.1 99.7,895.8 99.7,896.5 99.8,895.6 99.9,892.4 100,895.4 100.1,892.9 100.2,893.3 100.3,893.3 100.3,893 100.4,895.7 100.5,893.4 100.6,891.4 100.7,894.7 100.8,893.5 100.9,894.3 100.9,892.5 101,894.4 101.1,890 101.2,892.8 101.3,894.3 101.4,888.9 101.4,889.8 101.5,890.1 101.6,889.7 101.7,890.6 101.8,889.9 101.9,887.9 102,887 102,886.3 102.1,886.7 102.2,886.9 102.3,885.5 102.4,882.5 102.5,880.7 102.6,882.1 102.6,880.7 102.7,876.3 102.8,875 102.9,872.6 103,872.9 103.1,868.3 103.2,865 103.2,859.9 103.3,858.6 103.4,849.7 103.5,847.1 103.6,843.4 103.7,843.5 103.7,840.8 103.8,839.3 103.9,845.9 104,846.2 104.1,849.3 104.2,855.5 104.3,857.1 104.3,862.5 104.4,863.3 104.5,867.2 104.6,870.1 104.7,869.4 104.8,872.9 104.9,873.6 104.9,878.7 105,878.8 105.1,877.3 105.2,877.8 105.3,879.8 105.4,878.9 105.4,882 105.5,880.1 105.6,882.3 105.7,879.9 105.8,881.1 105.9,881.1 106,879.7 106,876.6 106.1,880.5 106.2,879.3 106.3,876 106.4,877.5 106.5,873.3 106.6,874.6 106.6,873.6 106.7,871.9 106.8,868.2 106.9,868.1 107,866.3 107.1,864.4 107.2,864.6 107.2,860.5 107.3,853.4 107.4,850.5 107.5,846.4 107.6,840.9 107.7,836.7 107.7,828.4 107.8,822.5 107.9,811.9 108,804 108.1,793.3 108.2,782.2 108.3,774 108.3,764.7 108.4,759.9 108.5,758.2 108.6,758.5 108.7,767.9 108.8,775.9 108.9,781.8 108.9,791.4 109,799.7 109.1,811.1 109.2,819.7 109.3,830.1 109.4,834.5 109.5,840.7 109.5,848.6 109.6,852.9 109.7,855.7 109.8,858.5 109.9,866.5 110,864.5 110,866.6 110.1,869.3 110.2,870.4 110.3,871.7 110.4,875.4 110.5,874.5 110.6,876.6 110.6,878.7 110.7,877.8 110.8,876.7 110.9,882 111,882.9 111.1,883.5 111.2,878.5 111.2,882.5 111.3,882.6 111.4,884.2 111.5,884.8 111.6,886.8 111.7,883.8 111.8,884 111.8,887.7 111.9,886.5 112,886.3 112.1,885.4 112.2,885.2 112.3,884.1 112.3,883.9 112.4,884.5 112.5,884.3 112.6,888.3 112.7,887.5 112.8,885 112.9,886.5 112.9,887 113,890.2 113.1,890.1 113.2,886.2 113.3,886.9 113.4,888 113.5,888.3 113.5,890.4 113.6,887.2 113.7,886.3 113.8,885.4 113.9,888 114,888.4 114.1,889.9 114.1,886.4 114.2,885.7 114.3,889.3 114.4,888 114.5,888.4 114.6,889.5 114.6,892.5 114.7,889.3 114.8,887.8 114.9,891 115,890.2 115.1,894 115.2,887 115.2,888.3 115.3,889 115.4,889.6 115.5,890.2 115.6,889.4 115.7,889.8 115.8,889.7 115.8,889.5 115.9,889.3 116,887.1 116.1,891.8 116.2,889.2 116.3,890.6 116.4,891.4 116.4,893.3 116.5,888.8 116.6,891.3 116.7,891 116.8,889.2 116.9,891.6 116.9,889.9 117,890.1 117.1,888.8 117.2,888.5 117.3,891.4 117.4,888.7 117.5,890.2 117.5,889.9 117.6,890.5 117.7,889 117.8,892 117.9,889.8 118,888.4 118.1,890.6 118.1,887.1 118.2,891.3 118.3,889.9 118.4,890.9 118.5,891.2 118.6,891.9 118.6,891 118.7,890.3 118.8,891.4 118.9,888.8 119,887.8 119.1,892.4 119.2,888.8 119.2,889.7 119.3,889.6 119.4,886.2 119.5,888.1 119.6,889.3 119.7,889.5 119.8,893.1 119.8,888.5 119.9,890.8 120,889.3 120.1,889.4 120.2,888 120.3,886.3 120.4,887.8 120.4,887.3 120.5,889.5 120.6,888.4 120.7,887.8 120.8,891.1 120.9,885.7 120.9,889.9 121,890.6 121.1,886.1 121.2,885.2 121.3,889.4 121.4,889.2 121.5,883.3 121.5,887.8 121.6,890.9 121.7,888.7 121.8,884.5 121.9,886.4 122,886.1 122.1,885.2 122.1,885.9 122.2,887.3 122.3,889 122.4,885.7 122.5,887.9 122.6,886.1 122.7,883.1 122.7,884.7 122.8,885.2 122.9,884.9 123,883.6 123.1,883 123.2,886.2 123.2,883.6 123.3,880.9 123.4,882 123.5,884 123.6,883.4 123.7,885.2 123.8,882.8 123.8,878.6 123.9,880.7 124,881.4 124.1,880.4 124.2,879.2 124.3,878.5 124.4,878.3 124.4,878.2 124.5,875.4 124.6,873.2 124.7,875.6 124.8,874.7 124.9,871.2 125,874.3 125,871.9 125.1,870.5 125.2,868.5 125.3,867.9 125.4,867.5 125.5,864.3 125.5,865.2 125.6,864.5 125.7,863.3 125.8,857.3 125.9,859.3 126,854 126.1,851.7 126.1,849.5 126.2,848.9 126.3,847.3 126.4,844.1 126.5,843 126.6,841.8 126.7,835.8 126.7,837 126.8,830.8 126.9,831 127,830.8 127.1,827.9 127.2,825.5 127.3,828.6 127.3,827.3 127.4,827.1 127.5,825.3 127.6,825.2 127.7,826.4 127.8,828.4 127.8,829.3 127.9,828 128,829.6 128.1,832.7 128.2,836.7 128.3,835.5 128.4,837.8 128.4,839.7 128.5,839.2 128.6,842.3 128.7,846.7 128.8,848.3 128.9,846.2 129,849.4 129,849.6 129.1,852.3 129.2,854.7 129.3,853.8 129.4,852.7 129.5,855.4 129.6,858.4 129.6,857.8 129.7,858.7 129.8,858.2 129.9,857.4 130,856.4 130.1,859.4 130.1,860.7 130.2,860.3 130.3,860.6 130.4,861.5 130.5,861.1 130.6,861.3 130.7,863.3 130.7,860.9 130.8,862.5 130.9,863.7 131,861.6 131.1,863.4 131.2,860.2 131.3,862.4 131.3,863.3 131.4,864.9 131.5,864.7 131.6,863.2 131.7,865.9 131.8,864.1 131.8,869 131.9,865.9 132,865.5 132.1,866.8 132.2,867.8 132.3,866.9 132.4,870.3 132.4,871.2 132.5,870.1 132.6,869.1 132.7,871 132.8,872.6 132.9,872.6 133,873 133,876.3 133.1,879.5 133.2,877.4 133.3,878.9 133.4,878.2 133.5,879.8 133.6,880 133.6,878.7 133.7,879.9 133.8,880.7 133.9,878.7 134,882.6 134.1,883.1 134.1,881.1 134.2,885.3 134.3,886.7 134.4,882.7 134.5,884.6 134.6,884.7 134.7,885.1 134.7,885.1 134.8,887.6 134.9,887.4 135,889.3 135.1,887.8 135.2,887.9 135.3,889.3 135.3,887.8 135.4,884.6 135.5,891.1 135.6,888.3 135.7,888.4 135.8,888.4 135.9,891.4 135.9,888.5 136,889.5 136.1,890.9 136.2,891.3 136.3,890.5 136.4,889.6 136.4,889.8 136.5,887.7 136.6,891.9 136.7,890.4 136.8,892.1 136.9,890.4 137,891.4 137,892.6 137.1,893.8 137.2,893 137.3,891.5 137.4,889.6 137.5,890.8 137.6,893.8 137.6,892.8 137.7,892 137.8,892.3 137.9,892.1 138,891.1 138.1,892 138.2,893.4 138.2,895.4 138.3,893 138.4,895.1 138.5,892.8 138.6,892.1 138.7,894.7 138.7,892.9 138.8,893.2 138.9,889.8 139,892.1 139.1,895.7 139.2,892.2 139.3,892.2 139.3,893.2 139.4,893.5 139.5,892 139.6,892 139.7,892.3 139.8,894.5 139.9,893.4 139.9,895.5 140,895.4 140.1,894 140.2,894.8 140.3,893.8 140.4,889.4 140.5,892.4 140.5,894.6 140.6,896.6 140.7,894.6 140.8,895.5 140.9,896.7 141,892.2 141,894.1 141.1,892.7 141.2,888.6 141.3,893 141.4,893.2 141.5,892.9 141.6,893.8 141.6,894.7 141.7,893.8 141.8,891.7 141.9,893.9 142,895.6 142.1,895.4 142.2,895.1 142.2,893.5 142.3,892.8 142.4,892.8 142.5,891.7 142.6,893.8 142.7,892.2 142.8,893 142.8,892.4 142.9,896.4 143,891.6 143.1,895.9 143.2,895.3 143.3,892.3 143.3,894.1 143.4,890.8 143.5,893.3 143.6,895.1 143.7,893.3 143.8,894.1 143.9,891.1 143.9,890.9 144,892.3 144.1,894 144.2,893.3 144.3,891.8 144.4,894.6 144.5,894.5 144.5,892 144.6,892.1 144.7,893.6 144.8,893.6 144.9,896.2 145,891.3 145,893.3 145.1,895.3 145.2,894.8 145.3,894.4 145.4,890.4 145.5,891.9 145.6,895 145.6,890 145.7,890.8 145.8,894.4 145.9,896.8 146,891.3 146.1,893.6 146.2,892.9 146.2,893.4 146.3,890.7 146.4,890.3 146.5,891.3 146.6,892.8 146.7,892.1 146.8,891.5 146.8,894.9 146.9,890.6 147,892.9 147.1,892 147.2,892.2 147.3,891 147.3,890.8 147.4,889 147.5,893 147.6,893.8 147.7,892.2 147.8,893.5 147.9,891.2 147.9,893.8 148,892.4 148.1,891.2 148.2,891.1 148.3,892.4 148.4,890.7 148.5,890.9 148.5,895.6 148.6,892.5 148.7,892.9 148.8,893.7 148.9,894.4 149,893.4 149.1,893 149.1,893.3 149.2,891.7 149.3,892.4 149.4,895 149.5,895.3 149.6,893 149.6,895.5 149.7,894.3 149.8,893.9 149.9,893.2 150,894.1 150.1,892.8 150.2,895.8 150.2,894.2 150.3,896.3 150.4,895.2 150.5,895.4 150.6,897.1 150.7,899.7 150.8,894.4 150.8,895.4 150.9,895.8 151,897.2 151.1,896.7 151.2,895.5 151.3,896.3 151.4,894.6 151.4,896.2 151.5,897.7 151.6,895.5 151.7,897.4 151.8,896.2 151.9,899.3 151.9,897 152,895.7 152.1,897.5 152.2,896.6 152.3,895.6 152.4,896.4 152.5,893.8 152.5,897 152.6,896.9 152.7,896.8 152.8,899.6 152.9,899 153,895.8 153.1,897.1 153.1,894.5 153.2,896.7 153.3,896.9 153.4,895.1 153.5,896.2 153.6,894.2 153.7,898.3 153.7,896 153.8,895.6 153.9,895.8 154,894.9 154.1,895.1 154.2,896.6 154.2,897.5 154.3,895.2 154.4,896.6 154.5,895.2 154.6,894.6 154.7,896.4 154.8,898.1 154.8,897.1 154.9,895.5 155,897.1 155.1,894.9 155.2,896.6 155.3,896.5 155.4,897.6 155.4,896.8 155.5,895 155.6,897.2 155.7,897.2 155.8,897.9 155.9,895.5 156,899.1 156,897.8 156.1,895.4 156.2,894.6 156.3,897.1 156.4,895.3 156.5,899.8 156.5,895.6 156.6,896.4 156.7,898.7 156.8,899.6 156.9,897.6 157,896.4 157.1,896.3 157.1,896.7 157.2,895.7 157.3,895.8 157.4,899 157.5,897.5 157.6,897.7 157.7,895.3 157.7,897.6 157.8,895.4 157.9,896.8 158,893.3 158.1,897 158.2,896.9 158.2,897.1 158.3,896.7 158.4,893.2 158.5,897.7 158.6,898.3 158.7,897.3 158.8,895.9 158.8,898.5 158.9,895.7 159,895.8 159.1,897.2 159.2,897.4 159.3,898.2 159.4,897.4 159.4,898.2 159.5,895.1 159.6,894.5 159.7,897.5 159.8,897.1 159.9,899.9 160,897.8 160,896.5 160.1,896.6 160.2,896.9 160.3,895.8 160.4,896.9 160.5,897.7 160.5,894.6 160.6,900 160.7,898.9 160.8,898.2 160.9,898.2 161,898.3 161.1,897.5 161.1,898.2 161.2,897.2 161.3,896.2 161.4,897.1 161.5,896.9 161.6,898.6 161.7,898.9 161.7,897.6 161.8,895.7 161.9,896.6 162,895.5 162.1,895.7 162.2,895.5 162.3,898.4 162.3,895.3 162.4,896 162.5,894 162.6,896.3 162.7,896.7 162.8,897.4 162.8,897 162.9,899.7 163,897.6 163.1,897.3 163.2,895.7 163.3,898.2 163.4,897 163.4,894.4 163.5,898 163.6,895.9 163.7,898.1 163.8,897.4 163.9,896.5 164,895.9 164,898 164.1,898.8 164.2,894.9 164.3,897 164.4,896.1 164.5,895.9 164.6,896.1 164.6,897.7 164.7,897.5 164.8,899.6 164.9,897 165,898 165.1,897.3 165.1,894.4 165.2,896.2 165.3,897.2 165.4,899.4 165.5,896.2 165.6,895 165.7,898.6 165.7,896.7 165.8,898.1 165.9,897.5 166,897.9 166.1,899.8 166.2,898.1 166.3,899.8 166.3,895.2 166.4,895.8 166.5,897.3 166.6,896.9 166.7,897.2 166.8,897 166.9,897 166.9,897.7 167,897.6 167.1,899.4 167.2,898.9 167.3,898.3 167.4,897 167.4,897.9 167.5,894.5 167.6,897.6 167.7,897.9 167.8,896.7 167.9,895.8 168,894.6 168,895.9 168.1,898.3 168.2,897.6 168.3,895.8 168.4,897 168.5,896.2 168.6,897.5 168.6,895 168.7,895.2 168.8,895.7 168.9,897.1 169,899.8 169.1,899.4 169.2,896.9 169.2,896.4 169.3,901.8 169.4,898.1 169.5,895.7 169.6,896 169.7,898.1 169.7,896.4 169.8,897.3 169.9,897.7 170,895.7 170.1,895.7 170.2,898.2 170.3,898.8 170.3,899.4 170.4,899.5 170.5,895.4 170.6,894.6 170.7,897.1 170.8,895.8 170.9,898.4 170.9,897.5 171,896 171.1,896.9 171.2,897.5 171.3,899.9 171.4,899.6 171.4,898 171.5,898.2 171.6,897.5 171.7,898.4 171.8,897.7 171.9,897.3 172,896.6 172,897.3 172.1,898.2 172.2,897.8 172.3,896.1 172.4,897.7 172.5,898.9 172.6,898.9 172.6,897 172.7,896.6 172.8,895.6 172.9,897.9 173,895.4 173.1,898 173.2,897.8 173.2,898.3 173.3,896.7 173.4,895.9 173.5,897.5 173.6,898.2 173.7,899.8 173.7,897.2 173.8,898 173.9,897.8 174,898.4 174.1,898.8 174.2,898.1 174.3,896.8 174.3,896 174.4,897.5 174.5,897 174.6,897.8 174.7,897.7 174.8,899.5 174.9,896.2 174.9,896.6 175,895.3 175.1,898.4 175.2,897.3 175.3,898.9 175.4,897.1 175.5,897.7 175.5,896.5 175.6,897.7 175.7,896.5 175.8,898.2 175.9,896.6 176,897.9 176,898.1 176.1,897.4 176.2,897 176.3,899.6 176.4,899.8 176.5,897.2 176.6,897.6 176.6,900.5 176.7,900 176.8,898.6 176.9,897 177,897.2 177.1,896 177.2,895.8 177.2,894 177.3,899.6 177.4,897.6 177.5,895.9 177.6,899.4 177.7,899.6 177.8,897.2 177.8,895.9 177.9,895.6 178,900.2 178.1,899.3 178.2,897.7 178.3,898.3 178.3,897 178.4,897.3 178.5,894.9 178.6,897.6 178.7,897.2 178.8,897.4 178.9,895.9 178.9,899.2 179,896.9 179.1,898.7 179.2,899.6 179.3,895.7 179.4,896.7 179.5,895.4 179.5,897.1 179.6,896.5 179.7,897.3 179.8,896.6 179.9,898.1 180,894.9 180.1,898.8 180.1,894.9 180.2,897.8 180.3,896.2 180.4,897.3 180.5,896.8 180.6,895.3 180.6,897.3 180.7,898.9 180.8,897.1 180.9,896.5 181,901.2 181.1,896 181.2,895.8 181.2,900.1 181.3,897.7 181.4,896.2 181.5,899.2 181.6,898.1 181.7,898 181.8,896.6 181.8,895.8 181.9,897.5 182,897.4 182.1,896.1 182.2,896.7 182.3,897.6 182.4,895.5 182.4,899.6 182.5,897.3 182.6,898.1 182.7,898.2 182.8,897.2 182.9,897.4 182.9,893.8 183,896.5 183.1,897 183.2,895 183.3,895.9 183.4,900.3 183.5,897.3 183.5,896.4 183.6,898.4 183.7,897 183.8,898.2 183.9,896.9 184,899.9 184.1,900.4 184.1,898.3 184.2,897.2 184.3,895.5 184.4,897.9 184.5,898.6 184.6,896.1 184.6,897.4 184.7,894.8 184.8,897.6 184.9,900.4 185,898.7 185.1,898.9 185.2,899.6 185.2,898.7 185.3,898.6 185.4,897.9 185.5,898.3 185.6,896.9 185.7,896.9 185.8,897.2 185.8,897.2 185.9,900.4 186,900 186.1,898.8 186.2,897.1 186.3,899.7 186.4,898.2 186.4,897.1 186.5,894.5 186.6,897.1 186.7,898.3 186.8,895.9 186.9,897.2 186.9,898 187,895.8 187.1,898.9 187.2,897.2 187.3,897.4 187.4,896.2 187.5,899.3 187.5,899.5 187.6,898.1 187.7,897.9 187.8,897.5 187.9,898.1 188,896.9 188.1,896.5 188.1,897.2 188.2,899.1 188.3,895.8 188.4,899.9 188.5,897.9 188.6,896.2 188.7,898.5 188.7,895.6 188.8,894.6 188.9,895.1 189,896.9 189.1,896 189.2,898.3 189.2,896.9 189.3,896.8 189.4,897.4 189.5,897.3 189.6,897.8 189.7,900.5 189.8,896.9 189.8,897 189.9,894.4 190,896.4 190.1,897.4 190.2,896.2 190.3,896.6 190.4,897.5 190.4,898.1 190.5,899.7 190.6,897.3 190.7,895 190.8,900.3 190.9,899 191,896.3 191,897.2 191.1,896.9 191.2,900.3 191.3,898.4 191.4,896.7 191.5,896.6 191.5,897 191.6,898.8 191.7,896.7 191.8,899.3 191.9,898.9 192,899.3 192.1,895.3 192.1,898.1 192.2,897.4 192.3,900.8 192.4,895.8 192.5,896.8 192.6,900 192.7,899.9 192.7,894.9 192.8,898.9 192.9,894.6 193,898.2 193.1,901.2 193.2,895.7 193.3,896.7 193.3,896.4 193.4,898.2 193.5,897.8 193.6,896 193.7,898.7 193.8,900.4 193.8,896 193.9,898.4 194,895.5 194.1,898.2 194.2,898.1 194.3,897.8 194.4,901 194.4,895.6 194.5,898.4 194.6,897.7 194.7,895.2 194.8,897.2 194.9,896 195,896.9 195,896.2 195.1,897 195.2,895.6 195.3,897.7 195.4,896.7 195.5,898.5 195.6,895.5 195.6,900.7 195.7,897.1 195.8,896.8 195.9,896.8 196,897.4 196.1,895.3 196.1,894.1 196.2,898.2 196.3,900.3 196.4,899 196.5,898.6 196.6,897.5 196.7,897.4 196.7,895.7 196.8,898 196.9,897.4 197,897.1 197.1,898.6 197.2,897.8 197.3,893.1 197.3,897.4 197.4,898.8 197.5,900.6 197.6,895.7 197.7,897.8 197.8,898.2 197.8,893.5 197.9,895.1 198,899.9 198.1,897.8 198.2,895.7 198.3,896 198.4,898.9 198.4,894.5 198.5,894.4 198.6,898.9 198.7,899.9 198.8,899.3 198.9,896.2 199,895.5 199,896.9 199.1,898.1 199.2,897.3 199.3,896.3 199.4,899 199.5,899.8 199.6,897.3 199.6,895.3 199.7,896.9 199.8,896.9 199.9,898.2 200,895.7 200.1,899.8 200.1,897.2 200.2,898.1 200.3,897.4 200.4,898.6 200.5,896 200.6,897.2 200.7,898 200.7,896.3 200.8,897.2 200.9,897.9 201,898 201.1,895.9 201.2,898.5 201.3,897.4 201.3,897.5 201.4,896.6 201.5,897.4 201.6,893.8 201.7,899.7 201.8,896.1 201.9,897.1 201.9,895.3 202,899.5 202.1,895.2 202.2,899.1 202.3,896 202.4,896.2 202.4,897 202.5,898.1 202.6,898.2 202.7,896.8 202.8,898.1 202.9,900 203,899.7 203,895.7 203.1,895.7 203.2,896.2 203.3,896.9 203.4,896.3 203.5,896.2 203.6,896.5 203.6,898.1 203.7,898 203.8,898.6 203.9,896.6 204,898.4 204.1,897.1 204.2,894.8 204.2,897.4 204.3,895.3 204.4,894.4 204.5,899.6 204.6,899 204.7,896.1 204.7,897.9 204.8,895.9 204.9,895.7 205,897.5 205.1,895.5 205.2,894.1 205.3,895.3 205.3,898 205.4,896.9 205.5,897.5 205.6,894.3 205.7,897 205.8,897.7 205.9,896.6 205.9,895.8 206,897.2 206.1,896.4 206.2,896.6 206.3,895.4 206.4,895.1 206.5,896.1 206.5,897.3 206.6,895.9 206.7,897.9 206.8,894.9 206.9,896 207,896.1 207,900.2 207.1,892.8 207.2,894.2 207.3,894.5 207.4,896.2 207.5,895.4 207.6,892 207.6,897.4 207.7,895.2 207.8,895.4 207.9,896.1 208,895.8 208.1,897.8 208.2,895.3 208.2,898.3 208.3,893.4 208.4,895 208.5,897.5 208.6,899.4 208.7,896 208.8,895.4 208.8,897.7 208.9,893.5 209,895.7 209.1,896.8 209.2,898.2 209.3,896.2 209.3,896.3 209.4,895 209.5,894.4 209.6,895.9 209.7,895.2 209.8,893.7 209.9,895 209.9,896.3 210,894.9 210.1,896.7 210.2,895.1 210.3,895.7 210.4,897.5 210.5,894.9 210.5,895.6 210.6,894.6 210.7,897.8 210.8,894 210.9,893.9 211,896.2 211,895.8 211.1,895.5 211.2,895.6 211.3,894.3 211.4,896.6 211.5,897.3 211.6,895.9 211.6,892.6 211.7,896.1 211.8,897 211.9,896.8 212,895.1 212.1,893.5 212.2,896.5 212.2,895 212.3,894.9 212.4,894.5 212.5,895 212.6,893.5 212.7,894.1 212.8,896 212.8,891.3 212.9,897.1 213,897 213.1,893.3 213.2,894.6 213.3,895.2 213.3,894.5 213.4,893.7 213.5,895.3 213.6,895.6 213.7,896.2 213.8,895.8 213.9,895.7 213.9,892.7 214,893.9 214.1,893.5 214.2,895.1 214.3,892.6 214.4,896.5 214.5,893.3 214.5,892.9 214.6,894.8 214.7,895.4 214.8,892.9 214.9,894.7 215,894.9 215.1,893.5 215.1,895.1 215.2,893.5 215.3,890.1 215.4,893.8 215.5,891.6 215.6,894.5 215.6,892.6 215.7,893.1 215.8,892.8 215.9,891.2 216,889 216.1,892.3 216.2,890 216.2,891.3 216.3,890.6 216.4,892.3 216.5,892.4 216.6,891.5 216.7,892.2 216.8,890.8 216.8,892.2 216.9,890.4 217,889.9 217.1,887.1 217.2,887 217.3,888.6 217.4,889.9 217.4,887.9 217.5,887.3 217.6,888.5 217.7,889.1 217.8,890.2 217.9,887.1 217.9,883.7 218,886.5 218.1,885.1 218.2,884.7 218.3,883.9 218.4,882.9 218.5,886.5 218.5,883 218.6,881.4 218.7,881.3 218.8,878.5 218.9,880 219,876.9 219.1,874.5 219.1,876.4 219.2,874.6 219.3,873.6 219.4,870.3 219.5,872.9 219.6,869.9 219.7,865.8 219.7,861.5 219.8,859.1 219.9,858 220,850.7 220.1,848.9 220.2,845.4 220.2,838.3 220.3,831 220.4,826.1 220.5,820.4 220.6,809.7 220.7,798.2 220.8,784.8 220.8,774.2 220.9,757.1 221,742.8 221.1,723.5 221.2,708.1 221.3,690.5 221.4,678.7 221.4,668.8 221.5,666.6 221.6,670.3 221.7,674.4 221.8,687.9 221.9,705.2 222,723.9 222,738.5 222.1,757.7 222.2,771.7 222.3,784.2 222.4,797.6 222.5,806.1 222.5,817.8 222.6,825.7 222.7,832.2 222.8,840.3 222.9,845.4 223,847.2 223.1,855.1 223.1,854.3 223.2,858.8 223.3,860.2 223.4,863.3 223.5,865.8 223.6,866 223.7,870.6 223.7,872.2 223.8,871.8 223.9,875.9 224,874.3 224.1,876.1 224.2,878.9 224.2,881 224.3,883 224.4,877.8 224.5,883.7 224.6,883.9 224.7,881.3 224.8,882.5 224.8,883.4 224.9,884.1 225,885.3 225.1,886.5 225.2,886.6 225.3,884.9 225.4,884.5 225.4,884.6 225.5,886.8 225.6,890.5 225.7,886.5 225.8,887.8 225.9,891.9 226,885.9 226,887.9 226.1,888.5 226.2,888.3 226.3,888.6 226.4,888.6 226.5,888.9 226.5,889.2 226.6,888.5 226.7,889 226.8,885.9 226.9,889.5 227,890.6 227.1,890.9 227.1,889.5 227.2,890 227.3,889.9 227.4,890.6 227.5,890.7 227.6,889.3 227.7,888.5 227.7,890.1 227.8,890.9 227.9,892.6 228,892.6 228.1,890.9 228.2,891.4 228.3,891.2 228.3,892.8 228.4,891.4 228.5,894.2 228.6,893.1 228.7,892.6 228.8,890.5 228.8,892.4 228.9,893 229,891.1 229.1,891.7 229.2,890.2 229.3,891.2 229.4,891.4 229.4,892 229.5,890.8 229.6,892.9 229.7,894.2 229.8,890.5 229.9,892.6 230,891.9 230,891 230.1,890.4 230.2,896.5 230.3,893.6 230.4,890.2 230.5,894.7 230.6,891.3 230.6,892.6 230.7,893.5 230.8,892.3 230.9,894.7 231,891.5 231.1,890.3 231.1,894.3 231.2,893.2 231.3,890.3 231.4,891.6 231.5,892.7 231.6,890 231.7,894.7 231.7,892.6 231.8,892 231.9,892.6 232,890.9 232.1,894.7 232.2,892 232.3,893.3 232.3,890.2 232.4,890.5 232.5,893.2 232.6,893.7 232.7,892.1 232.8,893.3 232.9,892.8 232.9,891.2 233,892.6 233.1,889 233.2,891.7 233.3,892.5 233.4,893.4 233.4,892.4 233.5,889.8 233.6,890.6 233.7,889.2 233.8,889.3 233.9,890.3 234,892.1 234,891.2 234.1,890.7 234.2,893.2 234.3,890 234.4,891.9 234.5,890.2 234.6,890.6 234.6,888.6 234.7,885.1 234.8,890.7 234.9,888.4 235,884.8 235.1,888.8 235.2,887.2 235.2,886.3 235.3,884.9 235.4,887.1 235.5,883.3 235.6,882 235.7,878.3 235.7,881.7 235.8,882.1 235.9,880.8 236,885.1 236.1,880.9 236.2,879.6 236.3,882.8 236.3,883.5 236.4,884.6 236.5,884.7 236.6,887.5 236.7,883.8 236.8,887.4 236.9,887.9 236.9,885.1 237,887.9 237.1,888.9 237.2,885.9 237.3,888.4 237.4,887.4 237.4,889.9 237.5,891.8 237.6,888.9 237.7,887 237.8,890 237.9,888.7 238,888.2 238,888.9 238.1,889.2 238.2,888.1 238.3,888.9 238.4,890 238.5,887.5 238.6,887.8 238.6,888.3 238.7,887.7 238.8,892.7 238.9,888.1 239,888.3 239.1,891.3 239.2,884.9 239.2,887.4 239.3,888.4 239.4,888.1 239.5,886.9 239.6,887 239.7,889.2 239.7,887.1 239.8,885.5 239.9,884.9 240,884.2 240.1,886.8 240.2,885.8 240.3,883.8 240.3,884.9 240.4,883.2 240.5,884.3 240.6,881.7 240.7,881.9 240.8,880.6 240.9,880.9 240.9,881.5 241,881.6 241.1,879 241.2,879.3 241.3,880 241.4,877.9 241.5,875.2 241.5,873.8 241.6,873.9 241.7,872.4 241.8,874.4 241.9,873.6 242,874.3 242,873.7 242.1,869.7 242.2,871.2 242.3,870.8 242.4,867.7 242.5,868.8 242.6,873.2 242.6,870.6 242.7,873.7 242.8,871.4 242.9,876.3 243,875.4 243.1,875.9 243.2,872 243.2,878.5 243.3,874.8 243.4,875.5 243.5,877.6 243.6,877.2 243.7,875.2 243.8,879.4 243.8,880.9 243.9,879 244,880.4 244.1,884 244.2,882.4 244.3,882.8 244.3,885.5 244.4,885.7 244.5,885.7 244.6,886.9 244.7,884.6 244.8,885.3 244.9,889.6 244.9,887.2 245,886.6 245.1,889.2 245.2,887.8 245.3,887.2 245.4,890.5 245.5,888.6 245.5,892 245.6,887.4 245.7,889.9 245.8,891.2 245.9,892 246,891.9 246.1,887.5 246.1,890.9 246.2,890.6 246.3,890.5 246.4,892.3 246.5,888.9 246.6,894.1 246.6,888.9 246.7,891.6 246.8,890.4 246.9,890.1 247,889.3 247.1,892.6 247.2,889.7 247.2,890.8 247.3,890.9 247.4,891.1 247.5,888.9 247.6,889.9 247.7,888.5 247.8,889 247.8,893.4 247.9,890.3 248,888.3 248.1,891.1 248.2,892 248.3,892.7 248.4,885.7 248.4,890 248.5,888.2 248.6,890.1 248.7,887.9 248.8,886.2 248.9,891.4 248.9,889.6 249,891 249.1,893.1 249.2,891.9 249.3,890.8 249.4,889.2 249.5,889.3 249.5,891.6 249.6,894.3 249.7,890.8 249.8,892 249.9,892.1 250,894 250.1,892.6 250.1,889.3 250.2,890.1 250.3,890.6 250.4,891.6 250.5,893.3 250.6,892.7 250.6,892.6 250.7,892.2 250.8,893.4 250.9,894.3 251,891.2 251.1,893.6 251.2,891.8 251.2,893.4 251.3,892.1 251.4,892.4 251.5,892.1 251.6,892.2 251.7,894.8 251.8,895.5 251.8,893.5 251.9,890.9 252,894.8 252.1,895 252.2,890 252.3,896 252.4,894.5 252.4,894.3 252.5,894.8 252.6,894.8 252.7,892.1 252.8,893.5 252.9,893.6 252.9,896.5 253,892.7 253.1,893.7 253.2,893.8 253.3,892.8 253.4,893.6 253.5,894.2 253.5,893.5 253.6,895.3 253.7,895.6 253.8,896.4 253.9,892.8 254,895.4 254.1,894.1 254.1,892.7 254.2,891.6 254.3,895.1 254.4,894.3 254.5,894.4 254.6,896.7 254.7,895.4 254.7,890.3 254.8,894.8 254.9,892 255,893.6 255.1,892.1 255.2,892.8 255.2,894.6 255.3,896.9 255.4,892.8 255.5,893.9 255.6,894.3 255.7,893.8 255.8,896.4 255.8,895 255.9,895.2 256,897.6 256.1,897.2 256.2,895.6 256.3,898.9 256.4,894.3 256.4,894.3 256.5,895.6 256.6,895.1 256.7,898.4 256.8,895.4 256.9,894.5 257,894.9 257,894.3 257.1,895.9 257.2,892.7 257.3,895.2 257.4,894.7 257.5,894.3 257.5,897.2 257.6,897.8 257.7,894.9 257.8,898.1 257.9,897.1 258,894.7 258.1,898 258.1,897.8 258.2,898.3 258.3,898 258.4,893.5 258.5,895.6 258.6,895 258.7,899.6 258.7,900.3 258.8,898.4 258.9,895 259,894.8 259.1,899.8 259.2,899.5 259.3,895.8 259.3,896.4 259.4,896.2 259.5,895.9 259.6,898.5 259.7,896.8 259.8,897.5 259.8,895.1 259.9,897.6 260,900.1 260.1,895.2 260.2,894.4 260.3,895.7 260.4,897.8 260.4,898.8 260.5,895.8 260.6,898.2 260.7,896.6 260.8,896.2 260.9,897.7 261,900.6 261,896.7 261.1,899.1 261.2,900 261.3,897.7 261.4,897.4 261.5,897.8 261.6,896.7 261.6,900.7 261.7,896.9 261.8,895.3 261.9,898 262,898.6 262.1,898.1 262.1,896 262.2,898.2 262.3,899.2 262.4,900.6 262.5,895.8 262.6,895.8 262.7,898 262.7,894.8 262.8,898.7 262.9,897 263,900.2 263.1,899.7 263.2,898.2 263.3,897.4 263.3,897.2 263.4,899.6 263.5,899.1 263.6,898.5 263.7,898.7 263.8,898.7 263.8,897.1 263.9,896.6 264,901.3 264.1,896.4 264.2,898.2 264.3,898 264.4,898 264.4,897.1 264.5,897.4 264.6,900.9 264.7,897.2 264.8,900.4 264.9,898 265,898.3 265,901.1 265.1,898.7 265.2,899.1 265.3,899.8 265.4,895.6 265.5,898.5 265.6,899.4 265.6,896.1 265.7,898.9 265.8,899.1 265.9,902 266,898 266.1,897.4 266.1,896 266.2,900.6 266.3,897.4 266.4,896.9 266.5,898 266.6,899.1 266.7,901.7 266.7,898.9 266.8,900.1 266.9,901.9 267,898.3 267.1,899.4 267.2,899.6 267.3,896.2 267.3,900.2 267.4,902.6 267.5,902.8 267.6,898.6 267.7,899.8 267.8,900.6 267.9,902.8 267.9,900.8 268,901.3 268.1,899.7 268.2,900.9 268.3,901 268.4,899.7 268.4,900.9 268.5,899.2 268.6,905 268.7,901.7 268.8,897.9 268.9,899.5 269,901.5 269,900.1 269.1,900.7 269.2,900.4 269.3,897.7 269.4,900.6 269.5,899.6 269.6,901.3 269.6,901.1 269.7,902.4 269.8,901 269.9,900.7 270,900.5 270.1,900 270.2,899.9 270.2,899.1 270.3,900.5 270.4,898.1 270.5,899.2 270.6,898 270.7,900.3 270.7,898.3 270.8,900.1 270.9,902.8 271,900.3 271.1,900.5 271.2,902.6 271.3,901.8 271.3,901.3 271.4,896.8 271.5,899.9 271.6,897.5 271.7,898.9 271.8,898.7 271.9,899.1 271.9,902.7 272,898.5 272.1,902 272.2,899.8 272.3,900.6 272.4,898 272.5,898.6 272.5,897.6 272.6,899.7 272.7,900.5 272.8,899.3 272.9,896.8 273,899.7 273,900.5 273.1,902.4 273.2,901.7 273.3,900.7 273.4,899.5 273.5,899.6 273.6,900.7 273.6,900.4 273.7,898.2 273.8,897.7 273.9,898.8 274,898.2 274.1,898.7 274.2,897.8 274.2,902.6 274.3,901.4 274.4,900.3 274.5,900 274.6,898.6 274.7,903.5 274.8,900.4 274.8,900.2 274.9,901.7 275,900.8 275.1,899.1 275.2,899.9 275.3,900.8 275.3,900.3 275.4,900.8 275.5,899.2 275.6,900.8 275.7,899.1 275.8,901.4 275.9,900.6 275.9,902.3 276,900.9 276.1,899.3 276.2,902.1 276.3,901.1 276.4,900.3 276.5,901 276.5,899.2 276.6,902.4 276.7,899.1 276.8,898.4 276.9,897.9 277,900.5 277,901.6 277.1,902.8 277.2,899.3 277.3,899.1 277.4,899.9 277.5,899.8 277.6,899.2 277.6,900.8 277.7,902.5 277.8,902.4 277.9,901.4 278,901.6 278.1,902.6 278.2,900.8 278.2,901.7 278.3,899.1 278.4,900.2 278.5,898.8 278.6,902.1 278.7,901.7 278.8,902.5 278.8,899.5 278.9,895.1 279,899.6 279.1,900.6 279.2,899.6 279.3,899.9 279.3,898.4 279.4,899.8 279.5,901.2 279.6,902.7 279.7,899.2 279.8,898.2 279.9,899.5 279.9,901.1 280,900.4 280.1,900.2 280.2,898.7 280.3,899.7 280.4,897.8 280.5,899.8 280.5,900.5 280.6,896.6 280.7,900.9 280.8,900.6 280.9,896.1 281,898.8 281.1,896.4 281.1,902.9 281.2,897.1 281.3,898.9 281.4,898.6 281.5,897.9 281.6,902.8 281.6,899.8 281.7,897.5 281.8,893 281.9,898.9 282,893.9 282.1,896.2 282.2,895.3 282.2,898.1 282.3,895.3 282.4,897.2 282.5,897.4 282.6,893.3 282.7,896.2 282.8,895.9 282.8,894 282.9,896.5 283,897.5 283.1,895.5 283.2,895.7 283.3,894.1 283.4,898.6 283.4,896 283.5,896.3 283.6,898.3 283.7,898.1 283.8,898 283.9,899.8 283.9,900.4 284,897.4 284.1,900.2 284.2,900.2 284.3,897.5 284.4,899.7 284.5,899.5 284.5,901.1 284.6,900.9 284.7,901.2 284.8,901.2 284.9,897.2 285,900.6 285.1,902.7 285.1,900.9 285.2,898.1 285.3,901 285.4,899.3 285.5,900.7 285.6,902 285.7,900.1 285.7,900.8 285.8,899 285.9,898.1 286,899.3 286.1,895.1 286.2,900.8 286.2,897.1 286.3,898.5 286.4,897 286.5,898.3 286.6,902.5 286.7,899.5 286.8,897.4 286.8,898.9 286.9,900.9 287,899.7 287.1,898.2 287.2,896.8 287.3,899.5 287.4,898.3 287.4,899.8 287.5,900.1 287.6,898.9 287.7,895.8 287.8,896.5 287.9,897.8 288,897.1 288,895.8 288.1,896.3 288.2,896.2 288.3,895.3 288.4,893 288.5,893.6 288.5,890.6 288.6,893.5 288.7,890.7 288.8,889.4 288.9,887.5 289,890.1 289.1,890.3 289.1,890.1 289.2,891.9 289.3,893.9 289.4,894.4 289.5,896.2 289.6,894.2 289.7,895.3 289.7,895.1 289.8,893.3 289.9,895.2 290,896.6 290.1,897.7 290.2,894.2 290.2,897.4 290.3,898.3 290.4,896 290.5,897.4 290.6,898.5 290.7,897.5 290.8,895.2 290.8,898 290.9,897.6 291,899.5 291.1,898.9 291.2,896.8 291.3,898.3 291.4,898 291.4,896.4 291.5,898.6 291.6,895.7 291.7,899 291.8,899.2 291.9,899.2 292,900.2 292,897 292.1,897.8 292.2,895.6 292.3,898.8 292.4,896.5 292.5,895.5 292.5,897.8 292.6,897.6 292.7,901.1 292.8,894.2 292.9,897.2 293,895.8 293.1,897.6 293.1,896.1 293.2,898.2 293.3,895.1 293.4,895.8 293.5,896.3 293.6,894.8 293.7,897.9 293.7,894.6 293.8,895.1 293.9,891.8 294,892.3 294.1,893.2 294.2,892.7 294.3,887 294.3,892.2 294.4,886.8 294.5,887.1 294.6,886 294.7,888.5 294.8,882.4 294.8,882.1 294.9,880 295,874.4 295.1,872.5 295.2,866 295.3,863 295.4,854.9 295.4,849.2 295.5,845.9 295.6,842.2 295.7,840.3 295.8,841.3 295.9,844.9 296,846.2 296,854 296.1,860.6 296.2,865.5 296.3,870.4 296.4,872.2 296.5,875.5 296.6,878.7 296.6,880.4 296.7,881.1 296.8,882.9 296.9,881.6 297,883.3 297.1,881 297.1,882.1 297.2,880.4 297.3,881.9 297.4,883.9 297.5,883.3 297.6,882.3 297.7,882.2 297.7,883.3 297.8,884.5 297.9,885.5 298,887.3 298.1,888.4 298.2,890.5 298.3,890.2 298.3,892.1 298.4,892.7 298.5,893 298.6,890.3 298.7,896.5 298.8,895.5 298.9,895.5 298.9,894.8 299,895.7 299.1,893.5 299.2,898.6 299.3,893.6 299.4,898.5 299.4,897.9 299.5,896 299.6,896.9 299.7,897.2 299.8,897.2 299.9,896.8 300,896 300,896.9 300.1,899.6 300.2,898.8 300.3,895.7 300.4,894.9 300.5,896.5 300.6,896.3 300.6,897.5 300.7,894.9 300.8,899 300.9,898.7 301,899.4 301.1,895.8 301.2,899 301.2,897.5 301.3,900.4 301.4,900.6 301.5,896.8 301.6,897.3 301.7,897.1 301.7,898.1 301.8,898.8 301.9,899 302,900.1 302.1,899 302.2,896.4 302.3,898.7 302.3,900.5 302.4,898.8 302.5,900 302.6,900.2 302.7,898.7 302.8,899.7 302.9,900.4 302.9,896.2 303,895.9 303.1,898.3 303.2,896.2 303.3,899.2 303.4,898.6 303.4,896.5 303.5,898 303.6,897.2 303.7,902.7 303.8,898 303.9,899.1 304,898.6 304,900.8 304.1,899.6 304.2,897.5 304.3,897.6 304.4,897.3 304.5,897.1 304.6,896.7 304.6,897.8 304.7,898.8 304.8,899.3 304.9,899 305,899.8 305.1,899.9 305.2,898.5 305.2,901.8 305.3,900.1 305.4,899.5 305.5,897.4 305.6,896.5 305.7,897.6 305.7,898.1 305.8,898.7 305.9,896.2 306,896.7 306.1,898.7 306.2,897.7 306.3,896.9 306.3,896.1 306.4,897.9 306.5,895 306.6,895.4 306.7,897.8 306.8,897.3 306.9,898.3 306.9,898.2 307,896.2 307.1,894.4 307.2,894.3 307.3,896.1 307.4,896.9 307.5,897.2 307.5,895.5 307.6,896.7 307.7,894.8 307.8,896 307.9,895.3 308,896.5 308,892.5 308.1,893.8 308.2,895.3 308.3,896.7 308.4,894.5 308.5,894.1 308.6,896.9 308.6,895 308.7,891.9 308.8,894.7 308.9,895.5 309,893.9 309.1,892 309.2,895.3 309.2,895.2 309.3,894.8 309.4,894.3 309.5,892.4 309.6,893.6 309.7,897.4 309.8,893.3 309.8,893.2 309.9,892.7 310,893.1 310.1,893.6 310.2,892.4 310.3,894.1 310.3,895.4 310.4,893.2 310.5,894.2 310.6,889.7 310.7,892.2 310.8,889.4 310.9,893.6 310.9,893.2 311,890.4 311.1,893.3 311.2,891.4 311.3,893 311.4,889 311.5,891.9 311.5,889 311.6,891 311.7,887 311.8,885.5 311.9,886.4 312,887.4 312.1,884.5 312.1,882.8 312.2,882.2 312.3,880.4 312.4,878.4 312.5,879.7 312.6,879.1 312.6,878.2 312.7,875.6 312.8,874.1 312.9,872.6 313,869 313.1,863.9 313.2,865.4 313.2,861.8 313.3,858.2 313.4,855.4 313.5,848.1 313.6,845.4 313.7,839.4 313.8,837.7 313.8,829.3 313.9,825.2 314,822.5 314.1,814.8 314.2,811.4 314.3,810.4 314.4,809.3 314.4,812.2 314.5,811.3 314.6,816.5 314.7,819.6 314.8,824.2 314.9,829.5 314.9,836.6 315,840.1 315.1,845.2 315.2,848.1 315.3,855.3 315.4,856.5 315.5,860.7 315.5,864.5 315.6,864.5 315.7,868.7 315.8,873 315.9,873.8 316,877.3 316.1,879.6 316.1,880.1 316.2,881.4 316.3,879.3 316.4,881.8 316.5,887.7 316.6,885.2 316.6,886.9 316.7,886.8 316.8,887.1 316.9,887.9 317,887.9 317.1,890.4 317.2,887.5 317.2,890.4 317.3,888.7 317.4,891.2 317.5,890.7 317.6,893.3 317.7,890.5 317.8,892 317.8,893.4 317.9,892.5 318,892.6 318.1,896 318.2,895 318.3,895.6 318.4,893 318.4,894.2 318.5,895.7 318.6,896 318.7,895.2 318.8,898.8 318.9,895.7 318.9,893.2 319,897.9 319.1,897.8 319.2,897.8 319.3,895.5 319.4,897.5 319.5,893.6 319.5,896.9 319.6,897.5 319.7,898.5 319.8,895.9 319.9,895.4 320,896.9 320.1,895.3 320.1,895.5 320.2,897 320.3,897.5 320.4,898.6 320.5,897.5 320.6,898.5 320.7,895.8 320.7,897 320.8,898.5 320.9,898.9 321,897.8 321.1,896.9 321.2,898.1 321.2,897.1 321.3,899.4 321.4,898.5 321.5,897.9 321.6,898.7 321.7,898.5 321.8,897.6 321.8,899.3 321.9,897.8 322,900.2 322.1,898.8"/>
<rect class="fr" x="58.1" y="652.2" width="264" height="264.5"/>
<path class="tk" d="M100.7 916.8v-5M143.3 916.8v-5M185.8 916.8v-5M228.4 916.8v-5M271 916.8v-5M313.6 916.8v-5M58.1 863.9h5M58.1 811h5M58.1 758.1h5M58.1 705.2h5"/>
<text x="58.1" y="929.6" font-size="12.9" text-anchor="middle">3500</text>
<text x="100.7" y="929.6" font-size="12.9" text-anchor="middle">3000</text>
<text x="143.3" y="929.6" font-size="12.9" text-anchor="middle">2500</text>
<text x="185.8" y="929.6" font-size="12.9" text-anchor="middle">2000</text>
<text x="228.4" y="929.6" font-size="12.9" text-anchor="middle">1500</text>
<text x="271" y="929.6" font-size="12.9" text-anchor="middle">1000</text>
<text x="313.6" y="929.6" font-size="12.9" text-anchor="middle">500</text>
<text x="51.3" y="865.9" font-size="12.9" text-anchor="end">200</text>
<text x="51.3" y="813" font-size="12.9" text-anchor="end">400</text>
<text x="51.3" y="760.1" font-size="12.9" text-anchor="end">600</text>
<text x="51.3" y="707.1" font-size="12.9" text-anchor="end">800</text>
<text x="51.3" y="918.8" font-size="12.9" text-anchor="end">0</text>
<text x="51.3" y="654.2" font-size="12.9" text-anchor="end">1000</text>
<text x="188.7" y="952.7" font-size="13.4" text-anchor="middle">Raman shift (cm<tspan font-size="7.5" dy="-6.7">-1</tspan><tspan dy="6.7">)</tspan></text>
<text transform="translate(18.8 787.9) rotate(-90)" font-size="13.3" text-anchor="middle">Raman intensity (a.u)</text>
</g>
<g id="panel-f">
<polyline class="cv" stroke-width="2.2" points="415.5,912.6 415.6,913.4 415.7,913.8 415.9,914 416,912.7 416.1,912.4 416.2,912.2 416.4,912.6 416.5,912.6 416.6,913 416.8,913.4 416.9,913.8 417,913.8 417.1,913.6 417.3,912.9 417.4,912.5 417.5,911.8 417.6,912.2 417.8,912.1 417.9,913 418,913.2 418.1,913.6 418.3,913.2 418.4,913.4 418.5,914 418.6,913.9 418.8,913.7 418.9,912.7 419,912.6 419.1,912.2 419.3,912.5 419.4,912.4 419.5,912.5 419.6,912.2 419.8,912.6 419.9,912.6 420,913.1 420.1,912.8 420.3,912.6 420.4,912.7 420.5,912.2 420.7,912.3 420.8,912 420.9,912.5 421,911.8 421.2,911.8 421.3,911.7 421.4,912.2 421.5,912.6 421.7,912.5 421.8,912.2 421.9,911.8 422,912 422.2,912.8 422.3,913.2 422.4,913.3 422.5,912.6 422.7,912.2 422.8,912 422.9,911.8 423,911.6 423.2,911.5 423.3,911.3 423.4,911.7 423.5,911.6 423.7,912.7 423.8,912.1 423.9,912.2 424.1,911.8 424.2,912.2 424.3,912.3 424.4,912.2 424.6,911.8 424.7,912.1 424.8,911.7 424.9,912.1 425.1,911.8 425.2,912.1 425.3,911.3 425.4,911.7 425.6,911.7 425.7,911.6 425.8,911.3 425.9,911.6 426.1,911.8 426.2,911.7 426.3,911 426.4,911.3 426.6,911.1 426.7,911.2 426.8,910.5 426.9,910.9 427.1,910.6 427.2,911.2 427.3,911.3 427.5,912 427.6,911.6 427.7,911.2 427.8,910.7 428,910.6 428.1,910.4 428.2,910.5 428.3,910.1 428.5,910.9 428.6,911.3 428.7,912 428.8,911.7 429,911.9 429.1,912 429.2,911.8 429.3,911.7 429.5,911.1 429.6,910.4 429.7,909.2 429.8,909.6 430,909.9 430.1,910.7 430.2,910.4 430.3,910.6 430.5,910.1 430.6,910.2 430.7,909.6 430.8,909.5 431,908.9 431.1,909.7 431.2,910.5 431.4,910.8 431.5,910.4 431.6,909.6 431.7,909.6 431.9,909.4 432,909.2 432.1,909 432.2,908.9 432.4,909.4 432.5,909 432.6,909.1 432.7,908.4 432.9,908.8 433,908.4 433.1,908.7 433.2,908.7 433.4,909 433.5,909.2 433.6,909.4 433.7,909.5 433.9,909.3 434,909.3 434.1,908.5 434.2,908.7 434.4,908.5 434.5,908.4 434.6,908.2 434.8,907.9 434.9,908.4 435,908.2 435.1,908.9 435.3,909.5 435.4,909.4 435.5,908.8 435.6,908.9 435.8,908.8 435.9,909.1 436,908.1 436.1,908 436.3,908 436.4,908.4 436.5,908.4 436.6,907.6 436.8,906.4 436.9,906.3 437,906.6 437.1,907.3 437.3,907.3 437.4,907 437.5,907 437.6,906.9 437.8,907.3 437.9,907.3 438,906.9 438.2,906.5 438.3,906 438.4,905.9 438.5,905.9 438.7,905.8 438.8,906.3 438.9,905.8 439,905.7 439.2,905.4 439.3,905.7 439.4,906 439.5,905.4 439.7,905.2 439.8,905.3 439.9,905.5 440,905.5 440.2,905.9 440.3,906.3 440.4,906.4 440.5,906.5 440.7,906.3 440.8,906.5 440.9,905.8 441,906.5 441.2,906.5 441.3,907.3 441.4,906.4 441.5,905.7 441.7,904.8 441.8,904.8 441.9,905 442.1,905.2 442.2,906.2 442.3,906.4 442.4,906.9 442.6,906.5 442.7,907 442.8,906.4 442.9,906.3 443.1,906.3 443.2,906.6 443.3,906.6 443.4,906.5 443.6,906.7 443.7,906.9 443.8,907.3 443.9,907.7 444.1,907.2 444.2,906.3 444.3,905.7 444.4,906.2 444.6,906.4 444.7,906.5 444.8,905.8 444.9,905.8 445.1,906.1 445.2,905.9 445.3,905.5 445.5,905.2 445.6,905.7 445.7,905.9 445.8,905.1 446,904.5 446.1,904.3 446.2,905.1 446.3,904.8 446.5,904.1 446.6,903.1 446.7,903.3 446.8,904.3 447,905 447.1,904.9 447.2,904.3 447.3,903.6 447.5,903.8 447.6,903.8 447.7,903.5 447.8,903.3 448,902.9 448.1,902.8 448.2,902.4 448.3,901.7 448.5,901.1 448.6,901.4 448.7,901.6 448.8,901.9 449,900.9 449.1,900.7 449.2,899.9 449.4,899.4 449.5,898.3 449.6,898.3 449.7,898 449.9,897.7 450,896.4 450.1,895.1 450.2,894.1 450.4,893.1 450.5,891.9 450.6,889.6 450.7,886.5 450.9,883.6 451,879.8 451.1,876.1 451.2,869.9 451.4,863 451.5,853.9 451.6,844.7 451.7,835.6 451.9,828.6 452,825.9 452.1,827.6 452.2,834.3 452.4,842.9 452.5,851.9 452.6,859.5 452.8,865.6 452.9,870.5 453,874.9 453.1,878.2 453.3,879.8 453.4,881.1 453.5,881.4 453.6,882 453.8,882.2 453.9,882.5 454,883.3 454.1,882.3 454.3,882 454.4,880.9 454.5,880.1 454.6,878.4 454.8,876.3 454.9,873.9 455,871.1 455.1,867.9 455.3,863.8 455.4,858.3 455.5,852.5 455.6,846.2 455.8,839.1 455.9,828.9 456,816.5 456.2,801.4 456.3,784.6 456.4,764.7 456.5,743.1 456.7,720.6 456.8,703 456.9,694.4 457,696.3 457.2,708.1 457.3,725.9 457.4,748.9 457.5,770.7 457.7,790.3 457.8,805.8 457.9,819.7 458,832 458.2,841.7 458.3,849.4 458.4,855 458.5,859.9 458.7,864.3 458.8,867.9 458.9,871.5 459,874.3 459.2,876.9 459.3,878.3 459.4,879.9 459.5,880.9 459.7,882.3 459.8,883.6 459.9,885 460.1,886.3 460.2,887 460.3,888.2 460.4,888.1 460.6,888.1 460.7,888.6 460.8,889.2 460.9,889.6 461.1,889.6 461.2,890.1 461.3,890 461.4,890.1 461.6,890.4 461.7,891 461.8,891.7 461.9,892.4 462.1,893.4 462.2,893.3 462.3,892.8 462.4,892.8 462.6,893.3 462.7,893.7 462.8,893.6 462.9,893.1 463.1,893.3 463.2,893.3 463.3,893.6 463.5,893.6 463.6,894 463.7,894.4 463.8,893.9 464,892.7 464.1,892 464.2,893.1 464.3,894.2 464.5,894.2 464.6,894.2 464.7,894.5 464.8,895 465,894.9 465.1,895.1 465.2,894.8 465.3,894.9 465.5,894.9 465.6,894.9 465.7,895.3 465.8,896.1 466,896.8 466.1,896.1 466.2,895.8 466.3,896.2 466.5,897.7 466.6,898.4 466.7,898.4 466.9,897.9 467,897.8 467.1,898.8 467.2,900 467.4,900.9 467.5,901.4 467.6,901.1 467.7,901.4 467.9,901.5 468,901.7 468.1,901.5 468.2,901.6 468.4,901.9 468.5,902.3 468.6,903.1 468.7,903.4 468.9,903.6 469,903.1 469.1,903 469.2,903.1 469.4,902.6 469.5,902.7 469.6,902.4 469.7,902.7 469.9,902.7 470,902.5 470.1,902.4 470.2,902.1 470.4,902.5 470.5,903 470.6,903.4 470.8,903.1 470.9,903.4 471,903.4 471.1,903.7 471.3,903.3 471.4,903.3 471.5,902.6 471.6,902.1 471.8,901.4 471.9,901.9 472,902.2 472.1,902.5 472.3,901.6 472.4,900.7 472.5,900.6 472.6,900.8 472.8,900.5 472.9,900.5 473,900.6 473.1,900.8 473.3,900 473.4,900.1 473.5,899.9 473.6,899.6 473.8,898.8 473.9,899.5 474,899.7 474.2,899.3 474.3,898.5 474.4,897.9 474.5,898.2 474.7,897.5 474.8,897.6 474.9,896.9 475,897 475.2,896.9 475.3,896.4 475.4,896.6 475.5,896.1 475.7,896.2 475.8,895.9 475.9,895.8 476,895.5 476.2,894.8 476.3,893.9 476.4,893.2 476.5,891.9 476.7,891.6 476.8,890.5 476.9,890.7 477,890.2 477.2,891.5 477.3,891.7 477.4,891.2 477.6,889.8 477.7,889.3 477.8,889 477.9,888.7 478.1,888.4 478.2,888.8 478.3,889.4 478.4,889.2 478.6,888.6 478.7,888.1 478.8,888.4 478.9,888.6 479.1,889.1 479.2,889 479.3,888.9 479.4,888.7 479.6,889.2 479.7,890.2 479.8,891.2 479.9,891.6 480.1,891.9 480.2,892.2 480.3,892.6 480.4,893.3 480.6,894 480.7,894.3 480.8,893.6 480.9,893.4 481.1,893.6 481.2,894.7 481.3,895.3 481.5,895.3 481.6,895.9 481.7,896.5 481.8,897.9 482,898 482.1,898.4 482.2,898.5 482.3,899.2 482.5,899.6 482.6,899.5 482.7,900 482.8,899.1 483,900.3 483.1,900.4 483.2,901.4 483.3,900.5 483.5,900.4 483.6,900.5 483.7,900.8 483.8,900.8 484,900.8 484.1,901 484.2,901.2 484.3,901.6 484.5,901.5 484.6,901.7 484.7,901.6 484.9,901.5 485,901.4 485.1,901.3 485.2,902 485.4,902.2 485.5,902.5 485.6,902.4 485.7,902.4 485.9,902.2 486,902.5 486.1,902.9 486.2,903.3 486.4,903.8 486.5,903.6 486.6,903.4 486.7,903 486.9,902.9 487,903.2 487.1,902.9 487.2,903 487.4,903.1 487.5,904.6 487.6,905 487.7,904.9 487.9,903.9 488,904 488.1,904 488.3,904.3 488.4,904.2 488.5,904.3 488.6,904.2 488.8,904.1 488.9,904.3 489,904.6 489.1,904.9 489.3,905 489.4,904.8 489.5,904.4 489.6,904.3 489.8,904.3 489.9,905.1 490,905.3 490.1,904.6 490.3,904.3 490.4,904 490.5,904.3 490.6,904.4 490.8,904.9 490.9,904.9 491,905.3 491.1,904.8 491.3,905.1 491.4,904 491.5,904 491.6,903.4 491.8,903.1 491.9,903.3 492,903.3 492.2,903.8 492.3,903.4 492.4,903.2 492.5,903.1 492.7,903.3 492.8,903.7 492.9,903.8 493,904 493.2,904 493.3,904.2 493.4,904.7 493.5,905.2 493.7,905.4 493.8,905.1 493.9,904.4 494,905.4 494.2,905.5 494.3,905.6 494.4,904.9 494.5,904.8 494.7,905.3 494.8,905.4 494.9,905.5 495,906 495.2,906.7 495.3,906.9 495.4,906.5 495.6,905.8 495.7,905.9 495.8,905.8 495.9,906 496.1,906 496.2,906.1 496.3,906.4 496.4,906.6 496.6,906.6 496.7,906.6 496.8,906.2 496.9,906.4 497.1,905.9 497.2,905.8 497.3,906.2 497.4,906.9 497.6,907.2 497.7,906.9 497.8,906.3 497.9,905.9 498.1,906.1 498.2,906 498.3,906.6 498.4,906.7 498.6,906.9 498.7,906.7 498.8,906.2 498.9,906.3 499.1,906.1 499.2,906.3 499.3,907 499.5,907.4 499.6,907.7 499.7,906.9 499.8,907.1 500,907 500.1,907.4 500.2,907.7 500.3,907.8 500.5,907.5 500.6,907.1 500.7,906.7 500.8,906.8 501,906.7 501.1,907.1 501.2,907.3 501.3,907.3 501.5,907.2 501.6,907.5 501.7,907.8 501.8,907.7 502,906.9 502.1,906.6 502.2,907.1 502.3,907.3 502.5,908.1 502.6,908 502.7,908.5 502.9,907.5 503,907.1 503.1,906.8 503.2,907.5 503.4,907.4 503.5,907.6 503.6,907.2 503.7,907.3 503.9,907.3 504,907.3 504.1,908.4 504.2,908.1 504.4,908.8 504.5,908.1 504.6,908.2 504.7,907.5 504.9,906.9 505,907.9 505.1,907.9 505.2,908.8 505.4,907.8 505.5,907.8 505.6,907.7 505.7,908.1 505.9,908.5 506,908.4 506.1,908.7 506.3,908.2 506.4,908.5 506.5,907.9 506.6,908.6 506.8,908.3 506.9,908.6 507,908 507.1,907.7 507.3,907.8 507.4,908.1 507.5,908.4 507.6,907.8 507.8,908.3 507.9,908.2 508,908.7 508.1,908.6 508.3,909 508.4,909.2 508.5,908.4 508.6,908.7 508.8,908.1 508.9,908.6 509,908.1 509.1,909 509.3,909.1 509.4,909.3 509.5,909.1 509.6,909.3 509.8,909.4 509.9,908.9 510,908.4 510.2,908.5 510.3,908.6 510.4,908.7 510.5,908.4 510.7,908.2 510.8,908.4 510.9,908.4 511,908.6 511.2,908.1 511.3,908.2 511.4,907.9 511.5,907.4 511.7,907.1 511.8,907.7 511.9,907.8 512,908.9 512.2,908.5 512.3,908.7 512.4,907.9 512.5,908.5 512.7,908.2 512.8,908.1 512.9,907.8 513,908.7 513.2,909 513.3,909.3 513.4,909.4 513.6,909.7 513.7,908.7 513.8,908.7 513.9,908.5 514.1,909.2 514.2,908.5 514.3,908.7 514.4,909 514.6,909.1 514.7,908.7 514.8,907.9 514.9,908.6 515.1,908.7 515.2,908.8 515.3,908.4 515.4,908.7 515.6,909 515.7,909.6 515.8,909.5 515.9,909.3 516.1,908.4 516.2,908 516.3,908 516.4,908.8 516.6,909.1 516.7,909 516.8,907.7 517,907.4 517.1,908 517.2,909 517.3,908.8 517.5,908.1 517.6,908.2 517.7,908.5 517.8,908.4 518,907.6 518.1,907.8 518.2,908.2 518.3,908.5 518.5,908.7 518.6,909.2 518.7,909.5 518.8,908.8 519,907.9 519.1,907.5 519.2,908.2 519.3,909.2 519.5,909.7 519.6,909.3 519.7,908.3 519.8,908.3 520,908.2 520.1,909.1 520.2,909.5 520.3,909.5 520.5,909.3 520.6,909 520.7,909.7 520.9,909 521,909.3 521.1,908.5 521.2,909.3 521.4,908.8 521.5,908.4 521.6,907.8 521.7,907.6 521.9,907.8 522,907.6 522.1,907.2 522.2,908 522.4,907.7 522.5,908.1 522.6,907.9 522.7,908.2 522.9,908 523,907.6 523.1,907.5 523.2,908.1 523.4,908.6 523.5,909.1 523.6,908.3 523.7,907.5 523.9,907.3 524,907.9 524.1,908 524.3,907.6 524.4,907.6 524.5,907.8 524.6,908 524.8,907.6 524.9,907.3 525,907 525.1,907.1 525.3,907.4 525.4,908.6 525.5,908.2 525.6,908 525.8,907.1 525.9,907.3 526,906.8 526.1,906.6 526.3,906.4 526.4,906.7 526.5,907.1 526.6,907.3 526.8,907.6 526.9,907.4 527,907.2 527.1,906.6 527.3,906.7 527.4,907.3 527.5,907.8 527.7,908.1 527.8,907.9 527.9,907.5 528,907.1 528.2,906.7 528.3,906.5 528.4,907 528.5,907.2 528.7,907.4 528.8,906.8 528.9,906.9 529,907.3 529.2,907.2 529.3,906.8 529.4,906.4 529.5,906.8 529.7,907.3 529.8,907.5 529.9,907.3 530,906.8 530.2,906.5 530.3,906.5 530.4,906.3 530.5,906.7 530.7,906.6 530.8,906.9 530.9,907.4 531,907.9 531.2,908.1 531.3,907.5 531.4,906.9 531.6,906.3 531.7,906.4 531.8,906.6 531.9,906.9 532.1,907.3 532.2,907.2 532.3,907.6 532.4,907.2 532.6,907.4 532.7,907.2 532.8,906.6 532.9,906 533.1,905 533.2,905.6 533.3,906 533.4,907 533.6,907.1 533.7,907.6 533.8,907.3 533.9,907.4 534.1,907.3 534.2,907.9 534.3,908 534.4,907.7 534.6,907.1 534.7,907.3 534.8,907.2 535,907.1 535.1,905.8 535.2,905.7 535.3,905.5 535.5,906.4 535.6,906.5 535.7,907 535.8,907 536,906.9 536.1,906.7 536.2,905.9 536.3,906.1 536.5,905.9 536.6,906.7 536.7,907 536.8,906.9 537,906.8 537.1,906 537.2,906.5 537.3,906.5 537.5,906.3 537.6,906.6 537.7,906.4 537.8,906.9 538,906.1 538.1,906.3 538.2,905.8 538.3,906.1 538.5,906.3 538.6,906.7 538.7,906.7 538.9,906.1 539,906.1 539.1,906.2 539.2,906.5 539.4,906.7 539.5,906.2 539.6,906.3 539.7,905.8 539.9,906 540,905.9 540.1,906.3 540.2,906.3 540.4,905.5 540.5,905.2 540.6,905 540.7,905.5 540.9,905.5 541,906.7 541.1,906.3 541.2,906.5 541.4,905.2 541.5,905.7 541.6,905.8 541.7,906.3 541.9,905.8 542,905.5 542.1,905.2 542.3,905.4 542.4,905.2 542.5,904.6 542.6,904.2 542.8,904.3 542.9,905.7 543,905.9 543.1,905.7 543.3,905.3 543.4,905.1 543.5,906.2 543.6,906.3 543.8,906.9 543.9,906 544,906.1 544.1,906.1 544.3,905.7 544.4,905.9 544.5,905.4 544.6,905.6 544.8,905.2 544.9,905.6 545,906 545.1,906.1 545.3,906 545.4,905.9 545.5,905.7 545.7,904.4 545.8,904.1 545.9,904 546,904.8 546.2,904.6 546.3,904.3 546.4,904.5 546.5,905.2 546.7,905 546.8,905 546.9,904.7 547,904.8 547.2,904.7 547.3,904.4 547.4,904.9 547.5,904.9 547.7,905.4 547.8,904.6 547.9,905.1 548,905.1 548.2,906 548.3,905.8 548.4,906.1 548.5,906.1 548.7,905.5 548.8,904.6 548.9,904.5 549,905.3 549.2,905.9 549.3,905.2 549.4,904.8 549.6,905.3 549.7,905.5 549.8,905.6 549.9,904.7 550.1,904.8 550.2,905.2 550.3,905 550.4,904.9 550.6,904.7 550.7,905.8 550.8,906.3 550.9,906.5 551.1,905.5 551.2,905.3 551.3,905.1 551.4,905.3 551.6,905.2 551.7,904.9 551.8,904.8 551.9,904.3 552.1,904.8 552.2,904.8 552.3,905.2 552.4,904.1 552.6,903.7 552.7,903.7 552.8,904.1 553,905.1 553.1,905.3 553.2,905.7 553.3,905 553.5,905 553.6,904.9 553.7,904.5 553.8,904.7 554,905.1 554.1,906.1 554.2,905.2 554.3,905.1 554.5,904.6 554.6,905.2 554.7,904.8 554.8,904.8 555,904.4 555.1,904.3 555.2,903.7 555.3,904 555.5,904 555.6,904.5 555.7,904.4 555.8,904.2 556,903.5 556.1,903.6 556.2,903 556.4,903.6 556.5,903.3 556.6,904.8 556.7,904.7 556.9,904.7 557,903.9 557.1,903.6 557.2,903.6 557.4,903.3 557.5,903.6 557.6,903.8 557.7,903.7 557.9,903.2 558,902.4 558.1,902.3 558.2,902.5 558.4,902.5 558.5,902.4 558.6,902.4 558.7,902.1 558.9,901.8 559,901.5 559.1,901.4 559.2,900.9 559.4,899.7 559.5,899.9 559.6,899.9 559.7,899.9 559.9,898.6 560,898 560.1,898.2 560.3,898.3 560.4,898.1 560.5,897.6 560.6,897.4 560.8,897.4 560.9,895.9 561,895.1 561.1,894.4 561.3,894.4 561.4,893.8 561.5,893 561.6,892.4 561.8,891.7 561.9,890.8 562,889.6 562.1,888 562.3,887 562.4,885.6 562.5,884.7 562.6,883.5 562.8,882.4 562.9,880.6 563,878.6 563.1,877.7 563.3,876 563.4,874.5 563.5,872.6 563.7,871.4 563.8,869.9 563.9,867.5 564,865.6 564.2,863.4 564.3,861.5 564.4,858.6 564.5,856.6 564.7,854.7 564.8,852.8 564.9,851 565,849.3 565.2,847.4 565.3,845.7 565.4,844.6 565.5,844.1 565.7,843.9 565.8,843.6 565.9,843.8 566,842.7 566.2,842.7 566.3,841.3 566.4,841.9 566.5,842 566.7,842.7 566.8,842.4 566.9,842.6 567.1,843 567.2,843 567.3,842.9 567.4,842.4 567.6,842.3 567.7,842.8 567.8,843.5 567.9,843.8 568.1,843.4 568.2,844.4 568.3,845.9 568.4,846.9 568.6,848.6 568.7,850.3 568.8,852.2 568.9,853.4 569.1,855.5 569.2,857.4 569.3,859.4 569.4,860.6 569.6,861.8 569.7,862.4 569.8,864.3 569.9,865.3 570.1,866.5 570.2,866.9 570.3,868.8 570.4,870 570.6,870.9 570.7,872.2 570.8,873.6 571,875.7 571.1,876 571.2,876.4 571.3,876.9 571.5,877.7 571.6,878.7 571.7,878.5 571.8,879.6 572,880.1 572.1,881.4 572.2,880.9 572.3,881.2 572.5,881.8 572.6,882.6 572.7,883.1 572.8,883.4 573,883.7 573.1,883.9 573.2,884.3 573.3,884.9 573.5,884.9 573.6,884.4 573.7,884.6 573.8,885.3 574,885.8 574.1,886 574.2,886.5 574.4,886.6 574.5,887 574.6,886.3 574.7,886.5 574.9,886.1 575,886.8 575.1,887.1 575.2,887.6 575.4,887.6 575.5,888.1 575.6,887.4 575.7,887.7 575.9,886.8 576,887 576.1,886.9 576.2,887 576.4,887.1 576.5,887 576.6,887.3 576.7,887.5 576.9,887.4 577,887.5 577.1,887.2 577.2,887 577.4,887 577.5,886.7 577.6,886.6 577.8,886.6 577.9,887.2 578,887.1 578.1,887 578.3,886.6 578.4,886.2 578.5,885.7 578.6,885.5 578.8,885.8 578.9,885.9 579,885.7 579.1,885.2 579.3,885.6 579.4,885.3 579.5,885.4 579.6,884.5 579.8,884.1 579.9,883.3 580,882.6 580.1,882.3 580.3,881.8 580.4,882 580.5,881.6 580.6,881.3 580.8,880.5 580.9,880 581,880.1 581.1,879.2 581.3,878.1 581.4,877.2 581.5,876.4 581.7,875.1 581.8,872.9 581.9,871.4 582,870.4 582.2,869.7 582.3,868.6 582.4,868.3 582.5,868 582.7,869.5 582.8,870.3 582.9,871.5 583,872.1 583.2,873.4 583.3,873.4 583.4,874 583.5,873.9 583.7,874.6 583.8,875.2 583.9,874.3 584,873.8 584.2,872.1 584.3,871.3 584.4,870.2 584.5,868.7 584.7,866.5 584.8,864.2 584.9,861.9 585.1,859.8 585.2,856.8 585.3,854.9 585.4,852.7 585.6,850.8 585.7,848.2 585.8,846.2 585.9,844.3 586.1,843 586.2,841.3 586.3,839.8 586.4,837.4 586.6,835.8 586.7,833.2 586.8,831 586.9,828.8 587.1,827.7 587.2,826 587.3,824.8 587.4,823.2 587.6,822.3 587.7,820.1 587.8,818.5 587.9,816.1 588.1,814.4 588.2,812.3 588.3,811.2 588.4,809.7 588.6,808.4 588.7,807.7 588.8,807.2 589,807.4 589.1,807 589.2,807 589.3,807.1 589.5,807.2 589.6,808.2 589.7,809.1 589.8,810.2 590,811.2 590.1,812.5 590.2,814 590.3,815.4 590.5,817.5 590.6,819.6 590.7,821.4 590.8,822.2 591,823.9 591.1,826.4 591.2,828.8 591.3,831 591.5,832.3 591.6,835.3 591.7,837.3 591.8,839.9 592,842.4 592.1,845.4 592.2,847.9 592.4,849.1 592.5,850.9 592.6,852.5 592.7,854.4 592.9,856.2 593,857.4 593.1,858.8 593.2,860.3 593.4,862 593.5,863.5 593.6,864.7 593.7,866.3 593.9,868 594,869.3 594.1,870.7 594.2,872 594.4,872.7 594.5,873.2 594.6,873.7 594.7,875.3 594.9,876.7 595,877.1 595.1,878 595.2,878.5 595.4,880 595.5,880.6 595.6,882 595.8,883.2 595.9,884.4 596,885.5 596.1,885.9 596.3,887.1 596.4,887.5 596.5,888.1 596.6,888 596.8,888.9 596.9,889.8 597,890.4 597.1,891.1 597.3,890.9 597.4,891.4 597.5,891.1 597.6,892.1 597.8,893.2 597.9,893.1 598,892.8 598.1,892.4 598.3,892.3 598.4,892.8 598.5,893.4 598.6,893.9 598.8,895 598.9,895.4 599,895.5 599.1,894.8 599.3,894.4 599.4,894.8 599.5,895.7 599.7,895.4 599.8,895.6 599.9,895.3 600,894.6 600.2,894.6 600.3,894.7 600.4,895.3 600.5,895.4 600.7,895.7 600.8,895.9 600.9,896.2 601,896.4 601.2,897.1 601.3,897.2 601.4,896.7 601.5,896.3 601.7,896.8 601.8,896.8 601.9,897.6 602,897.4 602.2,898.8 602.3,898.2 602.4,898 602.5,897.3 602.7,898 602.8,898 602.9,898.1 603.1,899.1 603.2,899.4 603.3,899.5 603.4,898.7 603.6,898.8 603.7,898.7 603.8,899 603.9,898.4 604.1,898.8 604.2,898.9 604.3,899.7 604.4,900.4 604.6,900.3 604.7,900.7 604.8,900.5 604.9,900.3 605.1,900.1 605.2,900.2 605.3,900.7 605.4,900.8 605.6,899.8 605.7,899.8 605.8,900 605.9,900.7 606.1,901.2 606.2,901.2 606.3,901.2 606.5,900.8 606.6,900.7 606.7,901.5 606.8,901.7 607,901.4 607.1,900.2 607.2,900 607.3,900.7 607.5,901.8 607.6,902.2 607.7,901.4 607.8,901.8 608,901.9 608.1,903.2 608.2,903 608.3,903.1 608.5,902.3 608.6,902 608.7,901.9 608.8,902.4 609,902.9 609.1,902.5 609.2,902.5 609.3,902.8 609.5,903.7 609.6,903.7 609.7,903.7 609.8,904 610,903.8 610.1,903.8 610.2,903.4 610.4,903.8 610.5,903.7 610.6,903.8 610.7,904.8 610.9,904.7 611,904.8 611.1,904.2 611.2,904.3 611.4,903.6 611.5,903 611.6,902.8 611.7,903.1 611.9,903.8 612,904.1 612.1,904.6 612.2,904.2 612.4,904 612.5,903.6 612.6,904 612.7,903.9 612.9,904.7 613,904.6 613.1,905.4 613.2,904.9 613.4,905.3 613.5,904.6 613.6,905.7 613.8,905 613.9,905.5 614,904.7 614.1,905.3 614.3,905.9 614.4,906.3 614.5,906.6 614.6,906.2 614.8,906.5 614.9,906.6 615,906.6 615.1,905.8 615.3,905.4 615.4,905.8 615.5,905.9 615.6,905.7 615.8,905.1 615.9,905.5 616,906.4 616.1,906.8 616.3,906.2 616.4,906.3 616.5,907 616.6,907.3 616.8,907.2 616.9,906.4 617,906.9 617.2,906.3 617.3,906.5 617.4,906.6 617.5,907.3 617.7,906.6 617.8,905.9 617.9,905.8 618,906.6 618.2,907.1 618.3,906.8 618.4,907 618.5,906.5 618.7,906.6 618.8,907.2 618.9,908.1 619,908.3 619.2,906.7 619.3,905.8 619.4,905.7 619.5,906.9 619.7,907.4 619.8,907.5 619.9,907.3 620,907.3 620.2,907.1 620.3,907.1 620.4,907.6 620.5,907.8 620.7,908.2 620.8,908 620.9,907.7 621.1,907.1 621.2,907.4 621.3,907.8 621.4,908 621.6,907.6 621.7,907.3 621.8,907.4 621.9,907.8 622.1,907.7 622.2,907.8 622.3,907.2 622.4,907.6 622.6,907.4 622.7,907.5 622.8,907.5 622.9,907.3 623.1,907.3 623.2,907.6 623.3,907.4 623.4,907.9 623.6,907.3 623.7,907.2 623.8,907.2 623.9,906.9 624.1,907.5 624.2,907.3 624.3,908.2 624.5,908.1 624.6,908 624.7,908 624.8,907.5 625,907.8 625.1,907.5 625.2,908.1 625.3,908.2 625.5,908.2 625.6,907.7 625.7,907.5 625.8,907.4 626,907.3 626.1,907.3 626.2,907.4 626.3,907.7 626.5,907.8 626.6,907.9 626.7,907.6 626.8,906.6 627,906.1 627.1,905.8 627.2,906.6 627.3,906.7 627.5,906.2 627.6,904.9 627.7,904.1 627.8,904.1 628,904.3 628.1,904.2 628.2,903.2 628.4,902 628.5,900.7 628.6,901.1 628.7,901.5 628.9,902.8 629,903.3 629.1,903.9 629.2,904.4 629.4,904.3 629.5,905.1 629.6,904.9 629.7,905.7 629.9,905.8 630,905.9 630.1,906.1 630.2,906 630.4,906.4 630.5,906 630.6,906.6 630.7,906.5 630.9,906.6 631,906.5 631.1,906.9 631.2,907.4 631.4,907.2 631.5,907.1 631.6,906.6 631.8,906.6 631.9,906.4 632,906.5 632.1,906.4 632.3,906.2 632.4,905.9 632.5,905.4 632.6,905.1 632.8,905 632.9,904.7 633,904.1 633.1,903.9 633.3,904.4 633.4,904 633.5,903.7 633.6,902.9 633.8,902.6 633.9,901.3 634,900.4 634.1,898.7 634.3,896.6 634.4,893.7 634.5,892.9 634.6,893.5 634.8,895.2 634.9,897.2 635,899.3 635.2,900.8 635.3,901.4 635.4,901.9 635.5,902.6 635.7,903.5 635.8,904 635.9,904.6 636,904.5 636.2,904.4 636.3,904.4 636.4,904.8 636.5,904.9 636.7,904.6 636.8,904.1 636.9,903.7 637,904.1 637.2,904.6 637.3,905.2 637.4,904.9 637.5,904.6 637.7,904.9 637.8,905.1 637.9,904.8 638,904.7 638.2,904.1 638.3,904 638.4,903.5 638.5,904.1 638.7,903.6 638.8,903.3 638.9,903.1 639.1,903.2 639.2,903.1 639.3,902.5 639.4,901.3 639.6,900.2 639.7,899 639.8,899 639.9,897.8 640.1,895.7 640.2,892.9 640.3,889.6 640.4,886 640.6,881.5 640.7,875.9 640.8,869.1 640.9,859.3 641.1,848.8 641.2,838.4 641.3,835 641.4,838.2 641.6,847.3 641.7,857.3 641.8,865.9 641.9,872.4 642.1,876.8 642.2,880.2 642.3,882.4 642.5,882.8 642.6,882.2 642.7,881.3 642.8,880.9 643,880.6 643.1,880.7 643.2,881.4 643.3,883.9 643.5,886.5 643.6,890 643.7,892.4 643.8,893.8 644,895.5 644.1,896.8 644.2,899 644.3,899.4 644.5,900.2 644.6,900.7 644.7,901.1 644.8,901.4 645,901.6 645.1,902.7 645.2,903.6 645.3,903.5 645.5,903.7 645.6,903.1 645.7,903.2 645.9,903 646,904 646.1,905 646.2,904.7 646.4,904.4 646.5,904.3 646.6,905 646.7,905 646.9,905 647,904.7 647.1,905.4 647.2,905.1 647.4,905 647.5,904.7 647.6,905.2 647.7,905.3 647.9,905 648,904.5 648.1,904.4 648.2,904.8 648.4,904.7 648.5,904.3 648.6,904.3 648.7,904.8 648.9,904.7 649,904.4 649.1,904.5 649.2,904.7 649.4,904.6 649.5,904.1 649.6,904.3 649.8,904.6 649.9,904.5 650,905 650.1,904.1 650.3,903.9 650.4,903.2 650.5,903.3 650.6,903.9 650.8,903.8 650.9,904.1 651,902.7 651.1,903 651.3,902.2 651.4,902 651.5,901.3 651.6,901.1 651.8,901.1 651.9,900.9 652,901.2 652.1,901.9 652.3,901.2 652.4,900.7 652.5,899.9 652.6,900.9 652.8,900.7 652.9,900.9 653,900.1 653.2,900.3 653.3,899.6 653.4,899.7 653.5,899.9 653.7,899.9 653.8,899.6 653.9,899.5 654,898.9 654.2,898.5 654.3,898.7 654.4,900 654.5,900.9 654.7,900.4 654.8,899.4 654.9,898.1 655,897.8 655.2,897.9 655.3,898.2 655.4,898.1 655.5,897.9 655.7,897.6 655.8,897.9 655.9,897.3 656,896.8 656.2,895.8 656.3,895 656.4,894.1 656.6,893.2 656.7,892.3 656.8,891.6 656.9,890.8 657.1,889.6 657.2,888.5 657.3,887.3 657.4,885.6 657.6,883.8 657.7,882.3 657.8,879.6 657.9,876.7 658.1,872.6 658.2,869 658.3,864.4 658.4,858.8 658.6,852.5 658.7,845.4 658.8,838 658.9,830.4 659.1,822.5 659.2,813.8 659.3,806.1 659.4,799.9 659.6,797.3 659.7,797.6 659.8,801.3 659.9,807.9 660.1,816.3 660.2,825.4 660.3,834.3 660.5,842.2 660.6,849.8 660.7,855.5 660.8,861.3 661,865.9 661.1,870.8 661.2,874.5 661.3,878.3 661.5,881 661.6,883.6 661.7,886 661.8,888.2 662,889.4 662.1,890.4 662.2,890.8 662.3,891.7 662.5,893.1 662.6,893.9 662.7,895.3 662.8,896.3 663,897.9 663.1,898.5 663.2,899.4 663.3,899.3 663.5,899.7 663.6,899.2 663.7,899.6 663.9,899.8 664,900.1 664.1,900.3 664.2,901.1 664.4,901.1 664.5,901.7 664.6,901.4 664.7,901.9 664.9,902.2 665,902.5 665.1,903.5 665.2,903.2 665.4,903 665.5,902.7 665.6,903.3 665.7,904.5 665.9,904.3 666,904.5 666.1,903.9 666.2,904.3 666.4,904.2 666.5,904.1 666.6,903.9 666.7,903.8 666.9,904.2 667,904.5 667.1,904.7 667.2,904.4"/>
<rect class="fr" x="407.1" y="657.2" width="260.1" height="261.4"/>
<path class="tk" d="M449.1 918.6v-5M491 918.6v-5M533 918.6v-5M574.9 918.6v-5M616.9 918.6v-5M658.9 918.6v-5M407.1 881.3h5M407.1 843.9h5M407.1 806.6h5M407.1 769.3h5M407.1 731.9h5M407.1 694.6h5"/>
<text x="407.1" y="931" font-size="12.5" text-anchor="middle">3500</text>
<text x="449.1" y="931" font-size="12.5" text-anchor="middle">3000</text>
<text x="491" y="931" font-size="12.5" text-anchor="middle">2500</text>
<text x="533" y="931" font-size="12.5" text-anchor="middle">2000</text>
<text x="574.9" y="931" font-size="12.5" text-anchor="middle">1500</text>
<text x="616.9" y="931" font-size="12.5" text-anchor="middle">1000</text>
<text x="658.9" y="931" font-size="12.5" text-anchor="middle">500</text>
<text x="400.3" y="883.7" font-size="12.5" text-anchor="end">1000</text>
<text x="400.3" y="846.4" font-size="12.5" text-anchor="end">2000</text>
<text x="400.3" y="809.1" font-size="12.5" text-anchor="end">3000</text>
<text x="400.3" y="771.7" font-size="12.5" text-anchor="end">4000</text>
<text x="400.3" y="734.4" font-size="12.5" text-anchor="end">5000</text>
<text x="400.3" y="697.1" font-size="12.5" text-anchor="end">6000</text>
<text x="400.3" y="921.1" font-size="12.5" text-anchor="end">0</text>
<text x="400.3" y="659.7" font-size="12.5" text-anchor="end">7000</text>
<text x="539.1" y="952.2" font-size="13.0" text-anchor="middle">Raman shift (cm<tspan font-size="7.3" dy="-6.5">-1</tspan><tspan dy="6.5">)</tspan></text>
<text transform="translate(364.3 789.8) rotate(-90)" font-size="13.05" text-anchor="middle">Raman intensity (a.u)</text>
</g>
<g id="panel-g">
<polyline class="cv" stroke-width="2.2" points="752.1,910.6 752.2,910.4 752.3,910.6 752.5,911.2 752.6,911.3 752.7,911.4 752.8,911.1 753,909.8 753.1,910.1 753.2,911.2 753.3,910.6 753.5,910.1 753.6,910.3 753.7,911 753.8,911 754,910.1 754.1,910.8 754.2,911.5 754.3,911.8 754.5,912.2 754.6,912.2 754.7,911.6 754.8,911.2 755,910.9 755.1,910.1 755.2,910.4 755.3,911.9 755.5,912 755.6,910.6 755.7,910.3 755.8,911.1 756,911.4 756.1,911.1 756.2,911.2 756.3,910.1 756.5,910 756.6,910.6 756.7,909.7 756.8,910 757,910.5 757.1,910.1 757.2,910 757.3,910.7 757.5,910.7 757.6,909.2 757.7,910.1 757.8,910.3 758,909.4 758.1,910.2 758.2,909.1 758.3,908.3 758.5,910.1 758.6,910.4 758.7,909.4 758.8,909.5 759,909.5 759.1,909.4 759.2,909.4 759.3,908.5 759.5,909.2 759.6,909.9 759.7,909.7 759.8,909.7 760,910.1 760.1,910.5 760.2,909.9 760.3,909.1 760.5,908.3 760.6,909.5 760.7,910.5 760.8,909.4 761,910.1 761.1,910.6 761.2,909.6 761.3,908.6 761.5,908.1 761.6,909 761.7,909.5 761.8,909.4 761.9,908.4 762.1,908.4 762.2,909.4 762.3,909 762.4,908.8 762.6,909.1 762.7,909.6 762.8,909.5 762.9,909.1 763.1,908.4 763.2,907.8 763.3,908.4 763.4,908.3 763.6,908.5 763.7,908.2 763.8,908 763.9,908.3 764.1,908.9 764.2,909 764.3,909.2 764.4,910.5 764.6,909.7 764.7,909.1 764.8,908.8 764.9,907 765.1,907.5 765.2,909.1 765.3,908.5 765.4,907.8 765.6,908 765.7,908.3 765.8,907.8 765.9,907.3 766.1,908.3 766.2,908.6 766.3,907.9 766.4,908.4 766.6,908.3 766.7,908.1 766.8,907.7 766.9,907 767.1,907.5 767.2,907.9 767.3,907.9 767.4,908.7 767.6,909.2 767.7,907.8 767.8,908.3 767.9,908 768.1,907.7 768.2,907.7 768.3,907.2 768.4,907.1 768.6,906.5 768.7,907.7 768.8,907.1 768.9,905.3 769.1,906 769.2,906.9 769.3,906.9 769.4,907.2 769.6,906.5 769.7,906.2 769.8,906.8 769.9,906.8 770.1,907.1 770.2,907.3 770.3,906.2 770.4,905.5 770.6,905.6 770.7,905.5 770.8,906.3 770.9,906.5 771,906.3 771.2,906.1 771.3,905.9 771.4,906 771.5,906.5 771.7,906.7 771.8,905 771.9,904.8 772,906.3 772.2,905.6 772.3,904.2 772.4,905.1 772.5,906 772.7,905.5 772.8,906.3 772.9,905.4 773,904.4 773.2,904.7 773.3,905 773.4,904.8 773.5,904.6 773.7,904.8 773.8,905.1 773.9,905.6 774,904.2 774.2,903.7 774.3,904.3 774.4,903.9 774.5,904.3 774.7,904.5 774.8,903.8 774.9,903.6 775,904 775.2,903.8 775.3,902.9 775.4,902.5 775.5,902.9 775.7,903.5 775.8,904.4 775.9,903.5 776,902.2 776.2,902.7 776.3,902.9 776.4,902.3 776.5,902.1 776.7,901.9 776.8,902.6 776.9,902.2 777,902.6 777.2,902.9 777.3,901.9 777.4,901.8 777.5,901 777.7,900.5 777.8,902.2 777.9,903.9 778,902.7 778.2,902.3 778.3,902.7 778.4,901.6 778.5,902.4 778.7,904 778.8,902.9 778.9,901.6 779,901.8 779.2,901.8 779.3,902.1 779.4,902.9 779.5,902.4 779.7,902.1 779.8,902.8 779.9,901.9 780,901 780.2,901 780.3,901.4 780.4,902 780.5,901.9 780.6,902 780.8,901.2 780.9,901.1 781,901 781.1,900.3 781.3,899.3 781.4,900.2 781.5,900.7 781.6,899.9 781.8,900.4 781.9,901.1 782,901.3 782.1,900 782.3,899.7 782.4,900 782.5,900 782.6,899.4 782.8,899.2 782.9,901 783,901.3 783.1,901.1 783.3,902.4 783.4,901.6 783.5,898.9 783.6,898.5 783.8,899.9 783.9,900.3 784,899 784.1,898.3 784.3,898.8 784.4,898.9 784.5,898.8 784.6,898.3 784.8,897.9 784.9,898.2 785,899 785.1,898.8 785.3,898.5 785.4,898.1 785.5,898.4 785.6,899 785.8,898.2 785.9,898.8 786,897.7 786.1,896.1 786.3,897.3 786.4,897.6 786.5,897 786.6,898.9 786.8,898.9 786.9,897.4 787,897.4 787.1,897.9 787.3,898 787.4,897.4 787.5,896.6 787.6,896.2 787.8,896.8 787.9,896.1 788,896.3 788.1,897.3 788.3,897.9 788.4,896.8 788.5,895.1 788.6,895.4 788.8,895.5 788.9,895.9 789,896.1 789.1,896.2 789.3,896.4 789.4,896.1 789.5,895.1 789.6,894.7 789.8,895.5 789.9,896.1 790,896.3 790.1,895 790.2,894.3 790.4,895.1 790.5,895.5 790.6,896.1 790.7,895.8 790.9,894.7 791,894.8 791.1,895.3 791.2,895.1 791.4,894.8 791.5,895.5 791.6,895.6 791.7,895.1 791.9,894.4 792,894.3 792.1,894.4 792.2,893 792.4,893.4 792.5,894.5 792.6,894.1 792.7,893.7 792.9,894.2 793,893.9 793.1,892.1 793.2,892.4 793.4,893.6 793.5,893.9 793.6,893.5 793.7,893.5 793.9,894.2 794,892.7 794.1,892.5 794.2,892.5 794.4,891 794.5,891.3 794.6,891.7 794.7,890.7 794.9,891 795,892.2 795.1,892.8 795.2,892.3 795.4,890.6 795.5,889.9 795.6,891.1 795.7,892 795.9,891.6 796,890.8 796.1,890.5 796.2,890.4 796.4,890 796.5,890.1 796.6,890.2 796.7,889.7 796.9,889.6 797,889.3 797.1,888.1 797.2,887.9 797.4,888.7 797.5,889.9 797.6,889.5 797.7,889.6 797.9,890.4 798,888.7 798.1,887.4 798.2,887.8 798.4,888.9 798.5,888.9 798.6,888.1 798.7,887.4 798.9,885.5 799,885.6 799.1,887.1 799.2,887.6 799.3,887 799.5,886.3 799.6,886.7 799.7,886.3 799.8,886.1 800,885.3 800.1,883.9 800.2,883.7 800.3,884.3 800.5,884.4 800.6,883.9 800.7,884.2 800.8,884 801,884.2 801.1,884.6 801.2,883.2 801.3,882.3 801.5,882.6 801.6,882 801.7,883.3 801.8,884.5 802,883.7 802.1,883.3 802.2,883.9 802.3,883.8 802.5,883.7 802.6,885.1 802.7,885.9 802.8,884.9 803,884.3 803.1,885.9 803.2,885.5 803.3,884.2 803.5,884.3 803.6,885 803.7,886 803.8,886.5 804,885 804.1,884.5 804.2,885.1 804.3,885.4 804.5,886.3 804.6,886.9 804.7,887.3 804.8,885.8 805,886.4 805.1,886.4 805.2,885.5 805.3,886.7 805.5,887.2 805.6,886.9 805.7,886.7 805.8,886.8 806,887.2 806.1,887.1 806.2,887.2 806.3,887.7 806.5,887.2 806.6,886 806.7,886.8 806.8,887.3 807,886.8 807.1,887.4 807.2,886.5 807.3,886.3 807.5,885.9 807.6,886 807.7,886.6 807.8,886.3 808,887 808.1,886.5 808.2,886.2 808.3,886.1 808.5,886.1 808.6,887 808.7,887 808.8,886.4 808.9,885.8 809.1,886.3 809.2,886.8 809.3,887.3 809.4,886.9 809.6,886.5 809.7,887.9 809.8,887.3 809.9,885.6 810.1,886.4 810.2,887.6 810.3,887.2 810.4,887.2 810.6,886.5 810.7,886.3 810.8,886.9 810.9,886.1 811.1,886.2 811.2,886.2 811.3,886.3 811.4,887.2 811.6,887.7 811.7,885.9 811.8,885.1 811.9,886 812.1,885.8 812.2,885.8 812.3,885.7 812.4,884.8 812.6,885.3 812.7,887.3 812.8,887.2 812.9,887.1 813.1,886.1 813.2,884.9 813.3,885.8 813.4,887 813.6,886.6 813.7,885.1 813.8,886.4 813.9,886.9 814.1,885.9 814.2,885.6 814.3,885.6 814.4,886.3 814.6,886.5 814.7,886.9 814.8,885.3 814.9,884.2 815.1,885.2 815.2,886.2 815.3,887 815.4,886.7 815.6,885.6 815.7,885.5 815.8,885.5 815.9,886 816.1,886 816.2,885.4 816.3,884.6 816.4,883.6 816.6,884.3 816.7,885.8 816.8,885.7 816.9,885.6 817.1,886 817.2,885.7 817.3,885.9 817.4,885.5 817.6,885 817.7,885.1 817.8,885.2 817.9,885.7 818.1,886.2 818.2,885.9 818.3,885.7 818.4,885.4 818.5,885.1 818.7,886 818.8,885.9 818.9,885.9 819,886.3 819.2,885.7 819.3,886.6 819.4,886.3 819.5,885.1 819.7,885.3 819.8,885.6 819.9,885.7 820,886.1 820.2,886 820.3,885.8 820.4,885.6 820.5,886 820.7,885.9 820.8,885.2 820.9,885.4 821,885.8 821.2,885.4 821.3,886.1 821.4,886.2 821.5,885.2 821.7,885.3 821.8,885.2 821.9,885.8 822,886.2 822.2,885.5 822.3,885.1 822.4,885.4 822.5,886.5 822.7,886.4 822.8,884.9 822.9,884.7 823,885.2 823.2,886.7 823.3,886.3 823.4,885.6 823.5,887.5 823.7,887.3 823.8,886.7 823.9,887.7 824,887.3 824.2,885.9 824.3,885.7 824.4,886.3 824.5,885.2 824.7,884.5 824.8,885.6 824.9,886.6 825,887.3 825.2,887.6 825.3,886.7 825.4,886.1 825.5,886.3 825.7,886 825.8,886.5 825.9,887.2 826,886.4 826.2,886 826.3,885.9 826.4,886 826.5,886.8 826.7,886.9 826.8,887.3 826.9,888.4 827,887.6 827.2,886.7 827.3,886.9 827.4,887.9 827.5,888.3 827.6,887.7 827.8,888 827.9,889 828,888.7 828.1,887 828.3,886.6 828.4,887.5 828.5,887.7 828.6,887 828.8,888.6 828.9,889.1 829,887.3 829.1,886.9 829.3,886.3 829.4,886.1 829.5,886.9 829.6,887.4 829.8,887.2 829.9,887.7 830,888.2 830.1,887.4 830.3,886.4 830.4,887 830.5,888.1 830.6,888 830.8,887.3 830.9,887.4 831,887.4 831.1,888 831.3,888.9 831.4,888.5 831.5,888 831.6,887.4 831.8,888.7 831.9,889.9 832,888.9 832.1,888.8 832.3,889.9 832.4,889 832.5,887.9 832.6,888.2 832.8,888.8 832.9,888.6 833,888.5 833.1,888.5 833.3,888.9 833.4,890 833.5,889.5 833.6,889.4 833.8,889.2 833.9,888.7 834,889.6 834.1,889.8 834.3,889.5 834.4,889.1 834.5,889.3 834.6,890.1 834.8,889.1 834.9,887.7 835,887.3 835.1,888.5 835.3,889.6 835.4,888.8 835.5,889 835.6,890.5 835.8,890.4 835.9,889.6 836,890.2 836.1,891.4 836.3,891.8 836.4,890.6 836.5,890.2 836.6,890.7 836.8,890.2 836.9,889.8 837,890.2 837.1,890.3 837.2,890.7 837.4,891.2 837.5,891.3 837.6,890.5 837.7,890 837.9,891.1 838,891.3 838.1,891.1 838.2,890.5 838.4,891.3 838.5,892.3 838.6,891.7 838.7,889.7 838.9,889 839,890.6 839.1,890.7 839.2,889.6 839.4,890.1 839.5,891.5 839.6,890.8 839.7,890.3 839.9,890.7 840,891.2 840.1,890.6 840.2,889.4 840.4,890.2 840.5,890.8 840.6,892.3 840.7,892.3 840.9,891.3 841,891.5 841.1,891 841.2,891.5 841.4,892.9 841.5,892.5 841.6,892 841.7,892.4 841.9,892.4 842,892.4 842.1,893.4 842.2,892.6 842.4,891.2 842.5,891.2 842.6,890.3 842.7,890.9 842.9,893.1 843,893.6 843.1,893.3 843.2,893.1 843.4,892.4 843.5,893.3 843.6,893.2 843.7,892.9 843.9,893 844,892.2 844.1,892.6 844.2,892.6 844.4,892.7 844.5,893 844.6,893.7 844.7,893.4 844.9,891.5 845,890.4 845.1,890.7 845.2,891.4 845.4,892.6 845.5,892.2 845.6,891.9 845.7,892.7 845.9,892.9 846,892.8 846.1,892.9 846.2,893 846.4,893.4 846.5,893.6 846.6,891.8 846.7,891.6 846.8,893 847,892.7 847.1,892.2 847.2,893.2 847.3,893.7 847.5,892.6 847.6,892.4 847.7,892.8 847.8,892.1 848,892.6 848.1,893.4 848.2,893.4 848.3,892.6 848.5,893.4 848.6,894.7 848.7,893.9 848.8,893.2 849,892.6 849.1,892.2 849.2,893.4 849.3,893.8 849.5,893.1 849.6,893.9 849.7,893.5 849.8,893.6 850,895.1 850.1,894.8 850.2,894.5 850.3,894.7 850.5,893.7 850.6,893.1 850.7,892.5 850.8,892.8 851,894.5 851.1,894.9 851.2,894.5 851.3,894.8 851.5,894.1 851.6,893.8 851.7,895.1 851.8,894.4 852,893.4 852.1,893.6 852.2,893.5 852.3,893.3 852.5,893.4 852.6,893.1 852.7,892.9 852.8,893.4 853,893.4 853.1,894.4 853.2,894.7 853.3,894.1 853.5,893.9 853.6,894.5 853.7,893.7 853.8,892.9 854,894.5 854.1,895.5 854.2,895 854.3,894.1 854.5,894.4 854.6,894.3 854.7,894.3 854.8,894 855,894.1 855.1,894.4 855.2,893.4 855.3,892 855.5,893.1 855.6,894.8 855.7,894.7 855.8,894 855.9,894.2 856.1,894.9 856.2,894.3 856.3,894.5 856.4,895 856.6,894.7 856.7,895.4 856.8,895.9 856.9,894.9 857.1,894 857.2,893.9 857.3,894.9 857.4,895.1 857.6,893.6 857.7,893 857.8,893.5 857.9,894.2 858.1,893.8 858.2,893.6 858.3,894.6 858.4,894.6 858.6,893.1 858.7,892.5 858.8,892.7 858.9,893 859.1,893.1 859.2,893.1 859.3,893.7 859.4,891.9 859.6,891.4 859.7,893 859.8,893.4 859.9,892.9 860.1,892.1 860.2,892.5 860.3,894.1 860.4,894 860.6,892.9 860.7,892.7 860.8,891.9 860.9,891.7 861.1,892 861.2,892.7 861.3,892.6 861.4,890.8 861.6,890.8 861.7,891.8 861.8,892.1 861.9,891.2 862.1,891.8 862.2,892.8 862.3,892 862.4,891.5 862.6,891.9 862.7,892.1 862.8,892 862.9,892.1 863.1,892 863.2,892.7 863.3,892.6 863.4,891.4 863.6,891.9 863.7,892.5 863.8,891.6 863.9,892 864.1,892.3 864.2,892.3 864.3,891.7 864.4,889.9 864.6,889.4 864.7,890.8 864.8,891.5 864.9,891.3 865.1,891.6 865.2,890.8 865.3,891.6 865.4,891.9 865.5,891.2 865.7,890.9 865.8,890.8 865.9,892 866,891.9 866.2,891.1 866.3,891.2 866.4,891.4 866.5,891.7 866.7,893.1 866.8,892.3 866.9,890.8 867,891.2 867.2,891.5 867.3,891 867.4,891.3 867.5,892.3 867.7,892.1 867.8,891.1 867.9,891.7 868,891.7 868.2,891.3 868.3,892.6 868.4,891.5 868.5,891 868.7,892.4 868.8,892.5 868.9,891.3 869,890.4 869.2,891.2 869.3,891.6 869.4,891 869.5,891.5 869.7,891.7 869.8,891.4 869.9,891.9 870,892.1 870.2,891.8 870.3,891.5 870.4,891.9 870.5,892.1 870.7,891.2 870.8,890.8 870.9,890.9 871,890.4 871.2,890.5 871.3,889.9 871.4,890.7 871.5,891.5 871.7,891.3 871.8,890.7 871.9,889.5 872,891.7 872.2,893.1 872.3,891.7 872.4,890.7 872.5,890.7 872.7,891.1 872.8,891.3 872.9,890.9 873,891.2 873.2,891 873.3,892.2 873.4,892.4 873.5,891.7 873.7,891.5 873.8,891.1 873.9,892.1 874,891.8 874.2,891.8 874.3,892.5 874.4,892.8 874.5,892.3 874.6,891.2 874.8,890.6 874.9,890.9 875,890.9 875.1,890.8 875.3,891.5 875.4,891.1 875.5,890.5 875.6,891 875.8,891.7 875.9,891.6 876,891.4 876.1,891.8 876.3,891.3 876.4,891 876.5,891.3 876.6,891.6 876.8,891.6 876.9,890.9 877,891.3 877.1,890.4 877.3,890 877.4,890.1 877.5,889.8 877.6,891.1 877.8,891.9 877.9,891.2 878,891 878.1,891.2 878.3,891.4 878.4,892.4 878.5,892.4 878.6,892.6 878.8,892.2 878.9,891.4 879,892 879.1,891.7 879.3,891.1 879.4,891.8 879.5,892.9 879.6,892.7 879.8,892.8 879.9,892.8 880,890.7 880.1,890.8 880.3,891.3 880.4,891.4 880.5,891.6 880.6,891 880.8,891.2 880.9,890.7 881,889.7 881.1,889.9 881.3,890.8 881.4,891.4 881.5,891.1 881.6,890.7 881.8,890.5 881.9,890.4 882,889.9 882.1,890.9 882.3,892.1 882.4,890.5 882.5,890.5 882.6,891.4 882.8,891.3 882.9,891.6 883,891.4 883.1,889.2 883.3,888.7 883.4,890.6 883.5,891.7 883.6,891.3 883.8,890.2 883.9,890.5 884,891.4 884.1,890.4 884.2,889.5 884.4,890.2 884.5,891.3 884.6,891.9 884.7,891.7 884.9,892 885,891.2 885.1,890.3 885.2,890.4 885.4,889 885.5,888.6 885.6,890.3 885.7,890.4 885.9,889.1 886,890 886.1,891.1 886.2,890.7 886.4,891.1 886.5,890.2 886.6,890.6 886.7,892 886.9,890.8 887,890.3 887.1,890 887.2,889.7 887.4,889.9 887.5,889.4 887.6,890.5 887.7,891.1 887.9,890.3 888,890.2 888.1,889.6 888.2,890.2 888.4,890.6 888.5,889.7 888.6,889.1 888.7,889.9 888.9,888.9 889,887.2 889.1,889.1 889.2,890.2 889.4,888 889.5,887.7 889.6,889 889.7,889.5 889.9,889.9 890,889.9 890.1,889.9 890.2,889.3 890.4,889.2 890.5,889.8 890.6,890.2 890.7,890 890.9,889.8 891,889.9 891.1,888.8 891.2,888.4 891.4,888.7 891.5,888.7 891.6,888.9 891.7,889.1 891.9,889.3 892,888.8 892.1,889.2 892.2,888.9 892.4,888.2 892.5,889.3 892.6,889.6 892.7,889.5 892.9,889.1 893,889.1 893.1,888.5 893.2,888.5 893.4,890.4 893.5,890.4 893.6,890.2 893.7,889.7 893.8,888 894,887.6 894.1,888.9 894.2,889.6 894.3,887.8 894.5,887.2 894.6,888.1 894.7,887.7 894.8,886.3 895,886.1 895.1,887.3 895.2,887.8 895.3,887.5 895.5,888 895.6,888.9 895.7,888.4 895.8,888.3 896,888.3 896.1,887.7 896.2,886.3 896.3,886.8 896.5,888.1 896.6,887.6 896.7,887.3 896.8,886.5 897,886.9 897.1,887.9 897.2,888.4 897.3,888.4 897.5,887.1 897.6,886.4 897.7,887.2 897.8,887.3 898,886.5 898.1,885.9 898.2,886.1 898.3,886.3 898.5,886.8 898.6,887.1 898.7,885 898.8,885.4 899,886.3 899.1,884.7 899.2,884.5 899.3,884.9 899.5,884.5 899.6,883.8 899.7,883.5 899.8,884.3 900,884 900.1,883.2 900.2,883.1 900.3,882.2 900.5,881.3 900.6,880.6 900.7,880.9 900.8,880.5 901,879.3 901.1,878.8 901.2,878.3 901.3,878.7 901.5,879.2 901.6,878.2 901.7,878.5 901.8,878.4 902,877.5 902.1,877.3 902.2,877.4 902.3,877 902.5,875.4 902.6,873.6 902.7,872.3 902.8,871.9 902.9,871.7 903.1,871.2 903.2,869.9 903.3,868.5 903.4,867.3 903.6,865.1 903.7,864.2 903.8,864.8 903.9,864 904.1,862.7 904.2,861.6 904.3,858.6 904.4,856.4 904.6,856.5 904.7,854.8 904.8,851.7 904.9,850.7 905.1,850.2 905.2,848.4 905.3,845.8 905.4,843 905.6,840.1 905.7,837.1 905.8,834.3 905.9,831.3 906.1,828.5 906.2,826.9 906.3,824 906.4,819.6 906.6,816.3 906.7,812.4 906.8,808.8 906.9,806.2 907.1,801.6 907.2,797.1 907.3,794.3 907.4,790.6 907.6,786.6 907.7,783.1 907.8,781 907.9,777.3 908.1,771.7 908.2,767.3 908.3,762.4 908.4,756.7 908.6,752.8 908.7,750 908.8,744.7 908.9,740.9 909.1,739.7 909.2,736.9 909.3,733.7 909.4,732.1 909.6,729.7 909.7,727.5 909.8,726.5 909.9,724.3 910.1,721.8 910.2,720.9 910.3,720.1 910.4,719 910.6,717.3 910.7,717.7 910.8,718.7 910.9,718.7 911.1,720.1 911.2,720.3 911.3,720.5 911.4,721 911.6,722.2 911.7,724.3 911.8,725.8 911.9,726.2 912.1,726.6 912.2,727.2 912.3,728.6 912.4,730.4 912.5,731.5 912.7,733.9 912.8,737.7 912.9,740.6 913,742.8 913.2,743.5 913.3,745.5 913.4,748 913.5,749.4 913.7,751.3 913.8,753.2 913.9,756.1 914,758.6 914.2,760 914.3,761.3 914.4,763.1 914.5,764.7 914.7,765 914.8,767.3 914.9,769.5 915,770.4 915.2,771.8 915.3,772.2 915.4,773.6 915.5,774.9 915.7,776.9 915.8,777.8 915.9,778.4 916,779.6 916.2,780.1 916.3,782.8 916.4,784.1 916.5,783.3 916.7,782.6 916.8,783.2 916.9,784.5 917,786 917.2,785.9 917.3,784.7 917.4,786 917.5,787.7 917.7,789.1 917.8,789 917.9,787 918,787.6 918.2,788.8 918.3,789.2 918.4,790.8 918.5,790.6 918.7,791 918.8,792.1 918.9,791.3 919,790.8 919.2,790.8 919.3,791 919.4,791.6 919.5,792.4 919.7,791.8 919.8,791.3 919.9,791.8 920,791.8 920.2,791 920.3,791 920.4,791.1 920.5,790.6 920.7,789.3 920.8,787.7 920.9,786.2 921,786.8 921.2,787.8 921.3,786 921.4,785.2 921.5,785.3 921.7,783.7 921.8,783.1 921.9,784 922,783.8 922.1,782.1 922.3,780.2 922.4,780.1 922.5,779.7 922.6,777.4 922.8,775.3 922.9,774.6 923,773.2 923.1,771.1 923.3,771 923.4,770 923.5,767.2 923.6,765.8 923.8,765.7 923.9,764 924,760.8 924.1,758.2 924.3,758.3 924.4,756.1 924.5,754 924.6,753.4 924.8,750.6 924.9,749.2 925,748.4 925.1,748.1 925.3,746.4 925.4,744.6 925.5,744.8 925.6,741.2 925.8,737.8 925.9,736.7 926,735.9 926.1,734.4 926.3,731.3 926.4,729.6 926.5,728.8 926.6,728.7 926.8,727.2 926.9,726.1 927,725.4 927.1,722.5 927.3,720.6 927.4,719.3 927.5,717.4 927.6,714.9 927.8,712.9 927.9,712.8 928,711.7 928.1,711.1 928.3,711 928.4,709.1 928.5,708.8 928.6,708.5 928.8,707.7 928.9,706.6 929,704.1 929.1,703.7 929.3,703.6 929.4,702.9 929.5,702.8 929.6,702.2 929.8,700 929.9,697.3 930,697.1 930.1,698.2 930.3,697.4 930.4,696.6 930.5,696.1 930.6,695.2 930.8,695.1 930.9,694.6 931,694.8 931.1,695.1 931.2,695.6 931.4,695.5 931.5,695.3 931.6,695.2 931.7,695.1 931.9,695.2 932,694.7 932.1,695.9 932.2,697 932.4,697.2 932.5,696.8 932.6,695.9 932.7,696.4 932.9,698.2 933,698.5 933.1,699.8 933.2,700.5 933.4,700.8 933.5,703.9 933.6,702.8 933.7,701.1 933.9,703.9 934,705.4 934.1,705.7 934.2,706.5 934.4,708 934.5,709.3 934.6,709.2 934.7,709.7 934.9,710.3 935,711.5 935.1,712 935.2,713.6 935.4,715.9 935.5,717.8 935.6,719.9 935.7,719.4 935.9,720.5 936,722.2 936.1,723 936.2,725.2 936.4,726.7 936.5,727.7 936.6,729 936.7,729.6 936.9,730.2 937,732.1 937.1,734.2 937.2,734.8 937.4,735.5 937.5,736.2 937.6,735.7 937.7,736.9 937.9,739.4 938,741 938.1,742.5 938.2,744 938.4,745.1 938.5,745.9 938.6,746.6 938.7,747 938.9,748.1 939,749.6 939.1,751.1 939.2,751.1 939.4,751.2 939.5,752.1 939.6,753 939.7,754.2 939.9,755.8 940,757.2 940.1,756.5 940.2,758.6 940.4,760.5 940.5,759.8 940.6,761.2 940.7,762.7 940.8,763.2 941,765 941.1,766.4 941.2,767.5 941.3,769.1 941.5,769.9 941.6,770.5 941.7,771 941.8,771.6 942,773.4 942.1,773.4 942.2,772.9 942.3,774.5 942.5,776.2 942.6,777.6 942.7,777.9 942.8,778.5 943,780.6 943.1,781.3 943.2,779.5 943.3,781.8 943.5,783.7 943.6,783.3 943.7,784.7 943.8,785 944,786.4 944.1,787.9 944.2,787.2 944.3,788.2 944.5,790 944.6,790.7 944.7,791.4 944.8,791.4 945,792.4 945.1,793.6 945.2,794.5 945.3,795.4 945.5,795.5 945.6,798.1 945.7,798.7 945.8,798.6 946,799.5 946.1,798.7 946.2,799.8 946.3,802 946.5,801.2 946.6,801.2 946.7,801.8 946.8,802.4 947,804.4 947.1,805.3 947.2,804.7 947.3,804.7 947.5,806.1 947.6,807.2 947.7,807.8 947.8,808.8 948,808.2 948.1,808.5 948.2,810.8 948.3,811.7 948.5,811.2 948.6,811.1 948.7,812.2 948.8,813.5 949,813.9 949.1,815.1 949.2,816.4 949.3,815.5 949.5,815.5 949.6,816.3 949.7,815.9 949.8,816.2 950,817.4 950.1,817.1 950.2,817.2 950.3,819.1 950.4,819.6 950.6,819.6 950.7,821 950.8,821.7 950.9,821.7 951.1,823.4 951.2,823.8 951.3,823.3 951.4,823.9 951.6,825.1 951.7,825.5 951.8,825 951.9,825.2 952.1,826.2 952.2,826.3 952.3,826.8 952.4,827.7 952.6,826.6 952.7,827.3 952.8,828.8 952.9,828.1 953.1,828.5 953.2,829.6 953.3,829.7 953.4,829.3 953.6,831.1 953.7,832.5 953.8,832.2 953.9,832.7 954.1,833 954.2,833.2 954.3,832.9 954.4,833.2 954.6,833.7 954.7,833.3 954.8,834.1 954.9,834.6 955.1,833.5 955.2,833.7 955.3,835.4 955.4,835.9 955.6,836.3 955.7,836.4 955.8,835.7 955.9,836.6 956.1,837.5 956.2,836.7 956.3,837.1 956.4,837.9 956.6,838.5 956.7,839.4 956.8,839.3 956.9,837.9 957.1,838.1 957.2,839.9 957.3,840.2 957.4,840.3 957.6,839.8 957.7,839.9 957.8,839.4 957.9,839.6 958.1,840.2 958.2,840.3 958.3,841 958.4,842.2 958.6,842.9 958.7,842.3 958.8,842.6 958.9,843.9 959.1,843.5 959.2,842.7 959.3,843.7 959.4,843.8 959.5,843.9 959.7,843.7 959.8,844.4 959.9,845.3 960,844.6 960.2,844.2 960.3,844.7 960.4,845.3 960.5,845.7 960.7,845.6 960.8,844.6 960.9,845.3 961,845.3 961.2,844.4 961.3,845.6 961.4,845.8 961.5,846.5 961.7,848.1 961.8,848.1 961.9,847.5 962,847.1 962.2,847.3 962.3,847.2 962.4,848.2 962.5,848.1 962.7,847.9 962.8,848.6 962.9,848.2 963,848.6 963.2,849.2 963.3,849.2 963.4,848.6 963.5,847.8 963.7,847.5 963.8,848.5 963.9,849.3 964,849.4 964.2,848.8 964.3,849.5 964.4,849.1 964.5,848.3 964.7,849.5 964.8,849.1 964.9,848.2 965,848.2 965.2,848.3 965.3,848.5 965.4,848.5 965.5,847.9 965.7,848.7 965.8,848.7 965.9,848.6 966,849.4 966.2,850 966.3,850.3 966.4,849.4 966.5,850 966.7,850.2 966.8,849.3 966.9,849.5 967,851 967.2,851.3 967.3,849.7 967.4,850.1 967.5,850.4 967.7,851.4 967.8,851.1 967.9,850.1 968,850 968.2,850.7 968.3,850.8 968.4,849.9 968.5,849.9 968.7,850.3 968.8,851.1 968.9,849.3 969,849.5 969.1,851.1 969.3,850.8 969.4,851 969.5,850.2 969.6,848.7 969.8,849.8 969.9,851.7 970,850.7 970.1,849.1 970.3,849.3 970.4,849.3 970.5,850.2 970.6,851 970.8,851.3 970.9,852 971,850.7 971.1,850.3 971.3,849.5 971.4,849.1 971.5,850.8 971.6,850.4 971.8,849 971.9,849.2 972,850.9 972.1,851 972.3,849.5 972.4,850 972.5,851.2 972.6,850.4 972.8,849.9 972.9,851.1 973,851.4 973.1,851.2 973.3,850.8 973.4,850.3 973.5,849.9 973.6,849.5 973.8,851 973.9,851.2 974,849.8 974.1,849.8 974.3,849.7 974.4,850.3 974.5,851.4 974.6,850.6 974.8,850.7 974.9,852.4 975,851.2 975.1,850.4 975.3,851.2 975.4,851.6 975.5,852.1 975.6,852 975.8,851.4 975.9,850.6 976,851.7 976.1,851.5 976.3,850.8 976.4,851.9 976.5,850.8 976.6,850.3 976.8,851.5 976.9,850.4 977,850 977.1,850.9 977.3,850.3 977.4,849.7 977.5,850 977.6,850.3 977.8,850.4 977.9,850.3 978,850.4 978.1,851.2 978.3,849.7 978.4,849.3 978.5,850.3 978.6,849.2 978.7,849 978.9,850.7 979,850.5 979.1,850.7 979.2,850.5 979.4,849.1 979.5,850.1 979.6,851.1 979.7,850.6 979.9,850.3 980,850.9 980.1,850.6 980.2,851.2 980.4,851.7 980.5,850.8 980.6,850.7 980.7,850.2 980.9,850.8 981,850.6 981.1,850 981.2,850.7 981.4,851.3 981.5,851.6 981.6,850.6 981.7,850.4 981.9,850.6 982,849.4 982.1,848.8 982.2,848.5 982.4,849.2 982.5,850.6 982.6,849.8 982.7,848.9 982.9,848.8 983,848.8 983.1,848.5 983.2,847.7 983.4,847.5 983.5,847 983.6,846.1 983.7,844.8 983.9,843.7 984,843.6 984.1,845.3 984.2,846.3 984.4,847 984.5,848 984.6,848.4 984.7,849.3 984.9,848.3 985,848.4 985.1,850.4 985.2,850.7 985.4,850.2 985.5,848.6 985.6,848.3 985.7,849 985.9,849.7 986,850 986.1,849.1 986.2,848.3 986.4,849.1 986.5,849.7 986.6,849.2 986.7,850.1 986.9,850.2 987,849.8 987.1,851.1 987.2,850.6 987.4,849 987.5,849.6 987.6,850.6 987.7,849.5 987.8,848.6 988,848.9 988.1,848.2 988.2,849.1 988.3,849.4 988.5,849.2 988.6,849.7 988.7,849.6 988.8,849.5 989,848.8 989.1,848.8 989.2,849.5 989.3,849.7 989.5,849.4 989.6,849.7 989.7,850.2 989.8,849.7 990,849.7 990.1,849.7 990.2,849.7 990.3,848.5 990.5,847.4 990.6,848.3 990.7,849 990.8,848 991,847.8 991.1,849 991.2,849 991.3,848.8 991.5,848.2 991.6,848.3 991.7,847.9 991.8,848.4 992,849.1 992.1,849.2 992.2,848.5 992.3,848.2 992.5,849.2 992.6,848.5 992.7,847.7 992.8,848.8 993,849.7 993.1,849.8 993.2,849.5 993.3,848.8 993.5,849 993.6,849.3 993.7,849.3 993.8,849.3 994,848.8 994.1,847.5 994.2,848.8 994.3,849.7 994.5,848.8 994.6,848.5 994.7,848.7 994.8,849 995,849 995.1,848.5 995.2,847.9 995.3,848.3 995.5,848.1 995.6,848.1 995.7,849.2 995.8,848.6 996,847.6 996.1,847.9 996.2,847.5 996.3,846.7 996.5,847.8 996.6,848.9 996.7,847.4 996.8,846.1 997,847.3 997.1,848.7 997.2,848.6 997.3,848.2 997.4,848.7 997.6,848.3 997.7,848.1 997.8,848.7 997.9,847.4 998.1,847.1 998.2,847.6 998.3,846.8 998.4,846.2 998.6,846.7 998.7,847.1 998.8,847.3 998.9,846.3 999.1,845.4 999.2,846.9 999.3,847.2 999.4,846.1 999.6,845.8 999.7,845.1 999.8,844.5 999.9,845.7 1000.1,846.4 1000.2,846.7 1000.3,846.4 1000.4,845.5 1000.6,844 1000.7,843.8 1000.8,846.3 1000.9,846.4 1001.1,844.9 1001.2,844.8 1001.3,844.8 1001.4,843.7 1001.6,842.1 1001.7,840.9 1001.8,840.2 1001.9,838.3 1002.1,837.3 1002.2,838.1 1002.3,839.5 1002.4,841 1002.6,841 1002.7,842.4 1002.8,843.5 1002.9,842.7 1003.1,843.3 1003.2,843.8 1003.3,844.4 1003.4,843.9 1003.6,842.8 1003.7,843.4 1003.8,845 1003.9,845.8 1004.1,844.3 1004.2,842.7 1004.3,843.1 1004.4,843.3 1004.6,843.8 1004.7,844.5 1004.8,844.2 1004.9,843.8 1005.1,844.6 1005.2,844.3 1005.3,842.6 1005.4,843.7 1005.6,845.2 1005.7,844.3 1005.8,843.8 1005.9,845.3 1006.1,844.4 1006.2,842.9 1006.3,843.6 1006.4,842.4 1006.6,842 1006.7,843.5 1006.8,843.5 1006.9,843.6 1007,844 1007.2,843.1 1007.3,843 1007.4,843.4 1007.5,842 1007.7,841.2 1007.8,841.7 1007.9,841.8 1008,841.9 1008.2,841.3 1008.3,841.5 1008.4,841.2 1008.5,841.6 1008.7,842.7 1008.8,842.9 1008.9,842.9 1009,841.7 1009.2,840.7 1009.3,841.2 1009.4,842 1009.5,841.7 1009.7,842.1"/>
<rect class="fr" x="752.1" y="657.5" width="257.6" height="262.8"/>
<path class="tk" d="M793.7 920.2v-5M835.2 920.2v-5M876.8 920.2v-5M918.3 920.2v-5M959.9 920.2v-5M1001.4 920.2v-5M752.1 876.5h5M752.1 832.7h5M752.1 788.9h5M752.1 745.1h5M752.1 701.3h5"/>
<text x="752.1" y="932.7" font-size="12.6" text-anchor="middle">3500</text>
<text x="793.7" y="932.7" font-size="12.6" text-anchor="middle">3000</text>
<text x="835.2" y="932.7" font-size="12.6" text-anchor="middle">2500</text>
<text x="876.8" y="932.7" font-size="12.6" text-anchor="middle">2000</text>
<text x="918.3" y="932.7" font-size="12.6" text-anchor="middle">1500</text>
<text x="959.9" y="932.7" font-size="12.6" text-anchor="middle">1000</text>
<text x="1001.4" y="932.7" font-size="12.6" text-anchor="middle">500</text>
<text x="745.3" y="878.6" font-size="12.6" text-anchor="end">0</text>
<text x="745.3" y="834.8" font-size="12.6" text-anchor="end">500</text>
<text x="745.3" y="791" font-size="12.6" text-anchor="end">1000</text>
<text x="745.3" y="747.2" font-size="12.6" text-anchor="end">1500</text>
<text x="745.3" y="703.4" font-size="12.6" text-anchor="end">2000</text>
<text x="745.3" y="922.4" font-size="12.6" text-anchor="end">-500</text>
<text x="745.3" y="659.6" font-size="12.6" text-anchor="end">2500</text>
<text x="882.5" y="951" font-size="12.9" text-anchor="middle">Raman shift (cm<tspan font-size="7.2" dy="-6.5">-1</tspan><tspan dy="6.5">)</tspan></text>
<text transform="translate(715.7 794) rotate(-90)" font-size="13.1" text-anchor="middle">Raman intensity (a.u)</text>
</g>
<g id="annotations">
<line class="th" x1="581.2" y1="239.8" x2="581.2" y2="262"/>
<line class="th" x1="594.2" y1="255.5" x2="594.2" y2="263"/>
<line class="th" x1="584" y1="460.4" x2="618" y2="460.4"/>
<text x="417.3" y="40.6" font-size="14.3" text-anchor="start">PDMS</text>
<text x="651" y="38" font-size="14.2" text-anchor="start">a</text>
<text x="466" y="48.5" font-size="12.6" text-anchor="start">2907</text>
<text x="429.7" y="147" font-size="12.6" text-anchor="start">2967</text>
<text x="567.8" y="238" font-size="12.6" text-anchor="start">1412</text>
<text x="588" y="253.2" font-size="12.6" text-anchor="start">1263</text>
<text x="629.4" y="245.4" font-size="12.6" text-anchor="start">709</text>
<text x="645.2" y="237.3" font-size="12.6" text-anchor="start">489</text>
<text x="64" y="352" font-size="14.45" text-anchor="start">PDMS+1wt% graphite 3775</text>
<text x="306.5" y="350" font-size="14.2" text-anchor="start">b</text>
<text x="113.5" y="373" font-size="12.6" text-anchor="start">2909</text>
<text x="77" y="467.3" font-size="12.6" text-anchor="start">2967</text>
<text x="119.5" y="498" font-size="12.6" text-anchor="start">2688</text>
<text x="211.5" y="399" font-size="12.6" text-anchor="start">1581</text>
<text x="232.5" y="504" font-size="12.6" text-anchor="start">1336</text>
<text x="283.5" y="444" font-size="12.6" text-anchor="start">711</text>
<text x="296.5" y="393" font-size="12.6" text-anchor="start">490</text>
<text x="406" y="349" font-size="14.6" text-anchor="start">PDMS+1wt% graphite 4124</text>
<text x="655" y="349" font-size="14.2" text-anchor="start">c</text>
<text x="442" y="366" font-size="12.6" text-anchor="start">2908</text>
<text x="421.5" y="484" font-size="12.6" text-anchor="start">2968</text>
<text x="551.7" y="451" font-size="12.6" text-anchor="start">1596</text>
<text x="577.5" y="420" font-size="12.6" text-anchor="start">1338</text>
<text x="616.9" y="463.5" font-size="12.6" text-anchor="start">1408</text>
<text x="643.8" y="455" font-size="12.6" text-anchor="start">492</text>
<text x="630.7" y="495" font-size="12.6" text-anchor="start">711</text>
<text x="747.6" y="358" font-size="15.2" text-anchor="start">PDMS+1wt% graphite 4827</text>
<text x="1001" y="357" font-size="14.6" text-anchor="start">d</text>
<text x="801.4" y="377.4" font-size="13.3" text-anchor="start">2908</text>
<text x="760.7" y="492.3" font-size="13.3" text-anchor="start">2967</text>
<text x="808" y="568" font-size="10.2" text-anchor="start">2674</text>
<text x="885.3" y="573.3" font-size="10.2" text-anchor="start">1621</text>
<text x="900" y="545" font-size="10.2" text-anchor="start">1582</text>
<text x="928" y="550" font-size="10.2" text-anchor="start">1335</text>
<text x="977.5" y="477" font-size="13.3" text-anchor="start">711</text>
<text x="990.5" y="434.3" font-size="13.3" text-anchor="start">490</text>
<text x="60" y="667" font-size="14.7" text-anchor="start">PDMS + 0.1 wt% MLG</text>
<text x="309.5" y="667" font-size="14.2" text-anchor="start">e</text>
<text x="225.3" y="677.3" font-size="12.6" text-anchor="start">1581</text>
<text x="97.7" y="749.7" font-size="12.6" text-anchor="start">2908</text>
<text x="116.7" y="816" font-size="12.6" text-anchor="start">2686</text>
<text x="75.3" y="834.3" font-size="12.6" text-anchor="start">2964</text>
<text x="133.7" y="863" font-size="12.6" text-anchor="start">2638</text>
<text x="233.3" y="863.7" font-size="12.6" text-anchor="start">1336</text>
<text x="285.7" y="833.3" font-size="12.6" text-anchor="start">710</text>
<text x="298.7" y="803" font-size="12.6" text-anchor="start">491</text>
<text x="411" y="677" font-size="14.6" text-anchor="start">PDMS + 0.1 wt% MWCNTs</text>
<text x="655.5" y="674" font-size="14.2" text-anchor="start">f</text>
<text x="460" y="701.3" font-size="12.6" text-anchor="start">2906</text>
<text x="422" y="824" font-size="12.6" text-anchor="start">2965</text>
<text x="470.7" y="882" font-size="12.6" text-anchor="start">2649</text>
<text x="552.7" y="836.3" font-size="12.6" text-anchor="start">1598</text>
<text x="577" y="801.3" font-size="12.6" text-anchor="start">1326</text>
<text x="630" y="828.3" font-size="12.6" text-anchor="start">709</text>
<text x="643.3" y="789.3" font-size="12.6" text-anchor="start">491</text>
<text x="757" y="675" font-size="14.3" text-anchor="start">PDMS+0.5wt% GO</text>
<text x="994" y="672" font-size="14.2" text-anchor="start">g</text>
<text x="896" y="716" font-size="12.6" text-anchor="start">1593</text>
<text x="923" y="690.5" font-size="12.6" text-anchor="start">1342</text>
<text x="780" y="882" font-size="12.6" text-anchor="start">2906</text>
<text x="814" y="880" font-size="12.6" text-anchor="start">2673</text>
</g>
</svg></body></html>
